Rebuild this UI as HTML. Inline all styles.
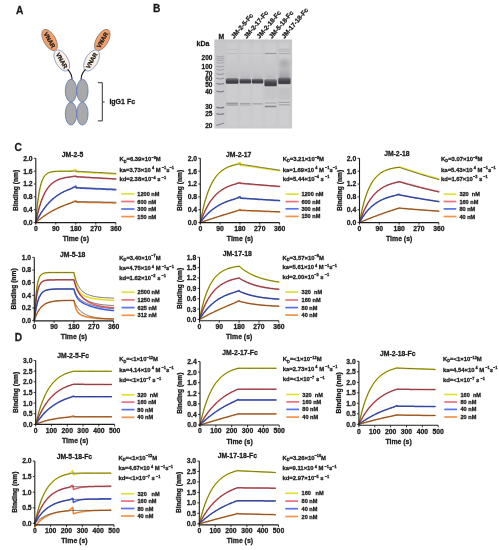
<!DOCTYPE html>
<html><head><meta charset="utf-8"><title>Figure</title>
<style>html,body{margin:0;padding:0;background:#fff;} body{width:499px;height:550px;overflow:hidden;} svg{display:block;filter:blur(0.3px);} text{stroke:#1a1a1a;stroke-width:0.26px;}</style>
</head><body>
<svg width="499" height="550" viewBox="0 0 499 550" font-family="'Liberation Sans', Arial, Helvetica, sans-serif" font-weight="bold">
<rect width="499" height="550" fill="#ffffff"/>
<text x="16" y="13.8" font-size="10.2" text-anchor="start" fill="#1a1a1a" >A</text>
<text x="153" y="11.6" font-size="10.2" text-anchor="start" fill="#1a1a1a" >B</text>
<text x="14.4" y="150.6" font-size="10.2" text-anchor="start" fill="#1a1a1a" >C</text>
<text x="14.8" y="340.6" font-size="10.2" text-anchor="start" fill="#1a1a1a" >D</text>
<g transform="translate(49.6 40.0) rotate(-30)"><ellipse rx="5.9" ry="11.8" fill="#f1a06c" stroke="#7d7470" stroke-width="0.7"/></g>
<text transform="translate(49.6 40.0) rotate(60)" font-size="6.0" text-anchor="middle" dy="2.1" fill="#2a2420">VNAR</text>
<g transform="translate(102.3 40.0) rotate(30)"><ellipse rx="5.9" ry="11.8" fill="#f1a06c" stroke="#7d7470" stroke-width="0.7"/></g>
<text transform="translate(102.3 40.0) rotate(-60)" font-size="6.0" text-anchor="middle" dy="2.1" fill="#2a2420">VNAR</text>
<g transform="translate(61.8 60.5) rotate(-30)"><ellipse rx="6.2" ry="11.7" fill="#fbefe6" stroke="#7f9ccc" stroke-width="0.8"/></g>
<text transform="translate(61.8 60.5) rotate(60)" font-size="6.0" text-anchor="middle" dy="2.1" fill="#2a2420">VNAR</text>
<g transform="translate(91.6 60.5) rotate(30)"><ellipse rx="6.2" ry="11.7" fill="#fbefe6" stroke="#7f9ccc" stroke-width="0.8"/></g>
<text transform="translate(91.6 60.5) rotate(-60)" font-size="6.0" text-anchor="middle" dy="2.1" fill="#2a2420">VNAR</text>
<path d="M67.6 69.4 Q71.5 73 72.2 79.6 M85.6 69.4 Q81.5 73 81.0 79.6" stroke="#111" stroke-width="1.1" fill="none"/>
<ellipse cx="71.0" cy="90.7" rx="5.7" ry="11.4" fill="#a9a9ab" stroke="#5876ad" stroke-width="0.8"/>
<ellipse cx="82.4" cy="90.7" rx="5.7" ry="11.4" fill="#a9a9ab" stroke="#5876ad" stroke-width="0.8"/>
<ellipse cx="71.0" cy="113.7" rx="5.7" ry="11.4" fill="#a9a9ab" stroke="#5876ad" stroke-width="0.8"/>
<ellipse cx="82.4" cy="113.7" rx="5.7" ry="11.4" fill="#a9a9ab" stroke="#5876ad" stroke-width="0.8"/>
<path d="M97.8 82.7 H102.3 V120.9 H97.8 M102.3 102 H104.6" stroke="#333" stroke-width="1" fill="none"/>
<text x="109.4" y="104" font-size="7.0" text-anchor="start" fill="#1a1a1a" >IgG1 Fc</text>
<defs><filter id="b1" x="-20%" y="-80%" width="140%" height="260%"><feGaussianBlur stdDeviation="0.55"/></filter><filter id="b2" x="-20%" y="-50%" width="140%" height="200%"><feGaussianBlur stdDeviation="0.9"/></filter><filter id="b3" x="-30%" y="-30%" width="160%" height="160%"><feGaussianBlur stdDeviation="1.6"/></filter><filter id="b4" x="-20%" y="-60%" width="140%" height="220%"><feGaussianBlur stdDeviation="0.7"/></filter><linearGradient id="gg" x1="0" y1="0" x2="0" y2="1"><stop offset="0" stop-color="#c3c3c5"/><stop offset="0.05" stop-color="#c7c7c9"/><stop offset="1" stop-color="#cacacc"/></linearGradient><linearGradient id="mb" x1="0" y1="0" x2="0" y2="1"><stop offset="0" stop-color="#48484e" stop-opacity="0.35"/><stop offset="0.3" stop-color="#46464c" stop-opacity="0.85"/><stop offset="0.6" stop-color="#404046" stop-opacity="1"/><stop offset="0.88" stop-color="#404046" stop-opacity="1"/><stop offset="1" stop-color="#404046" stop-opacity="0.55"/></linearGradient><linearGradient id="sm" x1="0" y1="0" x2="0" y2="1"><stop offset="0" stop-color="#8e8e94" stop-opacity="0"/><stop offset="0.6" stop-color="#8e8e94" stop-opacity="0.25"/><stop offset="1" stop-color="#8e8e94" stop-opacity="0.75"/></linearGradient></defs>
<rect x="214.3" y="39.5" width="77.8" height="89.0" fill="url(#gg)"/>
<rect x="226.8" y="42.5" width="10.699999999999989" height="83.0" fill="#d2d2d4" opacity="0.5" filter="url(#b2)"/>
<rect x="240.6" y="42.5" width="9.400000000000006" height="83.0" fill="#d2d2d4" opacity="0.5" filter="url(#b2)"/>
<rect x="252.8" y="42.5" width="9.399999999999977" height="83.0" fill="#d2d2d4" opacity="0.5" filter="url(#b2)"/>
<rect x="265.4" y="42.5" width="10.400000000000034" height="83.0" fill="#d2d2d4" opacity="0.5" filter="url(#b2)"/>
<rect x="279.2" y="42.5" width="10.400000000000034" height="83.0" fill="#d2d2d4" opacity="0.5" filter="url(#b2)"/>
<g fill="none" filter="url(#b1)">
<path d="M216.4 56.1 Q220.2 57.699999999999996 224.2 56.1" stroke="#9c9ca4" stroke-width="0.8"/>
<path d="M216.4 58.2 Q220.2 59.8 224.2 58.2" stroke="#9c9ca4" stroke-width="0.8"/>
<path d="M216.4 60.1 Q220.2 61.699999999999996 224.2 60.1" stroke="#a0a0a8" stroke-width="0.8"/>
<path d="M216.4 62.5 Q220.2 64.1 224.2 62.5" stroke="#a0a0a8" stroke-width="0.8"/>
<path d="M216.4 66.2 Q220.2 67.8 224.2 66.2" stroke="#9a9aa2" stroke-width="0.9"/>
<path d="M216.4 69.5 Q220.2 71.1 224.2 69.5" stroke="#9a9aa2" stroke-width="0.9"/>
<path d="M216.4 73.7 Q220.2 75.3 224.2 73.7" stroke="#8e8e96" stroke-width="1.0"/>
<path d="M216.4 78.2 Q220.2 79.8 224.2 78.2" stroke="#8e8e96" stroke-width="1.0"/>
<path d="M216.4 83.3 Q220.2 84.89999999999999 224.2 83.3" stroke="#85858d" stroke-width="1.2"/>
<path d="M216.4 91.0 Q220.2 92.6 224.2 91.0" stroke="#82828a" stroke-width="1.2"/>
<path d="M216.4 107.10000000000001 Q220.2 108.7 224.2 107.10000000000001" stroke="#7a7a82" stroke-width="1.3"/>
<path d="M216.4 113.60000000000001 Q220.2 115.2 224.2 113.60000000000001" stroke="#85858d" stroke-width="1.2"/>
<path d="M216.4 125.4 Q220.2 124.4 224.2 123.0" stroke="#8a8a92" stroke-width="1.1"/>
</g>
<g filter="url(#b2)">
<rect x="226.4" y="56" width="11.49999999999999" height="24" fill="url(#sm)" opacity="0.45"/>
<rect x="240.2" y="56" width="10.200000000000006" height="24" fill="url(#sm)" opacity="0.45"/>
<rect x="252.4" y="56" width="10.199999999999978" height="24" fill="url(#sm)" opacity="0.45"/>
<rect x="265.0" y="56" width="11.200000000000035" height="24" fill="url(#sm)" opacity="0.45"/>
<rect x="278.8" y="55" width="11.200000000000035" height="25" fill="url(#sm)" opacity="1"/>
<rect x="278.8" y="66" width="11.200000000000035" height="14" fill="url(#sm)" opacity="0.6"/>
</g>
<ellipse cx="284.4" cy="63.5" rx="5" ry="4.2" fill="#a9a9ae" opacity="0.8" filter="url(#b3)"/>
<g filter="url(#b4)">
<rect x="225.8" y="78.0" width="12.699999999999989" height="5.900000000000006" rx="1.5" fill="url(#mb)"/>
<rect x="239.6" y="78.4" width="11.400000000000006" height="5.299999999999997" rx="1.5" fill="url(#mb)"/>
<rect x="251.8" y="78.4" width="11.399999999999977" height="5.299999999999997" rx="1.5" fill="url(#mb)"/>
<rect x="264.4" y="79.0" width="12.400000000000034" height="7.599999999999994" rx="1.5" fill="url(#mb)"/>
<rect x="278.2" y="77.4" width="12.400000000000034" height="6.8999999999999915" rx="1.5" fill="url(#mb)"/>
</g>
<g filter="url(#b1)">
<rect x="226.3" y="102.7" width="11.699999999999989" height="1.2" fill="#8e8e95"/>
<rect x="226.3" y="104.4" width="11.699999999999989" height="1.2" fill="#96969c"/>
<rect x="226.3" y="53.300000000000004" width="11.699999999999989" height="0.8" fill="#b6b6ba"/>
<rect x="226.3" y="49.15" width="11.699999999999989" height="0.7" fill="#bdbdc0"/>
<rect x="240.1" y="102.89999999999999" width="10.400000000000006" height="1.4" fill="#a2a2a8"/>
<rect x="240.1" y="104.5" width="10.400000000000006" height="1.0" fill="#aaaaaf"/>
<rect x="240.1" y="53.35" width="10.400000000000006" height="0.7" fill="#bcbcc0"/>
<rect x="252.3" y="103.1" width="10.399999999999977" height="1.4" fill="#a8a8ad"/>
<rect x="252.3" y="53.35" width="10.399999999999977" height="0.7" fill="#bebec1"/>
<rect x="264.9" y="52.95" width="11.400000000000034" height="1.1" fill="#97979d"/>
<rect x="264.9" y="105.75" width="11.400000000000034" height="1.5" fill="#84848b"/>
<rect x="264.9" y="102.5" width="11.400000000000034" height="1.0" fill="#a6a6ab"/>
<rect x="278.7" y="48.800000000000004" width="11.400000000000034" height="0.8" fill="#afafb3"/>
<rect x="278.7" y="50.800000000000004" width="11.400000000000034" height="0.8" fill="#afafb3"/>
<rect x="278.7" y="53.15" width="11.400000000000034" height="0.9" fill="#a8a8ad"/>
<rect x="278.7" y="101.85000000000001" width="11.400000000000034" height="1.1" fill="#a2a2a8"/>
<rect x="278.7" y="104.25" width="11.400000000000034" height="1.1" fill="#a2a2a8"/>
</g>
<g filter="url(#b2)">
<rect x="264.9" y="88.6" width="11.400000000000034" height="1.04" fill="#b4b4b8"/>
<rect x="264.9" y="91.6" width="11.400000000000034" height="1.04" fill="#b6b6ba"/>
<rect x="264.9" y="94.6" width="11.400000000000034" height="1.04" fill="#b6b6ba"/>
<rect x="264.9" y="97.6" width="11.400000000000034" height="1.04" fill="#b8b8bc"/>
<rect x="278.7" y="88.39999999999999" width="11.400000000000034" height="1.04" fill="#b0b0b4"/>
<rect x="278.7" y="90.8" width="11.400000000000034" height="1.04" fill="#b2b2b6"/>
<rect x="278.7" y="93.19999999999999" width="11.400000000000034" height="1.04" fill="#b2b2b6"/>
<rect x="278.7" y="95.6" width="11.400000000000034" height="1.04" fill="#b4b4b8"/>
<rect x="278.7" y="98.0" width="11.400000000000034" height="1.04" fill="#b6b6ba"/>
</g>
<text x="196.6" y="45.7" font-size="7.0" text-anchor="start" fill="#1a1a1a" >kDa</text>
<text x="212.4" y="59.64" font-size="6.5" text-anchor="end" fill="#1a1a1a" >200</text>
<text x="212.4" y="68.74" font-size="6.5" text-anchor="end" fill="#1a1a1a" >100</text>
<text x="212.4" y="76.44" font-size="6.5" text-anchor="end" fill="#1a1a1a" >70</text>
<text x="212.4" y="81.44" font-size="6.5" text-anchor="end" fill="#1a1a1a" >60</text>
<text x="212.4" y="87.04" font-size="6.5" text-anchor="end" fill="#1a1a1a" >50</text>
<text x="212.4" y="94.44" font-size="6.5" text-anchor="end" fill="#1a1a1a" >40</text>
<text x="212.4" y="109.04" font-size="6.5" text-anchor="end" fill="#1a1a1a" >30</text>
<text x="212.4" y="116.24" font-size="6.5" text-anchor="end" fill="#1a1a1a" >25</text>
<text x="212.4" y="128.24" font-size="6.5" text-anchor="end" fill="#1a1a1a" >20</text>
<text x="221.3" y="38.9" font-size="6.8" text-anchor="middle" fill="#1a1a1a" >M</text>
<text transform="translate(234.0 39.0) rotate(-50)" font-size="6.5" fill="#1a1a1a">JM-2-5-Fc</text>
<text transform="translate(246.7 39.0) rotate(-50)" font-size="6.5" fill="#1a1a1a">JM-2-17-Fc</text>
<text transform="translate(259.6 39.0) rotate(-50)" font-size="6.5" fill="#1a1a1a">JM-2-18-Fc</text>
<text transform="translate(271.9 39.0) rotate(-50)" font-size="6.5" fill="#1a1a1a">JM-5-18-Fc</text>
<text transform="translate(284.4 39.0) rotate(-50)" font-size="6.5" fill="#1a1a1a">JM-17-18-Fc</text>
<g fill="none" stroke-linejoin="round" stroke-linecap="round">
<path d="M35.8,222.6 36.4,218.4 36.9,211.5 37.5,205.6 38.1,200.5 38.7,196.3 39.2,192.6 39.8,189.5 40.4,186.8 40.9,184.6 41.5,182.6 42.1,180.9 42.7,179.5 43.2,178.3 43.8,177.3 44.4,176.4 44.9,175.6 45.5,175.0 46.1,174.4 46.7,174.0 47.2,173.6 47.8,173.2 48.4,172.9 48.9,172.7 49.5,172.5 50.1,172.3 50.7,172.1 51.2,172.0 51.8,171.9 52.4,171.8 52.9,171.7 53.5,171.6 54.1,171.5 54.7,171.5 55.2,171.4 55.8,171.4 56.4,171.4 56.9,171.3 57.5,171.3 58.1,171.3 58.7,171.3 59.2,171.3 59.8,171.2 60.4,171.2 60.9,171.2 61.5,171.2 62.1,171.2 62.7,171.2 63.2,171.2 63.8,171.2 64.4,171.2 64.9,171.2 65.5,171.2 66.1,171.2 66.7,171.2 67.2,171.2 67.8,171.2 68.4,171.2 68.9,171.2 69.5,171.2 70.1,171.2 70.7,171.0 71.2,170.9 71.8,170.7 72.4,170.5 72.9,170.4 73.5,170.2 74.1,170.1 74.7,169.9 75.2,169.7 75.8,169.6 76.4,171.8 76.9,171.9 77.5,171.9 78.1,171.9 78.7,172.0 79.2,172.0 79.8,172.0 80.4,172.1 80.9,172.1 81.5,172.1 82.1,172.2 82.7,172.2 83.2,172.2 83.8,172.3 84.4,172.3 84.9,172.3 85.5,172.4 86.1,172.4 86.7,172.4 87.2,172.5 87.8,172.5 88.4,172.5 88.9,172.6 89.5,172.6 90.1,172.6 90.7,172.7 91.2,172.7 91.8,172.7 92.4,172.8 92.9,172.8 93.5,172.8 94.1,172.9 94.7,172.9 95.2,172.9 95.8,172.9 96.4,173.0 96.9,173.0 97.5,173.0 98.1,173.1 98.7,173.1 99.2,173.1 99.8,173.2 100.4,173.2 100.9,173.2 101.5,173.3 102.1,173.3 102.7,173.3 103.2,173.4 103.8,173.4 104.4,173.4 104.9,173.5 105.5,173.5 106.1,173.5 106.7,173.6 107.2,173.6 107.8,173.6 108.4,173.7 108.9,173.7 109.5,173.7 110.1,173.8 110.7,173.8 111.2,173.8 111.8,173.8 112.4,173.9 112.9,173.9 113.5,173.9 114.1,174.0 114.7,174.0 115.2,174.0 115.8,174.1" stroke="#e3dc1c" stroke-width="1.5"/>
<path d="M35.8,222.6 36.4,219.7 36.9,217.0 37.5,214.4 38.1,212.0 38.7,209.8 39.2,207.7 39.8,205.7 40.4,203.9 40.9,202.1 41.5,200.5 42.1,199.0 42.7,197.5 43.2,196.2 43.8,194.9 44.4,193.8 44.9,192.6 45.5,191.6 46.1,190.6 46.7,189.7 47.2,188.9 47.8,188.1 48.4,187.3 48.9,186.6 49.5,185.9 50.1,185.3 50.7,184.7 51.2,184.2 51.8,183.7 52.4,183.2 52.9,182.8 53.5,182.3 54.1,181.9 54.7,181.6 55.2,181.2 55.8,180.9 56.4,180.6 56.9,180.3 57.5,180.0 58.1,179.8 58.7,179.5 59.2,179.3 59.8,179.1 60.4,178.9 60.9,178.7 61.5,178.6 62.1,178.4 62.7,178.3 63.2,178.1 63.8,178.0 64.4,177.9 64.9,177.7 65.5,177.6 66.1,177.5 66.7,177.4 67.2,177.3 67.8,177.3 68.4,177.2 68.9,177.1 69.5,177.0 70.1,177.0 70.7,176.9 71.2,176.7 71.8,176.6 72.4,176.5 72.9,176.4 73.5,176.3 74.1,176.2 74.7,176.1 75.2,176.0 75.8,175.9 76.4,176.9 76.9,176.9 77.5,176.9 78.1,177.0 78.7,177.0 79.2,177.0 79.8,177.1 80.4,177.1 80.9,177.1 81.5,177.2 82.1,177.2 82.7,177.2 83.2,177.3 83.8,177.3 84.4,177.3 84.9,177.3 85.5,177.4 86.1,177.4 86.7,177.4 87.2,177.5 87.8,177.5 88.4,177.5 88.9,177.6 89.5,177.6 90.1,177.6 90.7,177.7 91.2,177.7 91.8,177.7 92.4,177.8 92.9,177.8 93.5,177.8 94.1,177.9 94.7,177.9 95.2,177.9 95.8,178.0 96.4,178.0 96.9,178.0 97.5,178.1 98.1,178.1 98.7,178.1 99.2,178.2 99.8,178.2 100.4,178.2 100.9,178.3 101.5,178.3 102.1,178.3 102.7,178.4 103.2,178.4 103.8,178.4 104.4,178.5 104.9,178.5 105.5,178.5 106.1,178.5 106.7,178.6 107.2,178.6 107.8,178.6 108.4,178.7 108.9,178.7 109.5,178.7 110.1,178.8 110.7,178.8 111.2,178.8 111.8,178.9 112.4,178.9 112.9,178.9 113.5,179.0 114.1,179.0 114.7,179.0 115.2,179.1 115.8,179.1" stroke="#ec5a64" stroke-width="1.5"/>
<path d="M35.8,222.6 36.4,221.4 36.9,220.3 37.5,219.2 38.1,218.1 38.7,217.1 39.2,216.1 39.8,215.1 40.4,214.1 40.9,213.2 41.5,212.3 42.1,211.4 42.7,210.6 43.2,209.8 43.8,209.0 44.4,208.2 44.9,207.4 45.5,206.7 46.1,206.0 46.7,205.3 47.2,204.6 47.8,204.0 48.4,203.3 48.9,202.7 49.5,202.1 50.1,201.6 50.7,201.0 51.2,200.4 51.8,199.9 52.4,199.4 52.9,198.9 53.5,198.4 54.1,197.9 54.7,197.5 55.2,197.0 55.8,196.6 56.4,196.2 56.9,195.8 57.5,195.4 58.1,195.0 58.7,194.6 59.2,194.3 59.8,193.9 60.4,193.6 60.9,193.2 61.5,192.9 62.1,192.6 62.7,192.3 63.2,192.0 63.8,191.7 64.4,191.4 64.9,191.2 65.5,190.9 66.1,190.7 66.7,190.4 67.2,190.2 67.8,189.9 68.4,189.7 68.9,189.5 69.5,189.3 70.1,189.1 70.7,188.8 71.2,188.4 71.8,188.1 72.4,187.8 72.9,187.5 73.5,187.2 74.1,186.9 74.7,186.6 75.2,186.3 75.8,186.0 76.4,188.0 76.9,188.0 77.5,188.0 78.1,188.0 78.7,188.1 79.2,188.1 79.8,188.1 80.4,188.2 80.9,188.2 81.5,188.2 82.1,188.2 82.7,188.3 83.2,188.3 83.8,188.3 84.4,188.3 84.9,188.4 85.5,188.4 86.1,188.4 86.7,188.5 87.2,188.5 87.8,188.5 88.4,188.5 88.9,188.6 89.5,188.6 90.1,188.6 90.7,188.6 91.2,188.7 91.8,188.7 92.4,188.7 92.9,188.7 93.5,188.8 94.1,188.8 94.7,188.8 95.2,188.9 95.8,188.9 96.4,188.9 96.9,188.9 97.5,189.0 98.1,189.0 98.7,189.0 99.2,189.0 99.8,189.1 100.4,189.1 100.9,189.1 101.5,189.1 102.1,189.2 102.7,189.2 103.2,189.2 103.8,189.2 104.4,189.3 104.9,189.3 105.5,189.3 106.1,189.4 106.7,189.4 107.2,189.4 107.8,189.4 108.4,189.5 108.9,189.5 109.5,189.5 110.1,189.5 110.7,189.6 111.2,189.6 111.8,189.6 112.4,189.6 112.9,189.7 113.5,189.7 114.1,189.7 114.7,189.7 115.2,189.8 115.8,189.8" stroke="#3a5ae6" stroke-width="1.5"/>
<path d="M35.8,222.6 36.4,222.1 36.9,221.6 37.5,221.1 38.1,220.6 38.7,220.2 39.2,219.7 39.8,219.2 40.4,218.8 40.9,218.3 41.5,217.9 42.1,217.5 42.7,217.1 43.2,216.7 43.8,216.2 44.4,215.8 44.9,215.5 45.5,215.1 46.1,214.7 46.7,214.3 47.2,213.9 47.8,213.6 48.4,213.2 48.9,212.9 49.5,212.5 50.1,212.2 50.7,211.9 51.2,211.5 51.8,211.2 52.4,210.9 52.9,210.6 53.5,210.3 54.1,210.0 54.7,209.7 55.2,209.4 55.8,209.1 56.4,208.8 56.9,208.5 57.5,208.3 58.1,208.0 58.7,207.7 59.2,207.5 59.8,207.2 60.4,207.0 60.9,206.7 61.5,206.5 62.1,206.2 62.7,206.0 63.2,205.8 63.8,205.5 64.4,205.3 64.9,205.1 65.5,204.9 66.1,204.7 66.7,204.5 67.2,204.2 67.8,204.0 68.4,203.8 68.9,203.6 69.5,203.5 70.1,203.3 70.7,203.0 71.2,202.7 71.8,202.4 72.4,202.2 72.9,201.9 73.5,201.6 74.1,201.4 74.7,201.1 75.2,200.8 75.8,200.6 76.4,202.2 76.9,202.2 77.5,202.2 78.1,202.2 78.7,202.2 79.2,202.2 79.8,202.2 80.4,202.3 80.9,202.3 81.5,202.3 82.1,202.3 82.7,202.3 83.2,202.3 83.8,202.3 84.4,202.3 84.9,202.3 85.5,202.4 86.1,202.4 86.7,202.4 87.2,202.4 87.8,202.4 88.4,202.4 88.9,202.4 89.5,202.4 90.1,202.4 90.7,202.5 91.2,202.5 91.8,202.5 92.4,202.5 92.9,202.5 93.5,202.5 94.1,202.5 94.7,202.5 95.2,202.5 95.8,202.5 96.4,202.6 96.9,202.6 97.5,202.6 98.1,202.6 98.7,202.6 99.2,202.6 99.8,202.6 100.4,202.6 100.9,202.6 101.5,202.7 102.1,202.7 102.7,202.7 103.2,202.7 103.8,202.7 104.4,202.7 104.9,202.7 105.5,202.7 106.1,202.7 106.7,202.7 107.2,202.8 107.8,202.8 108.4,202.8 108.9,202.8 109.5,202.8 110.1,202.8 110.7,202.8 111.2,202.8 111.8,202.8 112.4,202.9 112.9,202.9 113.5,202.9 114.1,202.9 114.7,202.9 115.2,202.9 115.8,202.9" stroke="#f2822a" stroke-width="1.5"/>
<path d="M35.8,222.6 36.9,208.9 38.1,198.9 39.2,191.5 40.4,186.1 41.5,182.2 42.7,179.2 43.8,177.1 44.9,175.5 46.1,174.4 47.2,173.5 48.4,172.9 49.5,172.4 50.7,172.1 51.8,171.8 52.9,171.7 54.1,171.5 55.2,171.4 56.4,171.4 57.5,171.3 58.7,171.3 59.8,171.2 60.9,171.2 62.1,171.2 63.2,171.2 64.4,171.2 65.5,171.2 66.7,171.2 67.8,171.2 68.9,171.2 70.1,171.2 71.2,171.2 72.4,171.2 73.5,171.2 74.7,171.2 75.8,171.2 76.9,171.2 78.1,171.3 79.2,171.4 80.4,171.4 81.5,171.5 82.7,171.6 83.8,171.6 84.9,171.7 86.1,171.8 87.2,171.8 88.4,171.9 89.5,171.9 90.7,172.0 91.8,172.1 92.9,172.1 94.1,172.2 95.2,172.3 96.4,172.3 97.5,172.4 98.7,172.5 99.8,172.5 100.9,172.6 102.1,172.7 103.2,172.7 104.4,172.8 105.5,172.9 106.7,172.9 107.8,173.0 108.9,173.0 110.1,173.1 111.2,173.2 112.4,173.2 113.5,173.3 114.7,173.4 115.8,173.4" stroke="#3a3a3a" stroke-width="0.75" stroke-opacity="0.9"/>
<path d="M35.8,222.6 36.9,217.0 38.1,212.0 39.2,207.7 40.4,203.9 41.5,200.5 42.7,197.5 43.8,194.9 44.9,192.6 46.1,190.6 47.2,188.9 48.4,187.3 49.5,185.9 50.7,184.7 51.8,183.7 52.9,182.8 54.1,181.9 55.2,181.2 56.4,180.6 57.5,180.0 58.7,179.5 59.8,179.1 60.9,178.7 62.1,178.4 63.2,178.1 64.4,177.9 65.5,177.6 66.7,177.4 67.8,177.3 68.9,177.1 70.1,177.0 71.2,176.8 72.4,176.7 73.5,176.7 74.7,176.6 75.8,176.5 76.9,176.6 78.1,176.6 79.2,176.7 80.4,176.8 81.5,176.8 82.7,176.9 83.8,177.0 84.9,177.0 86.1,177.1 87.2,177.2 88.4,177.2 89.5,177.3 90.7,177.4 91.8,177.4 92.9,177.5 94.1,177.6 95.2,177.6 96.4,177.7 97.5,177.7 98.7,177.8 99.8,177.9 100.9,177.9 102.1,178.0 103.2,178.1 104.4,178.1 105.5,178.2 106.7,178.3 107.8,178.3 108.9,178.4 110.1,178.4 111.2,178.5 112.4,178.6 113.5,178.6 114.7,178.7 115.8,178.8" stroke="#3a3a3a" stroke-width="0.75" stroke-opacity="0.9"/>
<path d="M35.8,222.6 36.9,220.3 38.1,218.1 39.2,216.1 40.4,214.1 41.5,212.3 42.7,210.6 43.8,209.0 44.9,207.4 46.1,206.0 47.2,204.6 48.4,203.3 49.5,202.1 50.7,201.0 51.8,199.9 52.9,198.9 54.1,197.9 55.2,197.0 56.4,196.2 57.5,195.4 58.7,194.6 59.8,193.9 60.9,193.2 62.1,192.6 63.2,192.0 64.4,191.4 65.5,190.9 66.7,190.4 67.8,189.9 68.9,189.5 70.1,189.1 71.2,188.7 72.4,188.3 73.5,187.9 74.7,187.6 75.8,187.3 76.9,187.3 78.1,187.4 79.2,187.5 80.4,187.5 81.5,187.6 82.7,187.6 83.8,187.7 84.9,187.7 86.1,187.8 87.2,187.8 88.4,187.9 89.5,187.9 90.7,188.0 91.8,188.0 92.9,188.1 94.1,188.2 95.2,188.2 96.4,188.3 97.5,188.3 98.7,188.4 99.8,188.4 100.9,188.5 102.1,188.5 103.2,188.6 104.4,188.6 105.5,188.7 106.7,188.7 107.8,188.8 108.9,188.8 110.1,188.9 111.2,188.9 112.4,189.0 113.5,189.0 114.7,189.1 115.8,189.2" stroke="#3a3a3a" stroke-width="0.75" stroke-opacity="0.9"/>
<path d="M35.8,222.6 36.9,221.6 38.1,220.6 39.2,219.7 40.4,218.8 41.5,217.9 42.7,217.1 43.8,216.2 44.9,215.5 46.1,214.7 47.2,213.9 48.4,213.2 49.5,212.5 50.7,211.9 51.8,211.2 52.9,210.6 54.1,210.0 55.2,209.4 56.4,208.8 57.5,208.3 58.7,207.7 59.8,207.2 60.9,206.7 62.1,206.2 63.2,205.8 64.4,205.3 65.5,204.9 66.7,204.5 67.8,204.0 68.9,203.6 70.1,203.3 71.2,202.9 72.4,202.5 73.5,202.2 74.7,201.9 75.8,201.5 76.9,201.6 78.1,201.6 79.2,201.6 80.4,201.6 81.5,201.6 82.7,201.7 83.8,201.7 84.9,201.7 86.1,201.7 87.2,201.7 88.4,201.8 89.5,201.8 90.7,201.8 91.8,201.8 92.9,201.9 94.1,201.9 95.2,201.9 96.4,201.9 97.5,201.9 98.7,202.0 99.8,202.0 100.9,202.0 102.1,202.0 103.2,202.0 104.4,202.1 105.5,202.1 106.7,202.1 107.8,202.1 108.9,202.1 110.1,202.2 111.2,202.2 112.4,202.2 113.5,202.2 114.7,202.3 115.8,202.3" stroke="#3a3a3a" stroke-width="0.75" stroke-opacity="0.9"/>
</g>
<path d="M35.8 158.3 V222.6 H115.8" stroke="#1e1e1e" stroke-width="1.1" fill="none"/>
<path d="M33.8 222.6 H35.8 M33.8 209.74 H35.8 M33.8 196.88 H35.8 M33.8 184.02 H35.8 M33.8 171.16 H35.8 M33.8 158.3 H35.8 M35.8 222.6 V224.6 M55.8 222.6 V224.6 M75.8 222.6 V224.6 M95.8 222.6 V224.6 M115.8 222.6 V224.6" stroke="#1e1e1e" stroke-width="0.9" fill="none"/>
<text x="32.6" y="225.05" font-size="6.8" text-anchor="end" fill="#1a1a1a" >0.0</text>
<text x="32.6" y="212.19" font-size="6.8" text-anchor="end" fill="#1a1a1a" >0.4</text>
<text x="32.6" y="199.33" font-size="6.8" text-anchor="end" fill="#1a1a1a" >0.8</text>
<text x="32.6" y="186.47" font-size="6.8" text-anchor="end" fill="#1a1a1a" >1.2</text>
<text x="32.6" y="173.61" font-size="6.8" text-anchor="end" fill="#1a1a1a" >1.6</text>
<text x="32.6" y="160.75" font-size="6.8" text-anchor="end" fill="#1a1a1a" >2.0</text>
<text x="35.8" y="230.85" font-size="6.8" text-anchor="middle" fill="#1a1a1a" >0</text>
<text x="55.8" y="230.85" font-size="6.8" text-anchor="middle" fill="#1a1a1a" >90</text>
<text x="75.8" y="230.85" font-size="6.8" text-anchor="middle" fill="#1a1a1a" >180</text>
<text x="95.8" y="230.85" font-size="6.8" text-anchor="middle" fill="#1a1a1a" >270</text>
<text x="115.8" y="230.85" font-size="6.8" text-anchor="middle" fill="#1a1a1a" >360</text>
<text x="75.8" y="241.18" font-size="6.9" text-anchor="middle" fill="#1a1a1a" >Time (s)</text>
<text transform="translate(17.81 190.45) rotate(-90)" font-size="6.7" text-anchor="middle" fill="#1a1a1a">Binding (nm)</text>
<text x="72.5" y="156.8" font-size="6.8" text-anchor="middle" fill="#1a1a1a" >JM-2-5</text>
<text x="119.4" y="161.12" font-size="5.9" fill="#1a1a1a">K<tspan font-size="3.9" dy="1.4">D</tspan><tspan dy="-1.4">=6.39×10</tspan><tspan font-size="3.9" dy="-2.5">−9</tspan><tspan dy="2.5">M</tspan></text>
<text x="119.4" y="171.72" font-size="5.9" fill="#1a1a1a">ka=3.73×10<tspan font-size="3.9" dy="-2.5"> 4</tspan><tspan dy="2.5"> M</tspan><tspan font-size="3.9" dy="-2.5"> −1</tspan><tspan dy="2.5">s</tspan><tspan font-size="3.9" dy="-2.5">−1</tspan></text>
<text x="119.4" y="181.12" font-size="5.9" fill="#1a1a1a">kd=2.38×10<tspan font-size="3.9" dy="-2.5">−4</tspan><tspan dy="2.5"> s</tspan><tspan font-size="3.9" dy="-2.5"> −1</tspan></text>
<path d="M121.2 193.8 H134.5" stroke="#e2df38" stroke-width="1.7"/>
<text x="137.3" y="195.82" font-size="5.6" text-anchor="start" fill="#1a1a1a" >1200 nM</text>
<path d="M121.2 201.5 H134.5" stroke="#ef6f7a" stroke-width="1.7"/>
<text x="137.3" y="203.52" font-size="5.6" text-anchor="start" fill="#1a1a1a" >600 nM</text>
<path d="M121.2 209 H134.5" stroke="#5672ee" stroke-width="1.7"/>
<text x="137.3" y="211.02" font-size="5.6" text-anchor="start" fill="#1a1a1a" >300 nM</text>
<path d="M121.2 216.6 H134.5" stroke="#f5924a" stroke-width="1.7"/>
<text x="137.3" y="218.62" font-size="5.6" text-anchor="start" fill="#1a1a1a" >150 nM</text>
<g fill="none" stroke-linejoin="round" stroke-linecap="round">
<path d="M200.3,222.6 200.9,219.5 201.4,216.6 202.0,213.8 202.6,211.2 203.1,208.7 203.7,206.4 204.3,204.1 204.8,202.0 205.4,200.0 206.0,198.1 206.5,196.2 207.1,194.5 207.7,192.9 208.2,191.3 208.8,189.9 209.4,188.5 209.9,187.1 210.5,185.9 211.1,184.7 211.6,183.5 212.2,182.5 212.8,181.4 213.3,180.5 213.9,179.6 214.5,178.7 215.0,177.9 215.6,177.1 216.2,176.3 216.7,175.6 217.3,174.9 217.9,174.3 218.4,173.7 219.0,173.1 219.6,172.6 220.1,172.1 220.7,171.6 221.3,171.1 221.8,170.7 222.4,170.3 223.0,169.9 223.5,169.5 224.1,169.1 224.7,168.8 225.2,168.5 225.8,168.2 226.4,167.9 226.9,167.6 227.5,167.3 228.1,167.1 228.6,166.8 229.2,166.6 229.8,166.4 230.3,166.2 230.9,166.0 231.5,165.8 232.0,165.7 232.6,165.5 233.2,165.3 233.7,165.2 234.3,165.1 234.9,164.8 235.4,164.5 236.0,164.2 236.6,164.0 237.1,163.7 237.7,163.4 238.3,163.2 238.8,162.9 239.4,162.6 240.0,162.4 240.5,165.6 241.1,165.6 241.6,165.6 242.2,165.6 242.8,165.6 243.3,165.6 243.9,165.7 244.5,165.7 245.0,165.8 245.6,165.8 246.2,165.9 246.7,165.9 247.3,166.0 247.9,166.1 248.4,166.2 249.0,166.2 249.6,166.3 250.1,166.4 250.7,166.5 251.3,166.5 251.8,166.6 252.4,166.7 253.0,166.8 253.5,166.9 254.1,166.9 254.7,167.0 255.2,167.1 255.8,167.2 256.4,167.3 256.9,167.4 257.5,167.4 258.1,167.5 258.6,167.6 259.2,167.7 259.8,167.8 260.3,167.9 260.9,168.0 261.5,168.0 262.0,168.1 262.6,168.2 263.2,168.3 263.7,168.4 264.3,168.5 264.9,168.6 265.4,168.6 266.0,168.7 266.6,168.8 267.1,168.9 267.7,169.0 268.3,169.1 268.8,169.2 269.4,169.2 270.0,169.3 270.5,169.4 271.1,169.5 271.7,169.6 272.2,169.7 272.8,169.7 273.4,169.8 273.9,169.9 274.5,170.0 275.1,170.1 275.6,170.2 276.2,170.2 276.8,170.3 277.3,170.4 277.9,170.5 278.5,170.6 279.0,170.7 279.6,170.7" stroke="#e3dc1c" stroke-width="1.5"/>
<path d="M200.3,222.6 200.9,221.0 201.4,219.4 202.0,217.9 202.6,216.5 203.1,215.1 203.7,213.8 204.3,212.5 204.8,211.2 205.4,210.1 206.0,208.9 206.5,207.8 207.1,206.8 207.7,205.8 208.2,204.8 208.8,203.8 209.4,202.9 209.9,202.1 210.5,201.2 211.1,200.4 211.6,199.7 212.2,198.9 212.8,198.2 213.3,197.5 213.9,196.9 214.5,196.2 215.0,195.6 215.6,195.0 216.2,194.5 216.7,193.9 217.3,193.4 217.9,192.9 218.4,192.4 219.0,192.0 219.6,191.5 220.1,191.1 220.7,190.7 221.3,190.3 221.8,189.9 222.4,189.5 223.0,189.2 223.5,188.8 224.1,188.5 224.7,188.2 225.2,187.9 225.8,187.6 226.4,187.3 226.9,187.1 227.5,186.8 228.1,186.6 228.6,186.3 229.2,186.1 229.8,185.9 230.3,185.6 230.9,185.4 231.5,185.2 232.0,185.1 232.6,184.9 233.2,184.7 233.7,184.5 234.3,184.4 234.9,184.2 235.4,184.0 236.0,183.7 236.6,183.5 237.1,183.3 237.7,183.1 238.3,183.0 238.8,182.8 239.4,182.6 240.0,182.4 240.5,183.4 241.1,183.5 241.6,183.5 242.2,183.6 242.8,183.6 243.3,183.7 243.9,183.7 244.5,183.8 245.0,183.8 245.6,183.9 246.2,183.9 246.7,184.0 247.3,184.0 247.9,184.0 248.4,184.1 249.0,184.1 249.6,184.2 250.1,184.2 250.7,184.3 251.3,184.3 251.8,184.4 252.4,184.4 253.0,184.5 253.5,184.5 254.1,184.6 254.7,184.6 255.2,184.7 255.8,184.7 256.4,184.7 256.9,184.8 257.5,184.8 258.1,184.9 258.6,184.9 259.2,185.0 259.8,185.0 260.3,185.1 260.9,185.1 261.5,185.2 262.0,185.2 262.6,185.3 263.2,185.3 263.7,185.3 264.3,185.4 264.9,185.4 265.4,185.5 266.0,185.5 266.6,185.6 267.1,185.6 267.7,185.7 268.3,185.7 268.8,185.7 269.4,185.8 270.0,185.8 270.5,185.9 271.1,185.9 271.7,186.0 272.2,186.0 272.8,186.1 273.4,186.1 273.9,186.2 274.5,186.2 275.1,186.2 275.6,186.3 276.2,186.3 276.8,186.4 277.3,186.4 277.9,186.5 278.5,186.5 279.0,186.5 279.6,186.6" stroke="#ec5a64" stroke-width="1.5"/>
<path d="M200.3,222.6 200.9,221.8 201.4,221.0 202.0,220.3 202.6,219.5 203.1,218.8 203.7,218.1 204.3,217.5 204.8,216.8 205.4,216.2 206.0,215.6 206.5,215.0 207.1,214.4 207.7,213.8 208.2,213.3 208.8,212.7 209.4,212.2 209.9,211.7 210.5,211.2 211.1,210.7 211.6,210.2 212.2,209.8 212.8,209.3 213.3,208.9 213.9,208.5 214.5,208.1 215.0,207.7 215.6,207.3 216.2,206.9 216.7,206.6 217.3,206.2 217.9,205.9 218.4,205.5 219.0,205.2 219.6,204.9 220.1,204.6 220.7,204.3 221.3,204.0 221.8,203.7 222.4,203.4 223.0,203.2 223.5,202.9 224.1,202.7 224.7,202.4 225.2,202.2 225.8,202.0 226.4,201.7 226.9,201.5 227.5,201.3 228.1,201.1 228.6,200.9 229.2,200.7 229.8,200.5 230.3,200.3 230.9,200.1 231.5,200.0 232.0,199.8 232.6,199.6 233.2,199.5 233.7,199.3 234.3,199.2 234.9,198.9 235.4,198.6 236.0,198.4 236.6,198.1 237.1,197.8 237.7,197.6 238.3,197.3 238.8,197.1 239.4,196.8 240.0,196.6 240.5,198.2 241.1,198.2 241.6,198.3 242.2,198.3 242.8,198.4 243.3,198.4 243.9,198.4 244.5,198.5 245.0,198.5 245.6,198.5 246.2,198.6 246.7,198.6 247.3,198.7 247.9,198.7 248.4,198.7 249.0,198.8 249.6,198.8 250.1,198.8 250.7,198.9 251.3,198.9 251.8,199.0 252.4,199.0 253.0,199.0 253.5,199.1 254.1,199.1 254.7,199.1 255.2,199.2 255.8,199.2 256.4,199.2 256.9,199.3 257.5,199.3 258.1,199.4 258.6,199.4 259.2,199.4 259.8,199.5 260.3,199.5 260.9,199.5 261.5,199.6 262.0,199.6 262.6,199.6 263.2,199.7 263.7,199.7 264.3,199.8 264.9,199.8 265.4,199.8 266.0,199.9 266.6,199.9 267.1,199.9 267.7,200.0 268.3,200.0 268.8,200.0 269.4,200.1 270.0,200.1 270.5,200.1 271.1,200.2 271.7,200.2 272.2,200.2 272.8,200.3 273.4,200.3 273.9,200.4 274.5,200.4 275.1,200.4 275.6,200.5 276.2,200.5 276.8,200.5 277.3,200.6 277.9,200.6 278.5,200.6 279.0,200.7 279.6,200.7" stroke="#3a5ae6" stroke-width="1.5"/>
<path d="M200.3,222.6 200.9,222.4 201.4,222.2 202.0,222.0 202.6,221.8 203.1,221.6 203.7,221.4 204.3,221.2 204.8,221.0 205.4,220.8 206.0,220.6 206.5,220.5 207.1,220.3 207.7,220.1 208.2,219.9 208.8,219.7 209.4,219.5 209.9,219.3 210.5,219.1 211.1,218.9 211.6,218.8 212.2,218.6 212.8,218.4 213.3,218.2 213.9,218.0 214.5,217.8 215.0,217.6 215.6,217.5 216.2,217.3 216.7,217.1 217.3,216.9 217.9,216.7 218.4,216.6 219.0,216.4 219.6,216.2 220.1,216.0 220.7,215.8 221.3,215.7 221.8,215.5 222.4,215.3 223.0,215.1 223.5,215.0 224.1,214.8 224.7,214.6 225.2,214.4 225.8,214.3 226.4,214.1 226.9,213.9 227.5,213.7 228.1,213.6 228.6,213.4 229.2,213.2 229.8,213.1 230.3,212.9 230.9,212.7 231.5,212.5 232.0,212.4 232.6,212.2 233.2,212.0 233.7,211.9 234.3,211.7 234.9,211.5 235.4,211.3 236.0,211.0 236.6,210.8 237.1,210.6 237.7,210.4 238.3,210.1 238.8,209.9 239.4,209.7 240.0,209.4 240.5,210.4 241.1,210.5 241.6,210.5 242.2,210.5 242.8,210.5 243.3,210.6 243.9,210.6 244.5,210.6 245.0,210.6 245.6,210.6 246.2,210.7 246.7,210.7 247.3,210.7 247.9,210.7 248.4,210.8 249.0,210.8 249.6,210.8 250.1,210.8 250.7,210.9 251.3,210.9 251.8,210.9 252.4,210.9 253.0,211.0 253.5,211.0 254.1,211.0 254.7,211.0 255.2,211.0 255.8,211.1 256.4,211.1 256.9,211.1 257.5,211.1 258.1,211.2 258.6,211.2 259.2,211.2 259.8,211.2 260.3,211.3 260.9,211.3 261.5,211.3 262.0,211.3 262.6,211.3 263.2,211.4 263.7,211.4 264.3,211.4 264.9,211.4 265.4,211.5 266.0,211.5 266.6,211.5 267.1,211.5 267.7,211.5 268.3,211.6 268.8,211.6 269.4,211.6 270.0,211.6 270.5,211.7 271.1,211.7 271.7,211.7 272.2,211.7 272.8,211.7 273.4,211.8 273.9,211.8 274.5,211.8 275.1,211.8 275.6,211.9 276.2,211.9 276.8,211.9 277.3,211.9 277.9,211.9 278.5,212.0 279.0,212.0 279.6,212.0" stroke="#f2822a" stroke-width="1.5"/>
<path d="M200.3,222.6 201.4,216.6 202.6,211.2 203.7,206.4 204.8,202.0 206.0,198.1 207.1,194.5 208.2,191.3 209.4,188.5 210.5,185.9 211.6,183.5 212.8,181.4 213.9,179.6 215.0,177.9 216.2,176.3 217.3,174.9 218.4,173.7 219.6,172.6 220.7,171.6 221.8,170.7 223.0,169.9 224.1,169.1 225.2,168.5 226.4,167.9 227.5,167.3 228.6,166.8 229.8,166.4 230.9,166.0 232.0,165.7 233.2,165.3 234.3,165.1 235.4,164.8 236.6,164.6 237.7,164.4 238.8,164.2 240.0,164.0 241.1,164.2 242.2,164.4 243.3,164.6 244.5,164.7 245.6,164.9 246.7,165.1 247.9,165.3 249.0,165.5 250.1,165.6 251.3,165.8 252.4,166.0 253.5,166.2 254.7,166.3 255.8,166.5 256.9,166.7 258.1,166.9 259.2,167.1 260.3,167.2 261.5,167.4 262.6,167.6 263.7,167.7 264.9,167.9 266.0,168.1 267.1,168.3 268.3,168.4 269.4,168.6 270.5,168.8 271.7,168.9 272.8,169.1 273.9,169.3 275.1,169.4 276.2,169.6 277.3,169.8 278.5,169.9 279.6,170.1" stroke="#3a3a3a" stroke-width="0.75" stroke-opacity="0.9"/>
<path d="M200.3,222.6 201.4,219.4 202.6,216.5 203.7,213.8 204.8,211.2 206.0,208.9 207.1,206.8 208.2,204.8 209.4,202.9 210.5,201.2 211.6,199.7 212.8,198.2 213.9,196.9 215.0,195.6 216.2,194.5 217.3,193.4 218.4,192.4 219.6,191.5 220.7,190.7 221.8,189.9 223.0,189.2 224.1,188.5 225.2,187.9 226.4,187.3 227.5,186.8 228.6,186.3 229.8,185.9 230.9,185.4 232.0,185.1 233.2,184.7 234.3,184.4 235.4,184.1 236.6,183.8 237.7,183.5 238.8,183.3 240.0,183.1 241.1,183.2 242.2,183.3 243.3,183.3 244.5,183.4 245.6,183.5 246.7,183.6 247.9,183.7 249.0,183.8 250.1,183.9 251.3,184.0 252.4,184.1 253.5,184.2 254.7,184.3 255.8,184.4 256.9,184.5 258.1,184.6 259.2,184.7 260.3,184.7 261.5,184.8 262.6,184.9 263.7,185.0 264.9,185.1 266.0,185.2 267.1,185.3 268.3,185.4 269.4,185.5 270.5,185.6 271.7,185.7 272.8,185.7 273.9,185.8 275.1,185.9 276.2,186.0 277.3,186.1 278.5,186.2 279.6,186.3" stroke="#3a3a3a" stroke-width="0.75" stroke-opacity="0.9"/>
<path d="M200.3,222.6 201.4,221.0 202.6,219.5 203.7,218.1 204.8,216.8 206.0,215.6 207.1,214.4 208.2,213.3 209.4,212.2 210.5,211.2 211.6,210.2 212.8,209.3 213.9,208.5 215.0,207.7 216.2,206.9 217.3,206.2 218.4,205.5 219.6,204.9 220.7,204.3 221.8,203.7 223.0,203.2 224.1,202.7 225.2,202.2 226.4,201.7 227.5,201.3 228.6,200.9 229.8,200.5 230.9,200.1 232.0,199.8 233.2,199.5 234.3,199.2 235.4,198.9 236.6,198.6 237.7,198.3 238.8,198.1 240.0,197.8 241.1,197.9 242.2,198.0 243.3,198.1 244.5,198.1 245.6,198.2 246.7,198.3 247.9,198.4 249.0,198.4 250.1,198.5 251.3,198.6 252.4,198.7 253.5,198.7 254.7,198.8 255.8,198.9 256.9,199.0 258.1,199.0 259.2,199.1 260.3,199.2 261.5,199.3 262.6,199.3 263.7,199.4 264.9,199.5 266.0,199.5 267.1,199.6 268.3,199.7 269.4,199.8 270.5,199.8 271.7,199.9 272.8,200.0 273.9,200.0 275.1,200.1 276.2,200.2 277.3,200.2 278.5,200.3 279.6,200.4" stroke="#3a3a3a" stroke-width="0.75" stroke-opacity="0.9"/>
<path d="M200.3,222.6 201.4,222.2 202.6,221.8 203.7,221.4 204.8,221.0 206.0,220.6 207.1,220.3 208.2,219.9 209.4,219.5 210.5,219.1 211.6,218.8 212.8,218.4 213.9,218.0 215.0,217.6 216.2,217.3 217.3,216.9 218.4,216.6 219.6,216.2 220.7,215.8 221.8,215.5 223.0,215.1 224.1,214.8 225.2,214.4 226.4,214.1 227.5,213.7 228.6,213.4 229.8,213.1 230.9,212.7 232.0,212.4 233.2,212.0 234.3,211.7 235.4,211.4 236.6,211.1 237.7,210.7 238.8,210.4 240.0,210.1 241.1,210.1 242.2,210.2 243.3,210.2 244.5,210.3 245.6,210.3 246.7,210.4 247.9,210.4 249.0,210.5 250.1,210.5 251.3,210.6 252.4,210.6 253.5,210.7 254.7,210.7 255.8,210.8 256.9,210.8 258.1,210.8 259.2,210.9 260.3,210.9 261.5,211.0 262.6,211.0 263.7,211.1 264.9,211.1 266.0,211.2 267.1,211.2 268.3,211.2 269.4,211.3 270.5,211.3 271.7,211.4 272.8,211.4 273.9,211.5 275.1,211.5 276.2,211.6 277.3,211.6 278.5,211.6 279.6,211.7" stroke="#3a3a3a" stroke-width="0.75" stroke-opacity="0.9"/>
</g>
<path d="M200.3 158.3 V222.6 H279.6" stroke="#1e1e1e" stroke-width="1.1" fill="none"/>
<path d="M198.3 222.6 H200.3 M198.3 209.74 H200.3 M198.3 196.88 H200.3 M198.3 184.02 H200.3 M198.3 171.16 H200.3 M198.3 158.3 H200.3 M200.3 222.6 V224.6 M220.12 222.6 V224.6 M239.95 222.6 V224.6 M259.77 222.6 V224.6 M279.6 222.6 V224.6" stroke="#1e1e1e" stroke-width="0.9" fill="none"/>
<text x="197.1" y="225.05" font-size="6.8" text-anchor="end" fill="#1a1a1a" >0.0</text>
<text x="197.1" y="212.19" font-size="6.8" text-anchor="end" fill="#1a1a1a" >0.4</text>
<text x="197.1" y="199.33" font-size="6.8" text-anchor="end" fill="#1a1a1a" >0.8</text>
<text x="197.1" y="186.47" font-size="6.8" text-anchor="end" fill="#1a1a1a" >1.2</text>
<text x="197.1" y="173.61" font-size="6.8" text-anchor="end" fill="#1a1a1a" >1.6</text>
<text x="197.1" y="160.75" font-size="6.8" text-anchor="end" fill="#1a1a1a" >2.0</text>
<text x="200.3" y="230.85" font-size="6.8" text-anchor="middle" fill="#1a1a1a" >0</text>
<text x="220.12" y="230.85" font-size="6.8" text-anchor="middle" fill="#1a1a1a" >90</text>
<text x="239.95" y="230.85" font-size="6.8" text-anchor="middle" fill="#1a1a1a" >180</text>
<text x="259.77" y="230.85" font-size="6.8" text-anchor="middle" fill="#1a1a1a" >270</text>
<text x="279.6" y="230.85" font-size="6.8" text-anchor="middle" fill="#1a1a1a" >360</text>
<text x="239.95" y="241.18" font-size="6.9" text-anchor="middle" fill="#1a1a1a" >Time (s)</text>
<text transform="translate(182.31 190.45) rotate(-90)" font-size="6.7" text-anchor="middle" fill="#1a1a1a">Binding (nm)</text>
<text x="238.6" y="157" font-size="6.8" text-anchor="middle" fill="#1a1a1a" >JM-2-17</text>
<text x="282.7" y="161.02" font-size="5.9" fill="#1a1a1a">K<tspan font-size="3.9" dy="1.4">D</tspan><tspan dy="-1.4">=3.21×10</tspan><tspan font-size="3.9" dy="-2.5">−8</tspan><tspan dy="2.5">M</tspan></text>
<text x="282.7" y="171.52" font-size="5.9" fill="#1a1a1a">ka=1.69×10<tspan font-size="3.9" dy="-2.5"> 4</tspan><tspan dy="2.5"> M</tspan><tspan font-size="3.9" dy="-2.5"> −1</tspan><tspan dy="2.5">s</tspan><tspan font-size="3.9" dy="-2.5">−1</tspan></text>
<text x="282.7" y="180.82" font-size="5.9" fill="#1a1a1a">kd=5.44×10<tspan font-size="3.9" dy="-2.5">−4</tspan><tspan dy="2.5"> s</tspan><tspan font-size="3.9" dy="-2.5"> −1</tspan></text>
<path d="M285.5 194.1 H298.6" stroke="#e2df38" stroke-width="1.7"/>
<text x="301.4" y="196.12" font-size="5.6" text-anchor="start" fill="#1a1a1a" >1200 nM</text>
<path d="M285.5 201.6 H298.6" stroke="#ef6f7a" stroke-width="1.7"/>
<text x="301.4" y="203.62" font-size="5.6" text-anchor="start" fill="#1a1a1a" >600 nM</text>
<path d="M285.5 208.8 H298.6" stroke="#5672ee" stroke-width="1.7"/>
<text x="301.4" y="210.82" font-size="5.6" text-anchor="start" fill="#1a1a1a" >300 nM</text>
<path d="M285.5 216.4 H298.6" stroke="#f5924a" stroke-width="1.7"/>
<text x="301.4" y="218.42" font-size="5.6" text-anchor="start" fill="#1a1a1a" >150 nM</text>
<g fill="none" stroke-linejoin="round" stroke-linecap="round">
<path d="M359.5,222.6 360.1,219.5 360.6,216.6 361.2,213.8 361.8,211.2 362.3,208.8 362.9,206.4 363.5,204.2 364.0,202.1 364.6,200.2 365.2,198.3 365.7,196.6 366.3,194.9 366.9,193.3 367.4,191.8 368.0,190.4 368.6,189.1 369.1,187.9 369.7,186.7 370.3,185.6 370.8,184.5 371.4,183.5 372.0,182.5 372.5,181.7 373.1,180.8 373.7,180.0 374.2,179.3 374.8,178.5 375.4,177.9 375.9,177.2 376.5,176.6 377.1,176.1 377.6,175.5 378.2,175.0 378.8,174.5 379.3,174.1 379.9,173.6 380.5,173.2 381.0,172.8 381.6,172.5 382.2,172.1 382.7,171.8 383.3,171.5 383.9,171.2 384.4,170.9 385.0,170.7 385.6,170.4 386.1,170.2 386.7,170.0 387.3,169.8 387.8,169.6 388.4,169.4 389.0,169.2 389.5,169.1 390.1,168.9 390.7,168.8 391.2,168.6 391.8,168.5 392.4,168.4 392.9,168.2 393.5,168.1 394.1,168.0 394.6,167.9 395.2,167.8 395.8,167.7 396.3,167.7 396.9,167.6 397.5,167.5 398.0,167.4 398.6,167.4 399.1,167.3 399.7,166.9 400.3,167.1 400.8,167.3 401.4,167.4 402.0,167.6 402.5,167.8 403.1,168.0 403.7,168.2 404.2,168.4 404.8,168.6 405.4,168.8 405.9,169.0 406.5,169.2 407.1,169.4 407.6,169.5 408.2,169.7 408.8,169.9 409.3,170.1 409.9,170.3 410.5,170.5 411.0,170.7 411.6,170.8 412.2,171.0 412.7,171.2 413.3,171.4 413.9,171.6 414.4,171.7 415.0,171.9 415.6,172.1 416.1,172.3 416.7,172.5 417.3,172.6 417.8,172.8 418.4,173.0 419.0,173.2 419.5,173.3 420.1,173.5 420.7,173.7 421.2,173.9 421.8,174.0 422.4,174.2 422.9,174.4 423.5,174.5 424.1,174.7 424.6,174.9 425.2,175.0 425.8,175.2 426.3,175.4 426.9,175.5 427.5,175.7 428.0,175.9 428.6,176.0 429.2,176.2 429.7,176.4 430.3,176.5 430.9,176.7 431.4,176.9 432.0,177.0 432.6,177.2 433.1,177.3 433.7,177.5 434.3,177.7 434.8,177.8 435.4,178.0 436.0,178.1 436.5,178.3 437.1,178.4 437.7,178.6 438.2,178.7 438.8,178.9" stroke="#e3dc1c" stroke-width="1.5"/>
<path d="M359.5,222.6 360.1,220.9 360.6,219.3 361.2,217.7 361.8,216.2 362.3,214.7 362.9,213.3 363.5,212.0 364.0,210.7 364.6,209.4 365.2,208.3 365.7,207.1 366.3,206.0 366.9,205.0 367.4,203.9 368.0,203.0 368.6,202.0 369.1,201.1 369.7,200.3 370.3,199.5 370.8,198.7 371.4,197.9 372.0,197.2 372.5,196.4 373.1,195.8 373.7,195.1 374.2,194.5 374.8,193.9 375.4,193.3 375.9,192.8 376.5,192.2 377.1,191.7 377.6,191.2 378.2,190.7 378.8,190.3 379.3,189.9 379.9,189.4 380.5,189.0 381.0,188.6 381.6,188.3 382.2,187.9 382.7,187.6 383.3,187.2 383.9,186.9 384.4,186.6 385.0,186.3 385.6,186.1 386.1,185.8 386.7,185.5 387.3,185.3 387.8,185.0 388.4,184.8 389.0,184.6 389.5,184.4 390.1,184.2 390.7,184.0 391.2,183.8 391.8,183.6 392.4,183.4 392.9,183.3 393.5,183.1 394.1,183.0 394.6,182.8 395.2,182.7 395.8,182.5 396.3,182.4 396.9,182.3 397.5,182.2 398.0,182.0 398.6,181.9 399.1,181.8 399.7,181.7 400.3,181.8 400.8,182.0 401.4,182.2 402.0,182.3 402.5,182.5 403.1,182.7 403.7,182.8 404.2,183.0 404.8,183.1 405.4,183.3 405.9,183.5 406.5,183.6 407.1,183.8 407.6,183.9 408.2,184.1 408.8,184.2 409.3,184.4 409.9,184.6 410.5,184.7 411.0,184.9 411.6,185.0 412.2,185.2 412.7,185.3 413.3,185.5 413.9,185.6 414.4,185.8 415.0,185.9 415.6,186.1 416.1,186.2 416.7,186.4 417.3,186.5 417.8,186.7 418.4,186.8 419.0,187.0 419.5,187.1 420.1,187.3 420.7,187.4 421.2,187.5 421.8,187.7 422.4,187.8 422.9,188.0 423.5,188.1 424.1,188.2 424.6,188.4 425.2,188.5 425.8,188.7 426.3,188.8 426.9,188.9 427.5,189.1 428.0,189.2 428.6,189.3 429.2,189.5 429.7,189.6 430.3,189.8 430.9,189.9 431.4,190.0 432.0,190.2 432.6,190.3 433.1,190.4 433.7,190.5 434.3,190.7 434.8,190.8 435.4,190.9 436.0,191.1 436.5,191.2 437.1,191.3 437.7,191.4 438.2,191.6 438.8,191.7" stroke="#ec5a64" stroke-width="1.5"/>
<path d="M359.5,222.6 360.1,221.5 360.6,220.5 361.2,219.6 361.8,218.6 362.3,217.7 362.9,216.8 363.5,216.0 364.0,215.1 364.6,214.4 365.2,213.6 365.7,212.8 366.3,212.1 366.9,211.4 367.4,210.8 368.0,210.1 368.6,209.5 369.1,208.9 369.7,208.3 370.3,207.8 370.8,207.3 371.4,206.7 372.0,206.2 372.5,205.7 373.1,205.3 373.7,204.8 374.2,204.4 374.8,204.0 375.4,203.6 375.9,203.2 376.5,202.8 377.1,202.4 377.6,202.1 378.2,201.7 378.8,201.4 379.3,201.1 379.9,200.8 380.5,200.5 381.0,200.2 381.6,199.9 382.2,199.7 382.7,199.4 383.3,199.2 383.9,198.9 384.4,198.7 385.0,198.5 385.6,198.3 386.1,198.0 386.7,197.8 387.3,197.7 387.8,197.5 388.4,197.3 389.0,197.1 389.5,196.9 390.1,196.8 390.7,196.6 391.2,196.5 391.8,196.3 392.4,196.2 392.9,196.0 393.5,195.9 394.1,195.7 394.6,195.6 395.2,195.4 395.8,195.2 396.3,195.0 396.9,194.8 397.5,194.7 398.0,194.5 398.6,194.3 399.1,194.2 399.7,194.9 400.3,195.0 400.8,195.2 401.4,195.3 402.0,195.4 402.5,195.5 403.1,195.6 403.7,195.7 404.2,195.8 404.8,195.9 405.4,196.0 405.9,196.1 406.5,196.2 407.1,196.3 407.6,196.4 408.2,196.5 408.8,196.6 409.3,196.8 409.9,196.9 410.5,197.0 411.0,197.1 411.6,197.2 412.2,197.3 412.7,197.4 413.3,197.5 413.9,197.6 414.4,197.7 415.0,197.8 415.6,197.9 416.1,198.0 416.7,198.1 417.3,198.2 417.8,198.3 418.4,198.3 419.0,198.4 419.5,198.5 420.1,198.6 420.7,198.7 421.2,198.8 421.8,198.9 422.4,199.0 422.9,199.1 423.5,199.2 424.1,199.3 424.6,199.4 425.2,199.5 425.8,199.6 426.3,199.7 426.9,199.8 427.5,199.8 428.0,199.9 428.6,200.0 429.2,200.1 429.7,200.2 430.3,200.3 430.9,200.4 431.4,200.5 432.0,200.6 432.6,200.6 433.1,200.7 433.7,200.8 434.3,200.9 434.8,201.0 435.4,201.1 436.0,201.2 436.5,201.3 437.1,201.3 437.7,201.4 438.2,201.5 438.8,201.6" stroke="#3a5ae6" stroke-width="1.5"/>
<path d="M359.5,222.6 360.1,222.4 360.6,222.1 361.2,221.9 361.8,221.6 362.3,221.4 362.9,221.2 363.5,220.9 364.0,220.7 364.6,220.4 365.2,220.2 365.7,220.0 366.3,219.7 366.9,219.5 367.4,219.3 368.0,219.1 368.6,218.8 369.1,218.6 369.7,218.4 370.3,218.2 370.8,217.9 371.4,217.7 372.0,217.5 372.5,217.3 373.1,217.1 373.7,216.8 374.2,216.6 374.8,216.4 375.4,216.2 375.9,216.0 376.5,215.8 377.1,215.6 377.6,215.3 378.2,215.1 378.8,214.9 379.3,214.7 379.9,214.5 380.5,214.3 381.0,214.1 381.6,213.9 382.2,213.7 382.7,213.5 383.3,213.3 383.9,213.1 384.4,212.9 385.0,212.7 385.6,212.5 386.1,212.3 386.7,212.1 387.3,211.9 387.8,211.7 388.4,211.5 389.0,211.3 389.5,211.2 390.1,211.0 390.7,210.8 391.2,210.6 391.8,210.4 392.4,210.2 392.9,210.0 393.5,209.9 394.1,209.7 394.6,209.5 395.2,209.3 395.8,209.1 396.3,209.0 396.9,208.8 397.5,208.6 398.0,208.4 398.6,208.2 399.1,208.1 399.7,208.1 400.3,208.2 400.8,208.2 401.4,208.3 402.0,208.3 402.5,208.4 403.1,208.4 403.7,208.5 404.2,208.5 404.8,208.6 405.4,208.6 405.9,208.7 406.5,208.7 407.1,208.8 407.6,208.8 408.2,208.9 408.8,208.9 409.3,209.0 409.9,209.0 410.5,209.0 411.0,209.1 411.6,209.1 412.2,209.2 412.7,209.2 413.3,209.3 413.9,209.3 414.4,209.4 415.0,209.4 415.6,209.5 416.1,209.5 416.7,209.6 417.3,209.6 417.8,209.6 418.4,209.7 419.0,209.7 419.5,209.8 420.1,209.8 420.7,209.9 421.2,209.9 421.8,210.0 422.4,210.0 422.9,210.0 423.5,210.1 424.1,210.1 424.6,210.2 425.2,210.2 425.8,210.3 426.3,210.3 426.9,210.3 427.5,210.4 428.0,210.4 428.6,210.5 429.2,210.5 429.7,210.6 430.3,210.6 430.9,210.6 431.4,210.7 432.0,210.7 432.6,210.8 433.1,210.8 433.7,210.8 434.3,210.9 434.8,210.9 435.4,211.0 436.0,211.0 436.5,211.0 437.1,211.1 437.7,211.1 438.2,211.2 438.8,211.2" stroke="#f2822a" stroke-width="1.5"/>
<path d="M359.5,222.6 360.6,216.6 361.8,211.2 362.9,206.4 364.0,202.1 365.2,198.3 366.3,194.9 367.4,191.8 368.6,189.1 369.7,186.7 370.8,184.5 372.0,182.5 373.1,180.8 374.2,179.3 375.4,177.9 376.5,176.6 377.6,175.5 378.8,174.5 379.9,173.6 381.0,172.8 382.2,172.1 383.3,171.5 384.4,170.9 385.6,170.4 386.7,170.0 387.8,169.6 389.0,169.2 390.1,168.9 391.2,168.6 392.4,168.4 393.5,168.1 394.6,167.9 395.8,167.7 396.9,167.6 398.0,167.4 399.1,167.3 400.3,167.7 401.4,168.1 402.5,168.5 403.7,168.9 404.8,169.2 405.9,169.6 407.1,170.0 408.2,170.4 409.3,170.7 410.5,171.1 411.6,171.5 412.7,171.8 413.9,172.2 415.0,172.6 416.1,172.9 417.3,173.3 418.4,173.6 419.5,174.0 420.7,174.3 421.8,174.7 422.9,175.0 424.1,175.4 425.2,175.7 426.3,176.0 427.5,176.4 428.6,176.7 429.7,177.0 430.9,177.3 432.0,177.7 433.1,178.0 434.3,178.3 435.4,178.6 436.5,178.9 437.7,179.2 438.8,179.5" stroke="#3a3a3a" stroke-width="0.75" stroke-opacity="0.9"/>
<path d="M359.5,222.6 360.6,219.3 361.8,216.2 362.9,213.3 364.0,210.7 365.2,208.3 366.3,206.0 367.4,203.9 368.6,202.0 369.7,200.3 370.8,198.7 372.0,197.2 373.1,195.8 374.2,194.5 375.4,193.3 376.5,192.2 377.6,191.2 378.8,190.3 379.9,189.4 381.0,188.6 382.2,187.9 383.3,187.2 384.4,186.6 385.6,186.1 386.7,185.5 387.8,185.0 389.0,184.6 390.1,184.2 391.2,183.8 392.4,183.4 393.5,183.1 394.6,182.8 395.8,182.5 396.9,182.3 398.0,182.0 399.1,181.8 400.3,182.1 401.4,182.5 402.5,182.8 403.7,183.1 404.8,183.5 405.9,183.8 407.1,184.1 408.2,184.4 409.3,184.7 410.5,185.0 411.6,185.3 412.7,185.7 413.9,186.0 415.0,186.3 416.1,186.6 417.3,186.8 418.4,187.1 419.5,187.4 420.7,187.7 421.8,188.0 422.9,188.3 424.1,188.6 425.2,188.8 426.3,189.1 427.5,189.4 428.6,189.7 429.7,189.9 430.9,190.2 432.0,190.5 433.1,190.7 434.3,191.0 435.4,191.3 436.5,191.5 437.7,191.8 438.8,192.0" stroke="#3a3a3a" stroke-width="0.75" stroke-opacity="0.9"/>
<path d="M359.5,222.6 360.6,220.5 361.8,218.6 362.9,216.8 364.0,215.1 365.2,213.6 366.3,212.1 367.4,210.8 368.6,209.5 369.7,208.3 370.8,207.3 372.0,206.2 373.1,205.3 374.2,204.4 375.4,203.6 376.5,202.8 377.6,202.1 378.8,201.4 379.9,200.8 381.0,200.2 382.2,199.7 383.3,199.2 384.4,198.7 385.6,198.3 386.7,197.8 387.8,197.5 389.0,197.1 390.1,196.8 391.2,196.5 392.4,196.2 393.5,195.9 394.6,195.7 395.8,195.4 396.9,195.2 398.0,195.0 399.1,194.8 400.3,195.0 401.4,195.3 402.5,195.5 403.7,195.7 404.8,195.9 405.9,196.1 407.1,196.3 408.2,196.5 409.3,196.8 410.5,197.0 411.6,197.2 412.7,197.4 413.9,197.6 415.0,197.8 416.1,198.0 417.3,198.2 418.4,198.3 419.5,198.5 420.7,198.7 421.8,198.9 422.9,199.1 424.1,199.3 425.2,199.5 426.3,199.7 427.5,199.8 428.6,200.0 429.7,200.2 430.9,200.4 432.0,200.6 433.1,200.7 434.3,200.9 435.4,201.1 436.5,201.3 437.7,201.4 438.8,201.6" stroke="#3a3a3a" stroke-width="0.75" stroke-opacity="0.9"/>
<path d="M359.5,222.6 360.6,222.1 361.8,221.6 362.9,221.2 364.0,220.7 365.2,220.2 366.3,219.7 367.4,219.3 368.6,218.8 369.7,218.4 370.8,217.9 372.0,217.5 373.1,217.1 374.2,216.6 375.4,216.2 376.5,215.8 377.6,215.3 378.8,214.9 379.9,214.5 381.0,214.1 382.2,213.7 383.3,213.3 384.4,212.9 385.6,212.5 386.7,212.1 387.8,211.7 389.0,211.3 390.1,211.0 391.2,210.6 392.4,210.2 393.5,209.9 394.6,209.5 395.8,209.1 396.9,208.8 398.0,208.4 399.1,208.1 400.3,208.2 401.4,208.3 402.5,208.4 403.7,208.5 404.8,208.6 405.9,208.7 407.1,208.8 408.2,208.9 409.3,209.0 410.5,209.0 411.6,209.1 412.7,209.2 413.9,209.3 415.0,209.4 416.1,209.5 417.3,209.6 418.4,209.7 419.5,209.8 420.7,209.9 421.8,210.0 422.9,210.0 424.1,210.1 425.2,210.2 426.3,210.3 427.5,210.4 428.6,210.5 429.7,210.6 430.9,210.6 432.0,210.7 433.1,210.8 434.3,210.9 435.4,211.0 436.5,211.0 437.7,211.1 438.8,211.2" stroke="#3a3a3a" stroke-width="0.75" stroke-opacity="0.9"/>
</g>
<path d="M359.5 158.3 V222.6 H438.8" stroke="#1e1e1e" stroke-width="1.1" fill="none"/>
<path d="M357.5 222.6 H359.5 M357.5 209.74 H359.5 M357.5 196.88 H359.5 M357.5 184.02 H359.5 M357.5 171.16 H359.5 M357.5 158.3 H359.5 M359.5 222.6 V224.6 M379.32 222.6 V224.6 M399.15 222.6 V224.6 M418.98 222.6 V224.6 M438.8 222.6 V224.6" stroke="#1e1e1e" stroke-width="0.9" fill="none"/>
<text x="356.3" y="225.05" font-size="6.8" text-anchor="end" fill="#1a1a1a" >0.0</text>
<text x="356.3" y="212.19" font-size="6.8" text-anchor="end" fill="#1a1a1a" >0.4</text>
<text x="356.3" y="199.33" font-size="6.8" text-anchor="end" fill="#1a1a1a" >0.8</text>
<text x="356.3" y="186.47" font-size="6.8" text-anchor="end" fill="#1a1a1a" >1.2</text>
<text x="356.3" y="173.61" font-size="6.8" text-anchor="end" fill="#1a1a1a" >1.6</text>
<text x="356.3" y="160.75" font-size="6.8" text-anchor="end" fill="#1a1a1a" >2.0</text>
<text x="359.5" y="230.85" font-size="6.8" text-anchor="middle" fill="#1a1a1a" >0</text>
<text x="379.32" y="230.85" font-size="6.8" text-anchor="middle" fill="#1a1a1a" >90</text>
<text x="399.15" y="230.85" font-size="6.8" text-anchor="middle" fill="#1a1a1a" >180</text>
<text x="418.98" y="230.85" font-size="6.8" text-anchor="middle" fill="#1a1a1a" >270</text>
<text x="438.8" y="230.85" font-size="6.8" text-anchor="middle" fill="#1a1a1a" >360</text>
<text x="399.15" y="241.18" font-size="6.9" text-anchor="middle" fill="#1a1a1a" >Time (s)</text>
<text transform="translate(341.51 190.45) rotate(-90)" font-size="6.7" text-anchor="middle" fill="#1a1a1a">Binding (nm)</text>
<text x="396.8" y="156.4" font-size="6.8" text-anchor="middle" fill="#1a1a1a" >JM-2-18</text>
<text x="441.1" y="161.02" font-size="5.9" fill="#1a1a1a">K<tspan font-size="3.9" dy="1.4">D</tspan><tspan dy="-1.4">=3.07×10</tspan><tspan font-size="3.9" dy="-2.5">−8</tspan><tspan dy="2.5">M</tspan></text>
<text x="441.1" y="171.52" font-size="5.9" fill="#1a1a1a">ka=5.43×10<tspan font-size="3.9" dy="-2.5"> 4</tspan><tspan dy="2.5"> M</tspan><tspan font-size="3.9" dy="-2.5"> −1</tspan><tspan dy="2.5">s</tspan><tspan font-size="3.9" dy="-2.5">−1</tspan></text>
<text x="441.1" y="180.82" font-size="5.9" fill="#1a1a1a">kd=1.67×10<tspan font-size="3.9" dy="-2.5">−3</tspan><tspan dy="2.5"> s</tspan><tspan font-size="3.9" dy="-2.5"> −1</tspan></text>
<path d="M443.6 194.2 H456.3" stroke="#e2df38" stroke-width="1.7"/>
<text x="459.4" y="196.22" font-size="5.6" text-anchor="start" fill="#1a1a1a" >320&#160; nM</text>
<path d="M443.6 201.5 H456.3" stroke="#ef6f7a" stroke-width="1.7"/>
<text x="459.4" y="203.52" font-size="5.6" text-anchor="start" fill="#1a1a1a" >160 nM</text>
<path d="M443.6 208.9 H456.3" stroke="#5672ee" stroke-width="1.7"/>
<text x="459.4" y="210.92" font-size="5.6" text-anchor="start" fill="#1a1a1a" >80 nM</text>
<path d="M443.6 216.5 H456.3" stroke="#f5924a" stroke-width="1.7"/>
<text x="459.4" y="218.52" font-size="5.6" text-anchor="start" fill="#1a1a1a" >40 nM</text>
<g fill="none" stroke-linejoin="round" stroke-linecap="round">
<path d="M34.3,320.6 34.9,309.7 35.4,301.3 36.0,294.8 36.6,289.7 37.1,285.8 37.7,282.8 38.3,280.5 38.8,278.7 39.4,277.3 40.0,276.2 40.5,275.4 41.1,274.8 41.7,274.3 42.2,273.9 42.8,273.6 43.4,273.4 43.9,273.2 44.5,273.0 45.1,272.9 45.6,272.8 46.2,272.8 46.8,272.7 47.3,272.7 47.9,272.7 48.5,272.6 49.0,272.6 49.6,272.6 50.2,272.6 50.7,272.6 51.3,272.6 51.9,272.6 52.4,272.6 53.0,272.6 53.6,272.6 54.1,272.6 54.7,272.6 55.3,272.6 55.8,272.6 56.4,272.6 57.0,272.6 57.5,272.6 58.1,272.6 58.7,272.6 59.2,272.6 59.8,272.6 60.4,272.6 60.9,272.6 61.5,272.6 62.1,272.6 62.6,272.6 63.2,272.6 63.8,272.6 64.3,272.6 64.9,272.6 65.5,272.6 66.0,272.6 66.6,272.6 67.2,272.6 67.7,272.6 68.3,272.6 68.9,272.6 69.4,272.6 70.0,272.6 70.6,272.6 71.1,272.6 71.7,272.6 72.3,272.6 72.8,272.6 73.4,272.6 73.9,272.6 74.5,276.4 75.1,279.6 75.6,282.3 76.2,284.5 76.8,286.3 77.3,287.9 77.9,289.2 78.5,290.3 79.0,291.2 79.6,292.0 80.2,292.7 80.7,293.3 81.3,293.9 81.9,294.3 82.4,294.7 83.0,295.1 83.6,295.4 84.1,295.7 84.7,296.0 85.3,296.2 85.8,296.5 86.4,296.7 87.0,296.9 87.5,297.0 88.1,297.2 88.7,297.4 89.2,297.5 89.8,297.7 90.4,297.8 90.9,297.9 91.5,298.1 92.1,298.2 92.6,298.3 93.2,298.4 93.8,298.5 94.3,298.6 94.9,298.7 95.5,298.8 96.0,298.9 96.6,298.9 97.2,299.0 97.7,299.1 98.3,299.2 98.9,299.2 99.4,299.3 100.0,299.4 100.6,299.4 101.1,299.5 101.7,299.5 102.3,299.6 102.8,299.7 103.4,299.7 104.0,299.8 104.5,299.8 105.1,299.8 105.7,299.9 106.2,299.9 106.8,300.0 107.4,300.0 107.9,300.1 108.5,300.1 109.1,300.1 109.6,300.2 110.2,300.2 110.8,300.2 111.3,300.2 111.9,300.3 112.5,300.3 113.0,300.3 113.6,300.4" stroke="#e3dc1c" stroke-width="1.5"/>
<path d="M34.3,320.6 34.9,312.6 35.4,306.2 36.0,301.0 36.6,296.8 37.1,293.5 37.7,290.8 38.3,288.7 38.8,286.9 39.4,285.5 40.0,284.4 40.5,283.5 41.1,282.8 41.7,282.2 42.2,281.7 42.8,281.4 43.4,281.1 43.9,280.8 44.5,280.6 45.1,280.5 45.6,280.4 46.2,280.2 46.8,280.2 47.3,280.1 47.9,280.1 48.5,280.0 49.0,280.0 49.6,279.9 50.2,279.9 50.7,279.9 51.3,279.9 51.9,279.9 52.4,279.9 53.0,279.9 53.6,279.9 54.1,279.9 54.7,279.9 55.3,279.8 55.8,279.8 56.4,279.8 57.0,279.8 57.5,279.8 58.1,279.8 58.7,279.8 59.2,279.8 59.8,279.8 60.4,279.8 60.9,279.8 61.5,279.8 62.1,279.8 62.6,279.8 63.2,279.8 63.8,279.8 64.3,279.8 64.9,279.8 65.5,279.8 66.0,279.8 66.6,279.8 67.2,279.8 67.7,279.8 68.3,279.8 68.9,279.8 69.4,279.8 70.0,279.8 70.6,279.8 71.1,279.8 71.7,279.8 72.3,279.8 72.8,279.8 73.4,279.8 73.9,279.8 74.5,282.1 75.1,284.2 75.6,285.9 76.2,287.5 76.8,288.9 77.3,290.2 77.9,291.3 78.5,292.3 79.0,293.2 79.6,294.1 80.2,294.9 80.7,295.6 81.3,296.3 81.9,296.9 82.4,297.5 83.0,298.0 83.6,298.6 84.1,299.0 84.7,299.5 85.3,299.9 85.8,300.3 86.4,300.7 87.0,301.1 87.5,301.4 88.1,301.8 88.7,302.1 89.2,302.4 89.8,302.7 90.4,302.9 90.9,303.2 91.5,303.4 92.1,303.7 92.6,303.9 93.2,304.1 93.8,304.3 94.3,304.5 94.9,304.7 95.5,304.9 96.0,305.0 96.6,305.2 97.2,305.4 97.7,305.5 98.3,305.6 98.9,305.8 99.4,305.9 100.0,306.0 100.6,306.1 101.1,306.3 101.7,306.4 102.3,306.5 102.8,306.6 103.4,306.6 104.0,306.7 104.5,306.8 105.1,306.9 105.7,307.0 106.2,307.1 106.8,307.1 107.4,307.2 107.9,307.3 108.5,307.3 109.1,307.4 109.6,307.4 110.2,307.5 110.8,307.5 111.3,307.6 111.9,307.6 112.5,307.7 113.0,307.7 113.6,307.7" stroke="#ec5a64" stroke-width="1.5"/>
<path d="M34.3,320.6 34.9,316.1 35.4,312.2 36.0,308.9 36.6,306.0 37.1,303.6 37.7,301.5 38.3,299.7 38.8,298.2 39.4,296.9 40.0,295.8 40.5,294.8 41.1,294.0 41.7,293.3 42.2,292.6 42.8,292.1 43.4,291.7 43.9,291.3 44.5,291.0 45.1,290.7 45.6,290.4 46.2,290.2 46.8,290.1 47.3,289.9 47.9,289.8 48.5,289.7 49.0,289.6 49.6,289.5 50.2,289.4 50.7,289.4 51.3,289.3 51.9,289.3 52.4,289.2 53.0,289.2 53.6,289.2 54.1,289.1 54.7,289.1 55.3,289.1 55.8,289.1 56.4,289.1 57.0,289.1 57.5,289.1 58.1,289.0 58.7,289.0 59.2,289.0 59.8,289.0 60.4,289.0 60.9,289.0 61.5,289.0 62.1,289.0 62.6,289.0 63.2,289.0 63.8,289.0 64.3,289.0 64.9,289.0 65.5,289.0 66.0,289.0 66.6,289.0 67.2,289.0 67.7,289.0 68.3,289.0 68.9,289.0 69.4,289.0 70.0,289.0 70.6,289.0 71.1,289.0 71.7,289.0 72.3,289.0 72.8,289.0 73.4,289.0 73.9,289.0 74.5,291.3 75.1,293.2 75.6,294.7 76.2,296.0 76.8,297.1 77.3,298.0 77.9,298.8 78.5,299.5 79.0,300.1 79.6,300.6 80.2,301.1 80.7,301.5 81.3,301.9 81.9,302.3 82.4,302.6 83.0,303.0 83.6,303.3 84.1,303.6 84.7,303.9 85.3,304.1 85.8,304.4 86.4,304.6 87.0,304.9 87.5,305.1 88.1,305.3 88.7,305.6 89.2,305.8 89.8,306.0 90.4,306.2 90.9,306.4 91.5,306.5 92.1,306.7 92.6,306.9 93.2,307.1 93.8,307.2 94.3,307.4 94.9,307.5 95.5,307.7 96.0,307.8 96.6,308.0 97.2,308.1 97.7,308.2 98.3,308.4 98.9,308.5 99.4,308.6 100.0,308.7 100.6,308.8 101.1,308.9 101.7,309.0 102.3,309.1 102.8,309.2 103.4,309.3 104.0,309.4 104.5,309.5 105.1,309.6 105.7,309.7 106.2,309.8 106.8,309.8 107.4,309.9 107.9,310.0 108.5,310.1 109.1,310.1 109.6,310.2 110.2,310.3 110.8,310.3 111.3,310.4 111.9,310.5 112.5,310.5 113.0,310.6 113.6,310.6" stroke="#3a5ae6" stroke-width="1.5"/>
<path d="M34.3,320.6 34.9,318.9 35.4,317.3 36.0,315.8 36.6,314.5 37.1,313.3 37.7,312.2 38.3,311.1 38.8,310.2 39.4,309.4 40.0,308.6 40.5,307.9 41.1,307.2 41.7,306.7 42.2,306.1 42.8,305.6 43.4,305.2 43.9,304.8 44.5,304.4 45.1,304.0 45.6,303.7 46.2,303.4 46.8,303.2 47.3,302.9 47.9,302.7 48.5,302.5 49.0,302.3 49.6,302.2 50.2,302.0 50.7,301.9 51.3,301.7 51.9,301.6 52.4,301.5 53.0,301.4 53.6,301.3 54.1,301.2 54.7,301.2 55.3,301.1 55.8,301.0 56.4,301.0 57.0,300.9 57.5,300.9 58.1,300.8 58.7,300.8 59.2,300.8 59.8,300.7 60.4,300.7 60.9,300.7 61.5,300.6 62.1,300.6 62.6,300.6 63.2,300.6 63.8,300.6 64.3,300.5 64.9,300.5 65.5,300.5 66.0,300.5 66.6,300.5 67.2,300.5 67.7,300.5 68.3,300.5 68.9,300.5 69.4,300.5 70.0,300.4 70.6,300.4 71.1,300.4 71.7,300.4 72.3,300.4 72.8,300.4 73.4,300.4 73.9,300.4 74.5,303.4 75.1,305.7 75.6,307.6 76.2,309.1 76.8,310.3 77.3,311.3 77.9,312.2 78.5,312.9 79.0,313.4 79.6,313.9 80.2,314.4 80.7,314.7 81.3,315.1 81.9,315.3 82.4,315.6 83.0,315.8 83.6,316.0 84.1,316.2 84.7,316.4 85.3,316.6 85.8,316.7 86.4,316.9 87.0,317.0 87.5,317.1 88.1,317.2 88.7,317.3 89.2,317.4 89.8,317.5 90.4,317.6 90.9,317.7 91.5,317.8 92.1,317.9 92.6,317.9 93.2,318.0 93.8,318.1 94.3,318.1 94.9,318.2 95.5,318.3 96.0,318.3 96.6,318.4 97.2,318.4 97.7,318.5 98.3,318.5 98.9,318.5 99.4,318.6 100.0,318.6 100.6,318.7 101.1,318.7 101.7,318.7 102.3,318.8 102.8,318.8 103.4,318.8 104.0,318.8 104.5,318.9 105.1,318.9 105.7,318.9 106.2,318.9 106.8,319.0 107.4,319.0 107.9,319.0 108.5,319.0 109.1,319.0 109.6,319.0 110.2,319.1 110.8,319.1 111.3,319.1 111.9,319.1 112.5,319.1 113.0,319.1 113.6,319.1" stroke="#f2822a" stroke-width="1.5"/>
<path d="M34.3,320.6 35.4,301.3 36.6,289.7 37.7,282.8 38.8,278.7 40.0,276.2 41.1,274.8 42.2,273.9 43.4,273.4 44.5,273.0 45.6,272.8 46.8,272.7 47.9,272.7 49.0,272.6 50.2,272.6 51.3,272.6 52.4,272.6 53.6,272.6 54.7,272.6 55.8,272.6 57.0,272.6 58.1,272.6 59.2,272.6 60.4,272.6 61.5,272.6 62.6,272.6 63.8,272.6 64.9,272.6 66.0,272.6 67.2,272.6 68.3,272.6 69.4,272.6 70.6,272.6 71.7,272.6 72.8,272.6 73.9,272.6 75.1,277.3 76.2,280.9 77.3,283.8 78.5,286.1 79.6,288.0 80.7,289.5 81.9,290.7 83.0,291.7 84.1,292.5 85.3,293.3 86.4,293.9 87.5,294.4 88.7,294.8 89.8,295.2 90.9,295.6 92.1,295.9 93.2,296.2 94.3,296.4 95.5,296.6 96.6,296.8 97.7,297.0 98.9,297.1 100.0,297.3 101.1,297.4 102.3,297.5 103.4,297.6 104.5,297.7 105.7,297.8 106.8,297.8 107.9,297.9 109.1,297.9 110.2,298.0 111.3,298.0 112.5,298.1 113.6,298.1" stroke="#3a3a3a" stroke-width="0.75" stroke-opacity="0.9"/>
<path d="M34.3,320.6 35.4,306.2 36.6,296.8 37.7,290.8 38.8,286.9 40.0,284.4 41.1,282.8 42.2,281.7 43.4,281.1 44.5,280.6 45.6,280.4 46.8,280.2 47.9,280.1 49.0,280.0 50.2,279.9 51.3,279.9 52.4,279.9 53.6,279.9 54.7,279.9 55.8,279.8 57.0,279.8 58.1,279.8 59.2,279.8 60.4,279.8 61.5,279.8 62.6,279.8 63.8,279.8 64.9,279.8 66.0,279.8 67.2,279.8 68.3,279.8 69.4,279.8 70.6,279.8 71.7,279.8 72.8,279.8 73.9,279.8 75.1,284.0 76.2,287.3 77.3,289.9 78.5,292.0 79.6,293.8 80.7,295.3 81.9,296.5 83.0,297.6 84.1,298.5 85.3,299.3 86.4,300.0 87.5,300.6 88.7,301.2 89.8,301.7 90.9,302.1 92.1,302.5 93.2,302.9 94.3,303.2 95.5,303.5 96.6,303.7 97.7,303.9 98.9,304.2 100.0,304.3 101.1,304.5 102.3,304.7 103.4,304.8 104.5,304.9 105.7,305.0 106.8,305.1 107.9,305.2 109.1,305.3 110.2,305.4 111.3,305.4 112.5,305.5 113.6,305.6" stroke="#3a3a3a" stroke-width="0.75" stroke-opacity="0.9"/>
<path d="M34.3,320.6 35.4,312.2 36.6,306.0 37.7,301.5 38.8,298.2 40.0,295.8 41.1,294.0 42.2,292.6 43.4,291.7 44.5,291.0 45.6,290.4 46.8,290.1 47.9,289.8 49.0,289.6 50.2,289.4 51.3,289.3 52.4,289.2 53.6,289.2 54.7,289.1 55.8,289.1 57.0,289.1 58.1,289.0 59.2,289.0 60.4,289.0 61.5,289.0 62.6,289.0 63.8,289.0 64.9,289.0 66.0,289.0 67.2,289.0 68.3,289.0 69.4,289.0 70.6,289.0 71.7,289.0 72.8,289.0 73.9,289.0 75.1,292.1 76.2,294.5 77.3,296.3 78.5,297.7 79.6,298.9 80.7,299.8 81.9,300.7 83.0,301.4 84.1,302.1 85.3,302.6 86.4,303.2 87.5,303.7 88.7,304.1 89.8,304.5 90.9,304.9 92.1,305.2 93.2,305.6 94.3,305.9 95.5,306.1 96.6,306.4 97.7,306.6 98.9,306.9 100.0,307.1 101.1,307.3 102.3,307.4 103.4,307.6 104.5,307.8 105.7,307.9 106.8,308.0 107.9,308.2 109.1,308.3 110.2,308.4 111.3,308.5 112.5,308.6 113.6,308.7" stroke="#3a3a3a" stroke-width="0.75" stroke-opacity="0.9"/>
<path d="M34.3,320.6 35.4,317.3 36.6,314.5 37.7,312.2 38.8,310.2 40.0,308.6 41.1,307.2 42.2,306.1 43.4,305.2 44.5,304.4 45.6,303.7 46.8,303.2 47.9,302.7 49.0,302.3 50.2,302.0 51.3,301.7 52.4,301.5 53.6,301.3 54.7,301.2 55.8,301.0 57.0,300.9 58.1,300.8 59.2,300.8 60.4,300.7 61.5,300.6 62.6,300.6 63.8,300.6 64.9,300.5 66.0,300.5 67.2,300.5 68.3,300.5 69.4,300.5 70.6,300.4 71.7,300.4 72.8,300.4 73.9,300.4 75.1,303.2 76.2,305.5 77.3,307.4 78.5,308.9 79.6,310.2 80.7,311.3 81.9,312.2 83.0,313.0 84.1,313.7 85.3,314.3 86.4,314.9 87.5,315.3 88.7,315.8 89.8,316.1 90.9,316.4 92.1,316.7 93.2,317.0 94.3,317.2 95.5,317.4 96.6,317.6 97.7,317.8 98.9,318.0 100.0,318.1 101.1,318.2 102.3,318.3 103.4,318.4 104.5,318.5 105.7,318.6 106.8,318.7 107.9,318.7 109.1,318.8 110.2,318.8 111.3,318.9 112.5,318.9 113.6,319.0" stroke="#3a3a3a" stroke-width="0.75" stroke-opacity="0.9"/>
</g>
<path d="M34.3 257.4 V320.9 H113.6" stroke="#1e1e1e" stroke-width="1.1" fill="none"/>
<path d="M32.3 320.6 H34.3 M32.3 307.96 H34.3 M32.3 295.32 H34.3 M32.3 282.68 H34.3 M32.3 270.04 H34.3 M32.3 257.4 H34.3 M34.3 320.9 V322.9 M54.12 320.9 V322.9 M73.95 320.9 V322.9 M93.77 320.9 V322.9 M113.6 320.9 V322.9" stroke="#1e1e1e" stroke-width="0.9" fill="none"/>
<text x="31.1" y="323.05" font-size="6.8" text-anchor="end" fill="#1a1a1a" >0.0</text>
<text x="31.1" y="310.41" font-size="6.8" text-anchor="end" fill="#1a1a1a" >0.2</text>
<text x="31.1" y="297.77" font-size="6.8" text-anchor="end" fill="#1a1a1a" >0.4</text>
<text x="31.1" y="285.13" font-size="6.8" text-anchor="end" fill="#1a1a1a" >0.6</text>
<text x="31.1" y="272.49" font-size="6.8" text-anchor="end" fill="#1a1a1a" >0.8</text>
<text x="31.1" y="259.85" font-size="6.8" text-anchor="end" fill="#1a1a1a" >1.0</text>
<text x="34.3" y="329.15" font-size="6.8" text-anchor="middle" fill="#1a1a1a" >0</text>
<text x="54.12" y="329.15" font-size="6.8" text-anchor="middle" fill="#1a1a1a" >90</text>
<text x="73.95" y="329.15" font-size="6.8" text-anchor="middle" fill="#1a1a1a" >180</text>
<text x="93.77" y="329.15" font-size="6.8" text-anchor="middle" fill="#1a1a1a" >270</text>
<text x="113.6" y="329.15" font-size="6.8" text-anchor="middle" fill="#1a1a1a" >360</text>
<text x="73.95" y="339.48" font-size="6.9" text-anchor="middle" fill="#1a1a1a" >Time (s)</text>
<text transform="translate(16.31 289) rotate(-90)" font-size="6.7" text-anchor="middle" fill="#1a1a1a">Binding (nm)</text>
<text x="72.7" y="256.5" font-size="6.8" text-anchor="middle" fill="#1a1a1a" >JM-5-18</text>
<text x="119.3" y="259.52" font-size="5.9" fill="#1a1a1a">K<tspan font-size="3.9" dy="1.4">D</tspan><tspan dy="-1.4">=3.40×10</tspan><tspan font-size="3.9" dy="-2.5">−7</tspan><tspan dy="2.5">M</tspan></text>
<text x="119.3" y="270.02" font-size="5.9" fill="#1a1a1a">ka=4.75×10<tspan font-size="3.9" dy="-2.5"> 4</tspan><tspan dy="2.5"> M</tspan><tspan font-size="3.9" dy="-2.5"> −1</tspan><tspan dy="2.5">s</tspan><tspan font-size="3.9" dy="-2.5">−1</tspan></text>
<text x="119.3" y="279.62" font-size="5.9" fill="#1a1a1a">kd=1.62×10<tspan font-size="3.9" dy="-2.5">−2</tspan><tspan dy="2.5"> s</tspan><tspan font-size="3.9" dy="-2.5"> −1</tspan></text>
<path d="M121.6 292.2 H134.6" stroke="#e2df38" stroke-width="1.7"/>
<text x="137.6" y="294.22" font-size="5.6" text-anchor="start" fill="#1a1a1a" >2500 nM</text>
<path d="M121.6 299.9 H134.6" stroke="#ef6f7a" stroke-width="1.7"/>
<text x="137.6" y="301.92" font-size="5.6" text-anchor="start" fill="#1a1a1a" >1250 nM</text>
<path d="M121.6 307.6 H134.6" stroke="#5672ee" stroke-width="1.7"/>
<text x="137.6" y="309.62" font-size="5.6" text-anchor="start" fill="#1a1a1a" >625 nM</text>
<path d="M121.6 315.3 H134.6" stroke="#f5924a" stroke-width="1.7"/>
<text x="137.6" y="317.32" font-size="5.6" text-anchor="start" fill="#1a1a1a" >312 nM</text>
<g fill="none" stroke-linejoin="round" stroke-linecap="round">
<path d="M199.5,319.4 200.1,316.6 200.6,313.9 201.2,311.3 201.8,308.9 202.3,306.6 202.9,304.5 203.5,302.4 204.0,300.4 204.6,298.6 205.2,296.8 205.7,295.2 206.3,293.6 206.9,292.1 207.4,290.7 208.0,289.4 208.6,288.1 209.1,286.9 209.7,285.7 210.3,284.7 210.8,283.6 211.4,282.7 212.0,281.7 212.5,280.9 213.1,280.0 213.7,279.3 214.2,278.5 214.8,277.8 215.4,277.1 215.9,276.5 216.5,275.9 217.1,275.3 217.6,274.8 218.2,274.3 218.8,273.8 219.3,273.3 219.9,272.9 220.5,272.5 221.0,272.1 221.6,271.7 222.2,271.4 222.7,271.0 223.3,270.7 223.9,270.4 224.4,270.1 225.0,269.9 225.6,269.6 226.1,269.4 226.7,269.1 227.3,268.9 227.8,268.7 228.4,268.5 229.0,268.3 229.5,268.2 230.1,268.0 230.7,267.8 231.2,267.7 231.8,267.5 232.4,267.4 232.9,267.3 233.5,267.2 234.1,267.0 234.6,266.9 235.2,266.8 235.8,266.7 236.3,266.6 236.9,266.6 237.5,266.5 238.0,266.4 238.6,266.3 239.2,266.2 239.7,266.7 240.3,267.2 240.8,267.7 241.4,268.1 242.0,268.6 242.5,269.0 243.1,269.4 243.7,269.8 244.2,270.2 244.8,270.6 245.4,271.0 245.9,271.3 246.5,271.7 247.1,272.0 247.6,272.4 248.2,272.7 248.8,273.0 249.3,273.3 249.9,273.6 250.5,273.9 251.0,274.2 251.6,274.5 252.2,274.8 252.7,275.0 253.3,275.3 253.9,275.5 254.4,275.8 255.0,276.0 255.6,276.2 256.1,276.5 256.7,276.7 257.3,276.9 257.8,277.1 258.4,277.3 259.0,277.5 259.5,277.7 260.1,277.9 260.7,278.1 261.2,278.3 261.8,278.4 262.4,278.6 262.9,278.8 263.5,278.9 264.1,279.1 264.6,279.2 265.2,279.4 265.8,279.5 266.3,279.7 266.9,279.8 267.5,279.9 268.0,280.1 268.6,280.2 269.2,280.3 269.7,280.4 270.3,280.6 270.9,280.7 271.4,280.8 272.0,280.9 272.6,281.0 273.1,281.1 273.7,281.2 274.3,281.3 274.8,281.4 275.4,281.5 276.0,281.6 276.5,281.7 277.1,281.7 277.7,281.8 278.2,281.9 278.8,282.0" stroke="#e3dc1c" stroke-width="1.5"/>
<path d="M199.5,319.4 200.1,317.6 200.6,315.9 201.2,314.3 201.8,312.8 202.3,311.3 202.9,309.8 203.5,308.4 204.0,307.1 204.6,305.8 205.2,304.6 205.7,303.5 206.3,302.3 206.9,301.2 207.4,300.2 208.0,299.2 208.6,298.3 209.1,297.4 209.7,296.5 210.3,295.6 210.8,294.8 211.4,294.1 212.0,293.3 212.5,292.6 213.1,291.9 213.7,291.2 214.2,290.6 214.8,290.0 215.4,289.4 215.9,288.9 216.5,288.3 217.1,287.8 217.6,287.3 218.2,286.9 218.8,286.4 219.3,286.0 219.9,285.5 220.5,285.1 221.0,284.8 221.6,284.4 222.2,284.0 222.7,283.7 223.3,283.4 223.9,283.1 224.4,282.8 225.0,282.5 225.6,282.2 226.1,281.9 226.7,281.7 227.3,281.4 227.8,281.2 228.4,281.0 229.0,280.7 229.5,280.5 230.1,280.3 230.7,280.1 231.2,280.0 231.8,279.8 232.4,279.6 232.9,279.5 233.5,279.3 234.1,279.1 234.6,279.0 235.2,278.9 235.8,278.7 236.3,278.6 236.9,278.5 237.5,278.4 238.0,278.3 238.6,278.1 239.2,278.0 239.7,278.4 240.3,278.8 240.8,279.1 241.4,279.4 242.0,279.8 242.5,280.1 243.1,280.4 243.7,280.7 244.2,281.0 244.8,281.3 245.4,281.5 245.9,281.8 246.5,282.1 247.1,282.3 247.6,282.6 248.2,282.8 248.8,283.0 249.3,283.3 249.9,283.5 250.5,283.7 251.0,283.9 251.6,284.1 252.2,284.3 252.7,284.5 253.3,284.7 253.9,284.8 254.4,285.0 255.0,285.2 255.6,285.4 256.1,285.5 256.7,285.7 257.3,285.8 257.8,286.0 258.4,286.1 259.0,286.3 259.5,286.4 260.1,286.5 260.7,286.7 261.2,286.8 261.8,286.9 262.4,287.0 262.9,287.1 263.5,287.2 264.1,287.3 264.6,287.5 265.2,287.6 265.8,287.7 266.3,287.7 266.9,287.8 267.5,287.9 268.0,288.0 268.6,288.1 269.2,288.2 269.7,288.3 270.3,288.4 270.9,288.4 271.4,288.5 272.0,288.6 272.6,288.6 273.1,288.7 273.7,288.8 274.3,288.8 274.8,288.9 275.4,289.0 276.0,289.0 276.5,289.1 277.1,289.1 277.7,289.2 278.2,289.3 278.8,289.3" stroke="#ec5a64" stroke-width="1.5"/>
<path d="M199.5,319.4 200.1,318.5 200.6,317.6 201.2,316.7 201.8,315.8 202.3,315.0 202.9,314.2 203.5,313.4 204.0,312.6 204.6,311.9 205.2,311.2 205.7,310.5 206.3,309.8 206.9,309.2 207.4,308.5 208.0,307.9 208.6,307.3 209.1,306.7 209.7,306.1 210.3,305.6 210.8,305.1 211.4,304.5 212.0,304.0 212.5,303.5 213.1,303.1 213.7,302.6 214.2,302.2 214.8,301.7 215.4,301.3 215.9,300.9 216.5,300.5 217.1,300.1 217.6,299.7 218.2,299.3 218.8,299.0 219.3,298.6 219.9,298.3 220.5,298.0 221.0,297.7 221.6,297.4 222.2,297.1 222.7,296.8 223.3,296.5 223.9,296.2 224.4,295.9 225.0,295.7 225.6,295.4 226.1,295.2 226.7,295.0 227.3,294.7 227.8,294.5 228.4,294.3 229.0,294.1 229.5,293.9 230.1,293.7 230.7,293.5 231.2,293.3 231.8,293.1 232.4,292.9 232.9,292.8 233.5,292.6 234.1,292.4 234.6,292.2 235.2,291.9 235.8,291.7 236.3,291.5 236.9,291.3 237.5,291.1 238.0,290.9 238.6,290.7 239.2,290.5 239.7,291.4 240.3,291.7 240.8,291.9 241.4,292.2 242.0,292.4 242.5,292.6 243.1,292.8 243.7,293.0 244.2,293.3 244.8,293.5 245.4,293.6 245.9,293.8 246.5,294.0 247.1,294.2 247.6,294.4 248.2,294.5 248.8,294.7 249.3,294.9 249.9,295.0 250.5,295.2 251.0,295.3 251.6,295.5 252.2,295.6 252.7,295.7 253.3,295.9 253.9,296.0 254.4,296.1 255.0,296.2 255.6,296.4 256.1,296.5 256.7,296.6 257.3,296.7 257.8,296.8 258.4,296.9 259.0,297.0 259.5,297.1 260.1,297.2 260.7,297.3 261.2,297.4 261.8,297.4 262.4,297.5 262.9,297.6 263.5,297.7 264.1,297.8 264.6,297.8 265.2,297.9 265.8,298.0 266.3,298.0 266.9,298.1 267.5,298.2 268.0,298.2 268.6,298.3 269.2,298.4 269.7,298.4 270.3,298.5 270.9,298.5 271.4,298.6 272.0,298.6 272.6,298.7 273.1,298.7 273.7,298.8 274.3,298.8 274.8,298.9 275.4,298.9 276.0,299.0 276.5,299.0 277.1,299.0 277.7,299.1 278.2,299.1 278.8,299.1" stroke="#3a5ae6" stroke-width="1.5"/>
<path d="M199.5,319.4 200.1,319.1 200.6,318.8 201.2,318.5 201.8,318.2 202.3,317.9 202.9,317.6 203.5,317.3 204.0,317.0 204.6,316.7 205.2,316.4 205.7,316.1 206.3,315.8 206.9,315.5 207.4,315.2 208.0,314.9 208.6,314.6 209.1,314.3 209.7,314.0 210.3,313.8 210.8,313.5 211.4,313.2 212.0,312.9 212.5,312.6 213.1,312.4 213.7,312.1 214.2,311.8 214.8,311.5 215.4,311.3 215.9,311.0 216.5,310.7 217.1,310.5 217.6,310.2 218.2,310.0 218.8,309.7 219.3,309.4 219.9,309.2 220.5,308.9 221.0,308.7 221.6,308.4 222.2,308.2 222.7,307.9 223.3,307.7 223.9,307.4 224.4,307.2 225.0,306.9 225.6,306.7 226.1,306.4 226.7,306.2 227.3,305.9 227.8,305.7 228.4,305.5 229.0,305.2 229.5,305.0 230.1,304.7 230.7,304.5 231.2,304.3 231.8,304.1 232.4,303.8 232.9,303.6 233.5,303.4 234.1,303.1 234.6,302.8 235.2,302.5 235.8,302.2 236.3,301.9 236.9,301.6 237.5,301.3 238.0,301.0 238.6,300.8 239.2,300.5 239.7,301.3 240.3,301.5 240.8,301.6 241.4,301.8 242.0,301.9 242.5,302.1 243.1,302.2 243.7,302.3 244.2,302.5 244.8,302.6 245.4,302.7 245.9,302.8 246.5,302.9 247.1,303.1 247.6,303.2 248.2,303.3 248.8,303.4 249.3,303.5 249.9,303.6 250.5,303.7 251.0,303.8 251.6,303.9 252.2,303.9 252.7,304.0 253.3,304.1 253.9,304.2 254.4,304.3 255.0,304.3 255.6,304.4 256.1,304.5 256.7,304.6 257.3,304.6 257.8,304.7 258.4,304.8 259.0,304.8 259.5,304.9 260.1,304.9 260.7,305.0 261.2,305.0 261.8,305.1 262.4,305.2 262.9,305.2 263.5,305.3 264.1,305.3 264.6,305.3 265.2,305.4 265.8,305.4 266.3,305.5 266.9,305.5 267.5,305.6 268.0,305.6 268.6,305.6 269.2,305.7 269.7,305.7 270.3,305.8 270.9,305.8 271.4,305.8 272.0,305.9 272.6,305.9 273.1,305.9 273.7,305.9 274.3,306.0 274.8,306.0 275.4,306.0 276.0,306.1 276.5,306.1 277.1,306.1 277.7,306.1 278.2,306.2 278.8,306.2" stroke="#f2822a" stroke-width="1.5"/>
<path d="M199.5,319.4 200.6,313.9 201.8,308.9 202.9,304.5 204.0,300.4 205.2,296.8 206.3,293.6 207.4,290.7 208.6,288.1 209.7,285.7 210.8,283.6 212.0,281.7 213.1,280.0 214.2,278.5 215.4,277.1 216.5,275.9 217.6,274.8 218.8,273.8 219.9,272.9 221.0,272.1 222.2,271.4 223.3,270.7 224.4,270.1 225.6,269.6 226.7,269.1 227.8,268.7 229.0,268.3 230.1,268.0 231.2,267.7 232.4,267.4 233.5,267.2 234.6,266.9 235.8,266.7 236.9,266.6 238.0,266.4 239.2,266.2 240.3,267.2 241.4,268.1 242.5,269.0 243.7,269.8 244.8,270.6 245.9,271.3 247.1,272.0 248.2,272.7 249.3,273.3 250.5,273.9 251.6,274.5 252.7,275.0 253.9,275.5 255.0,276.0 256.1,276.5 257.3,276.9 258.4,277.3 259.5,277.7 260.7,278.1 261.8,278.4 262.9,278.8 264.1,279.1 265.2,279.4 266.3,279.7 267.5,279.9 268.6,280.2 269.7,280.4 270.9,280.7 272.0,280.9 273.1,281.1 274.3,281.3 275.4,281.5 276.5,281.7 277.7,281.8 278.8,282.0" stroke="#3a3a3a" stroke-width="0.75" stroke-opacity="0.9"/>
<path d="M199.5,319.4 200.6,315.9 201.8,312.8 202.9,309.8 204.0,307.1 205.2,304.6 206.3,302.3 207.4,300.2 208.6,298.3 209.7,296.5 210.8,294.8 212.0,293.3 213.1,291.9 214.2,290.6 215.4,289.4 216.5,288.3 217.6,287.3 218.8,286.4 219.9,285.5 221.0,284.8 222.2,284.0 223.3,283.4 224.4,282.8 225.6,282.2 226.7,281.7 227.8,281.2 229.0,280.7 230.1,280.3 231.2,280.0 232.4,279.6 233.5,279.3 234.6,279.0 235.8,278.7 236.9,278.5 238.0,278.3 239.2,278.0 240.3,278.8 241.4,279.4 242.5,280.1 243.7,280.7 244.8,281.3 245.9,281.8 247.1,282.3 248.2,282.8 249.3,283.3 250.5,283.7 251.6,284.1 252.7,284.5 253.9,284.8 255.0,285.2 256.1,285.5 257.3,285.8 258.4,286.1 259.5,286.4 260.7,286.7 261.8,286.9 262.9,287.1 264.1,287.3 265.2,287.6 266.3,287.7 267.5,287.9 268.6,288.1 269.7,288.3 270.9,288.4 272.0,288.6 273.1,288.7 274.3,288.8 275.4,289.0 276.5,289.1 277.7,289.2 278.8,289.3" stroke="#3a3a3a" stroke-width="0.75" stroke-opacity="0.9"/>
<path d="M199.5,319.4 200.6,317.6 201.8,315.8 202.9,314.2 204.0,312.6 205.2,311.2 206.3,309.8 207.4,308.5 208.6,307.3 209.7,306.1 210.8,305.1 212.0,304.0 213.1,303.1 214.2,302.2 215.4,301.3 216.5,300.5 217.6,299.7 218.8,299.0 219.9,298.3 221.0,297.7 222.2,297.1 223.3,296.5 224.4,295.9 225.6,295.4 226.7,295.0 227.8,294.5 229.0,294.1 230.1,293.7 231.2,293.3 232.4,292.9 233.5,292.6 234.6,292.3 235.8,292.0 236.9,291.7 238.0,291.4 239.2,291.2 240.3,291.7 241.4,292.2 242.5,292.6 243.7,293.0 244.8,293.5 245.9,293.8 247.1,294.2 248.2,294.5 249.3,294.9 250.5,295.2 251.6,295.5 252.7,295.7 253.9,296.0 255.0,296.2 256.1,296.5 257.3,296.7 258.4,296.9 259.5,297.1 260.7,297.3 261.8,297.4 262.9,297.6 264.1,297.8 265.2,297.9 266.3,298.0 267.5,298.2 268.6,298.3 269.7,298.4 270.9,298.5 272.0,298.6 273.1,298.7 274.3,298.8 275.4,298.9 276.5,299.0 277.7,299.1 278.8,299.1" stroke="#3a3a3a" stroke-width="0.75" stroke-opacity="0.9"/>
<path d="M199.5,319.4 200.6,318.8 201.8,318.2 202.9,317.6 204.0,317.0 205.2,316.4 206.3,315.8 207.4,315.2 208.6,314.6 209.7,314.0 210.8,313.5 212.0,312.9 213.1,312.4 214.2,311.8 215.4,311.3 216.5,310.7 217.6,310.2 218.8,309.7 219.9,309.2 221.0,308.7 222.2,308.2 223.3,307.7 224.4,307.2 225.6,306.7 226.7,306.2 227.8,305.7 229.0,305.2 230.1,304.7 231.2,304.3 232.4,303.8 233.5,303.4 234.6,302.9 235.8,302.5 236.9,302.0 238.0,301.6 239.2,301.2 240.3,301.5 241.4,301.8 242.5,302.1 243.7,302.3 244.8,302.6 245.9,302.8 247.1,303.1 248.2,303.3 249.3,303.5 250.5,303.7 251.6,303.9 252.7,304.0 253.9,304.2 255.0,304.3 256.1,304.5 257.3,304.6 258.4,304.8 259.5,304.9 260.7,305.0 261.8,305.1 262.9,305.2 264.1,305.3 265.2,305.4 266.3,305.5 267.5,305.6 268.6,305.6 269.7,305.7 270.9,305.8 272.0,305.9 273.1,305.9 274.3,306.0 275.4,306.0 276.5,306.1 277.7,306.1 278.8,306.2" stroke="#3a3a3a" stroke-width="0.75" stroke-opacity="0.9"/>
</g>
<path d="M199.5 257.3 V320.7 H278.8" stroke="#1e1e1e" stroke-width="1.1" fill="none"/>
<path d="M197.5 319.4 H199.5 M197.5 309.05 H199.5 M197.5 298.7 H199.5 M197.5 288.35 H199.5 M197.5 278 H199.5 M197.5 267.65 H199.5 M197.5 257.3 H199.5 M199.5 320.7 V322.7 M219.32 320.7 V322.7 M239.15 320.7 V322.7 M258.98 320.7 V322.7 M278.8 320.7 V322.7" stroke="#1e1e1e" stroke-width="0.9" fill="none"/>
<text x="196.3" y="321.85" font-size="6.8" text-anchor="end" fill="#1a1a1a" >0.0</text>
<text x="196.3" y="311.5" font-size="6.8" text-anchor="end" fill="#1a1a1a" >0.3</text>
<text x="196.3" y="301.15" font-size="6.8" text-anchor="end" fill="#1a1a1a" >0.6</text>
<text x="196.3" y="290.8" font-size="6.8" text-anchor="end" fill="#1a1a1a" >0.9</text>
<text x="196.3" y="280.45" font-size="6.8" text-anchor="end" fill="#1a1a1a" >1.2</text>
<text x="196.3" y="270.1" font-size="6.8" text-anchor="end" fill="#1a1a1a" >1.5</text>
<text x="196.3" y="259.75" font-size="6.8" text-anchor="end" fill="#1a1a1a" >1.8</text>
<text x="199.5" y="328.95" font-size="6.8" text-anchor="middle" fill="#1a1a1a" >0</text>
<text x="219.32" y="328.95" font-size="6.8" text-anchor="middle" fill="#1a1a1a" >90</text>
<text x="239.15" y="328.95" font-size="6.8" text-anchor="middle" fill="#1a1a1a" >180</text>
<text x="258.98" y="328.95" font-size="6.8" text-anchor="middle" fill="#1a1a1a" >270</text>
<text x="278.8" y="328.95" font-size="6.8" text-anchor="middle" fill="#1a1a1a" >360</text>
<text x="239.15" y="339.28" font-size="6.9" text-anchor="middle" fill="#1a1a1a" >Time (s)</text>
<text transform="translate(181.51 288.35) rotate(-90)" font-size="6.7" text-anchor="middle" fill="#1a1a1a">Binding (nm)</text>
<text x="237.2" y="255.8" font-size="6.8" text-anchor="middle" fill="#1a1a1a" >JM-17-18</text>
<text x="282.5" y="259.72" font-size="5.9" fill="#1a1a1a">K<tspan font-size="3.9" dy="1.4">D</tspan><tspan dy="-1.4">=3.57×10</tspan><tspan font-size="3.9" dy="-2.5">−8</tspan><tspan dy="2.5">M</tspan></text>
<text x="282.5" y="269.02" font-size="5.9" fill="#1a1a1a">ka=5.61×10<tspan font-size="3.9" dy="-2.5"> 4</tspan><tspan dy="2.5"> M</tspan><tspan font-size="3.9" dy="-2.5"> −1</tspan><tspan dy="2.5">s</tspan><tspan font-size="3.9" dy="-2.5">−1</tspan></text>
<text x="282.5" y="278.82" font-size="5.9" fill="#1a1a1a">kd=2.00×10<tspan font-size="3.9" dy="-2.5">−3</tspan><tspan dy="2.5"> s</tspan><tspan font-size="3.9" dy="-2.5"> −1</tspan></text>
<path d="M285.3 292.1 H298" stroke="#e2df38" stroke-width="1.7"/>
<text x="301.6" y="294.12" font-size="5.6" text-anchor="start" fill="#1a1a1a" >320&#160; nM</text>
<path d="M285.3 300 H298" stroke="#ef6f7a" stroke-width="1.7"/>
<text x="301.6" y="302.02" font-size="5.6" text-anchor="start" fill="#1a1a1a" >160 nM</text>
<path d="M285.3 307.6 H298" stroke="#5672ee" stroke-width="1.7"/>
<text x="301.6" y="309.62" font-size="5.6" text-anchor="start" fill="#1a1a1a" >80 nM</text>
<path d="M285.3 315.1 H298" stroke="#f5924a" stroke-width="1.7"/>
<text x="301.6" y="317.12" font-size="5.6" text-anchor="start" fill="#1a1a1a" >40 nM</text>
<g fill="none" stroke-linejoin="round" stroke-linecap="round">
<path d="M35.7,424.4 36.2,422.1 36.8,419.8 37.3,417.7 37.9,415.7 38.4,413.7 38.9,411.8 39.5,410.0 40.0,408.3 40.6,406.6 41.1,405.0 41.7,403.5 42.2,402.1 42.7,400.7 43.3,399.3 43.8,398.0 44.4,396.8 44.9,395.6 45.4,394.5 46.0,393.4 46.5,392.4 47.1,391.4 47.6,390.4 48.1,389.5 48.7,388.6 49.2,387.8 49.8,387.0 50.3,386.2 50.8,385.5 51.4,384.8 51.9,384.1 52.5,383.4 53.0,382.8 53.6,382.2 54.1,381.6 54.6,381.1 55.2,380.6 55.7,380.1 56.3,379.6 56.8,379.1 57.3,378.7 57.9,378.2 58.4,377.8 59.0,377.4 59.5,377.1 60.0,376.7 60.6,376.4 61.1,376.0 61.7,375.7 62.2,375.4 62.8,375.1 63.3,374.8 63.8,374.6 64.4,374.3 64.9,374.1 65.5,373.8 66.0,373.6 66.5,373.4 67.1,373.2 67.6,373.0 68.2,372.8 68.7,372.6 69.2,372.4 69.8,372.3 70.3,372.1 70.9,371.9 71.4,371.8 71.9,371.7 72.5,371.5 73.0,371.4 73.6,371.3 74.1,371.3 74.7,371.3 75.2,371.3 75.7,371.3 76.3,371.3 76.8,371.3 77.4,371.3 77.9,371.3 78.4,371.3 79.0,371.3 79.5,371.3 80.1,371.3 80.6,371.3 81.1,371.3 81.7,371.3 82.2,371.3 82.8,371.3 83.3,371.3 83.9,371.3 84.4,371.3 84.9,371.3 85.5,371.3 86.0,371.3 86.6,371.3 87.1,371.3 87.6,371.3 88.2,371.3 88.7,371.3 89.3,371.3 89.8,371.3 90.3,371.3 90.9,371.3 91.4,371.3 92.0,371.3 92.5,371.3 93.0,371.3 93.6,371.3 94.1,371.3 94.7,371.3 95.2,371.3 95.8,371.3 96.3,371.3 96.8,371.3 97.4,371.3 97.9,371.3 98.5,371.3 99.0,371.3 99.5,371.3 100.1,371.3 100.6,371.3 101.2,371.3 101.7,371.3 102.2,371.3 102.8,371.3 103.3,371.3 103.9,371.3 104.4,371.3 105.0,371.3 105.5,371.3 106.0,371.3 106.6,371.3 107.1,371.3 107.7,371.3 108.2,371.3 108.7,371.3 109.3,371.3 109.8,371.3 110.4,371.3 110.9,371.3 111.4,371.3" stroke="#e3dc1c" stroke-width="1.5"/>
<path d="M35.7,424.4 36.2,423.0 36.8,421.6 37.3,420.2 37.9,418.9 38.4,417.6 38.9,416.4 39.5,415.2 40.0,414.1 40.6,413.0 41.1,411.9 41.7,410.8 42.2,409.8 42.7,408.9 43.3,407.9 43.8,407.0 44.4,406.1 44.9,405.3 45.4,404.5 46.0,403.7 46.5,402.9 47.1,402.1 47.6,401.4 48.1,400.7 48.7,400.0 49.2,399.4 49.8,398.8 50.3,398.1 50.8,397.5 51.4,397.0 51.9,396.4 52.5,395.9 53.0,395.4 53.6,394.9 54.1,394.4 54.6,393.9 55.2,393.4 55.7,393.0 56.3,392.6 56.8,392.2 57.3,391.8 57.9,391.4 58.4,391.0 59.0,390.6 59.5,390.3 60.0,390.0 60.6,389.6 61.1,389.3 61.7,389.0 62.2,388.7 62.8,388.4 63.3,388.1 63.8,387.9 64.4,387.6 64.9,387.4 65.5,387.1 66.0,386.9 66.5,386.7 67.1,386.4 67.6,386.2 68.2,386.0 68.7,385.8 69.2,385.6 69.8,385.4 70.3,385.3 70.9,385.1 71.4,384.9 71.9,384.8 72.5,384.6 73.0,384.4 73.6,384.3 74.1,384.3 74.7,384.3 75.2,384.3 75.7,384.3 76.3,384.3 76.8,384.3 77.4,384.3 77.9,384.3 78.4,384.3 79.0,384.3 79.5,384.3 80.1,384.3 80.6,384.3 81.1,384.3 81.7,384.3 82.2,384.3 82.8,384.3 83.3,384.3 83.9,384.3 84.4,384.4 84.9,384.4 85.5,384.4 86.0,384.4 86.6,384.4 87.1,384.4 87.6,384.4 88.2,384.4 88.7,384.4 89.3,384.4 89.8,384.4 90.3,384.4 90.9,384.4 91.4,384.4 92.0,384.4 92.5,384.4 93.0,384.4 93.6,384.4 94.1,384.4 94.7,384.4 95.2,384.4 95.8,384.4 96.3,384.4 96.8,384.4 97.4,384.4 97.9,384.4 98.5,384.4 99.0,384.4 99.5,384.4 100.1,384.4 100.6,384.4 101.2,384.4 101.7,384.4 102.2,384.4 102.8,384.4 103.3,384.4 103.9,384.5 104.4,384.5 105.0,384.5 105.5,384.5 106.0,384.5 106.6,384.5 107.1,384.5 107.7,384.5 108.2,384.5 108.7,384.5 109.3,384.5 109.8,384.5 110.4,384.5 110.9,384.5 111.4,384.5" stroke="#ec5a64" stroke-width="1.5"/>
<path d="M35.7,424.4 36.2,423.6 36.8,422.7 37.3,421.9 37.9,421.1 38.4,420.4 38.9,419.6 39.5,418.9 40.0,418.2 40.6,417.5 41.1,416.9 41.7,416.2 42.2,415.6 42.7,414.9 43.3,414.3 43.8,413.7 44.4,413.2 44.9,412.6 45.4,412.1 46.0,411.5 46.5,411.0 47.1,410.5 47.6,410.0 48.1,409.5 48.7,409.0 49.2,408.6 49.8,408.1 50.3,407.7 50.8,407.3 51.4,406.9 51.9,406.5 52.5,406.1 53.0,405.7 53.6,405.3 54.1,404.9 54.6,404.6 55.2,404.2 55.7,403.9 56.3,403.6 56.8,403.3 57.3,402.9 57.9,402.6 58.4,402.3 59.0,402.1 59.5,401.8 60.0,401.5 60.6,401.2 61.1,401.0 61.7,400.7 62.2,400.5 62.8,400.2 63.3,400.0 63.8,399.8 64.4,399.5 64.9,399.3 65.5,399.1 66.0,398.9 66.5,398.7 67.1,398.5 67.6,398.3 68.2,398.1 68.7,397.9 69.2,397.7 69.8,397.6 70.3,397.3 70.9,397.1 71.4,396.9 71.9,396.7 72.5,396.5 73.0,396.3 73.6,396.0 74.1,396.7 74.7,396.7 75.2,396.7 75.7,396.7 76.3,396.7 76.8,396.7 77.4,396.7 77.9,396.7 78.4,396.7 79.0,396.7 79.5,396.7 80.1,396.7 80.6,396.7 81.1,396.7 81.7,396.7 82.2,396.7 82.8,396.7 83.3,396.7 83.9,396.7 84.4,396.7 84.9,396.7 85.5,396.7 86.0,396.7 86.6,396.7 87.1,396.7 87.6,396.7 88.2,396.7 88.7,396.7 89.3,396.7 89.8,396.7 90.3,396.7 90.9,396.7 91.4,396.7 92.0,396.7 92.5,396.7 93.0,396.7 93.6,396.7 94.1,396.7 94.7,396.7 95.2,396.7 95.8,396.7 96.3,396.7 96.8,396.7 97.4,396.7 97.9,396.7 98.5,396.7 99.0,396.7 99.5,396.7 100.1,396.7 100.6,396.7 101.2,396.7 101.7,396.7 102.2,396.7 102.8,396.7 103.3,396.7 103.9,396.7 104.4,396.7 105.0,396.7 105.5,396.7 106.0,396.7 106.6,396.7 107.1,396.7 107.7,396.7 108.2,396.7 108.7,396.7 109.3,396.7 109.8,396.7 110.4,396.7 110.9,396.7 111.4,396.7" stroke="#3a5ae6" stroke-width="1.5"/>
<path d="M35.7,424.4 36.2,424.2 36.8,423.9 37.3,423.7 37.9,423.5 38.4,423.3 38.9,423.0 39.5,422.8 40.0,422.6 40.6,422.4 41.1,422.3 41.7,422.1 42.2,421.9 42.7,421.7 43.3,421.5 43.8,421.4 44.4,421.2 44.9,421.1 45.4,420.9 46.0,420.8 46.5,420.6 47.1,420.5 47.6,420.3 48.1,420.2 48.7,420.1 49.2,420.0 49.8,419.8 50.3,419.7 50.8,419.6 51.4,419.5 51.9,419.4 52.5,419.3 53.0,419.2 53.6,419.1 54.1,419.0 54.6,418.9 55.2,418.8 55.7,418.7 56.3,418.6 56.8,418.5 57.3,418.4 57.9,418.4 58.4,418.3 59.0,418.2 59.5,418.1 60.0,418.1 60.6,418.0 61.1,417.9 61.7,417.9 62.2,417.8 62.8,417.7 63.3,417.7 63.8,417.6 64.4,417.5 64.9,417.5 65.5,417.4 66.0,417.4 66.5,417.3 67.1,417.3 67.6,417.2 68.2,417.2 68.7,417.1 69.2,417.1 69.8,417.0 70.3,416.8 70.9,416.6 71.4,416.4 71.9,416.3 72.5,416.1 73.0,415.9 73.6,415.7 74.1,416.8 74.7,416.8 75.2,416.8 75.7,416.8 76.3,416.8 76.8,416.8 77.4,416.8 77.9,416.8 78.4,416.8 79.0,416.8 79.5,416.8 80.1,416.8 80.6,416.8 81.1,416.8 81.7,416.8 82.2,416.8 82.8,416.8 83.3,416.8 83.9,416.8 84.4,416.8 84.9,416.8 85.5,416.8 86.0,416.8 86.6,416.8 87.1,416.8 87.6,416.8 88.2,416.8 88.7,416.8 89.3,416.8 89.8,416.8 90.3,416.8 90.9,416.8 91.4,416.8 92.0,416.8 92.5,416.8 93.0,416.8 93.6,416.8 94.1,416.8 94.7,416.8 95.2,416.8 95.8,416.8 96.3,416.8 96.8,416.8 97.4,416.8 97.9,416.8 98.5,416.8 99.0,416.8 99.5,416.8 100.1,416.8 100.6,416.8 101.2,416.8 101.7,416.8 102.2,416.8 102.8,416.8 103.3,416.8 103.9,416.8 104.4,416.8 105.0,416.8 105.5,416.8 106.0,416.8 106.6,416.8 107.1,416.8 107.7,416.8 108.2,416.8 108.7,416.8 109.3,416.8 109.8,416.8 110.4,416.8 110.9,416.8 111.4,416.8" stroke="#f2822a" stroke-width="1.5"/>
<path d="M35.7,424.4 36.8,419.8 37.9,415.7 38.9,411.8 40.0,408.3 41.1,405.0 42.2,402.1 43.3,399.3 44.4,396.8 45.4,394.5 46.5,392.4 47.6,390.4 48.7,388.6 49.8,387.0 50.8,385.5 51.9,384.1 53.0,382.8 54.1,381.6 55.2,380.6 56.3,379.6 57.3,378.7 58.4,377.8 59.5,377.1 60.6,376.4 61.7,375.7 62.8,375.1 63.8,374.6 64.9,374.1 66.0,373.6 67.1,373.2 68.2,372.8 69.2,372.4 70.3,372.1 71.4,371.8 72.5,371.5 73.6,371.3 74.7,371.3 75.7,371.3 76.8,371.3 77.9,371.3 79.0,371.3 80.1,371.3 81.1,371.3 82.2,371.3 83.3,371.3 84.4,371.3 85.5,371.3 86.6,371.3 87.6,371.3 88.7,371.3 89.8,371.3 90.9,371.3 92.0,371.3 93.0,371.3 94.1,371.3 95.2,371.3 96.3,371.3 97.4,371.3 98.5,371.3 99.5,371.3 100.6,371.3 101.7,371.3 102.8,371.3 103.9,371.3 105.0,371.3 106.0,371.3 107.1,371.3 108.2,371.3 109.3,371.3 110.4,371.3 111.4,371.3" stroke="#3a3a3a" stroke-width="0.75" stroke-opacity="0.9"/>
<path d="M35.7,424.4 36.8,421.6 37.9,418.9 38.9,416.4 40.0,414.1 41.1,411.9 42.2,409.8 43.3,407.9 44.4,406.1 45.4,404.5 46.5,402.9 47.6,401.4 48.7,400.0 49.8,398.8 50.8,397.5 51.9,396.4 53.0,395.4 54.1,394.4 55.2,393.4 56.3,392.6 57.3,391.8 58.4,391.0 59.5,390.3 60.6,389.6 61.7,389.0 62.8,388.4 63.8,387.9 64.9,387.4 66.0,386.9 67.1,386.4 68.2,386.0 69.2,385.6 70.3,385.3 71.4,384.9 72.5,384.6 73.6,384.3 74.7,384.3 75.7,384.3 76.8,384.3 77.9,384.3 79.0,384.3 80.1,384.3 81.1,384.3 82.2,384.3 83.3,384.3 84.4,384.4 85.5,384.4 86.6,384.4 87.6,384.4 88.7,384.4 89.8,384.4 90.9,384.4 92.0,384.4 93.0,384.4 94.1,384.4 95.2,384.4 96.3,384.4 97.4,384.4 98.5,384.4 99.5,384.4 100.6,384.4 101.7,384.4 102.8,384.4 103.9,384.5 105.0,384.5 106.0,384.5 107.1,384.5 108.2,384.5 109.3,384.5 110.4,384.5 111.4,384.5" stroke="#3a3a3a" stroke-width="0.75" stroke-opacity="0.9"/>
<path d="M35.7,424.4 36.8,422.7 37.9,421.1 38.9,419.6 40.0,418.2 41.1,416.9 42.2,415.6 43.3,414.3 44.4,413.2 45.4,412.1 46.5,411.0 47.6,410.0 48.7,409.0 49.8,408.1 50.8,407.3 51.9,406.5 53.0,405.7 54.1,404.9 55.2,404.2 56.3,403.6 57.3,402.9 58.4,402.3 59.5,401.8 60.6,401.2 61.7,400.7 62.8,400.2 63.8,399.8 64.9,399.3 66.0,398.9 67.1,398.5 68.2,398.1 69.2,397.7 70.3,397.4 71.4,397.1 72.5,396.8 73.6,396.5 74.7,396.5 75.7,396.5 76.8,396.5 77.9,396.5 79.0,396.5 80.1,396.5 81.1,396.5 82.2,396.5 83.3,396.5 84.4,396.5 85.5,396.5 86.6,396.5 87.6,396.5 88.7,396.5 89.8,396.5 90.9,396.5 92.0,396.5 93.0,396.5 94.1,396.5 95.2,396.5 96.3,396.5 97.4,396.5 98.5,396.5 99.5,396.5 100.6,396.5 101.7,396.5 102.8,396.5 103.9,396.5 105.0,396.5 106.0,396.5 107.1,396.5 108.2,396.5 109.3,396.5 110.4,396.5 111.4,396.5" stroke="#3a3a3a" stroke-width="0.75" stroke-opacity="0.9"/>
<path d="M35.7,424.4 36.8,423.9 37.9,423.5 38.9,423.0 40.0,422.6 41.1,422.3 42.2,421.9 43.3,421.5 44.4,421.2 45.4,420.9 46.5,420.6 47.6,420.3 48.7,420.1 49.8,419.8 50.8,419.6 51.9,419.4 53.0,419.2 54.1,419.0 55.2,418.8 56.3,418.6 57.3,418.4 58.4,418.3 59.5,418.1 60.6,418.0 61.7,417.9 62.8,417.7 63.8,417.6 64.9,417.5 66.0,417.4 67.1,417.3 68.2,417.2 69.2,417.1 70.3,417.0 71.4,416.9 72.5,416.8 73.6,416.8 74.7,416.8 75.7,416.8 76.8,416.8 77.9,416.8 79.0,416.8 80.1,416.8 81.1,416.8 82.2,416.8 83.3,416.8 84.4,416.8 85.5,416.8 86.6,416.8 87.6,416.8 88.7,416.8 89.8,416.8 90.9,416.8 92.0,416.8 93.0,416.8 94.1,416.8 95.2,416.8 96.3,416.8 97.4,416.8 98.5,416.8 99.5,416.8 100.6,416.8 101.7,416.8 102.8,416.8 103.9,416.8 105.0,416.8 106.0,416.8 107.1,416.8 108.2,416.8 109.3,416.8 110.4,416.8 111.4,416.8" stroke="#3a3a3a" stroke-width="0.75" stroke-opacity="0.9"/>
</g>
<path d="M35.7 360.5 V424.4 H114.6" stroke="#1e1e1e" stroke-width="1.1" fill="none"/>
<path d="M33.7 424.4 H35.7 M33.7 413.75 H35.7 M33.7 403.1 H35.7 M33.7 392.45 H35.7 M33.7 381.8 H35.7 M33.7 371.15 H35.7 M33.7 360.5 H35.7 M35.7 424.4 V426.4 M51.48 424.4 V426.4 M67.26 424.4 V426.4 M83.04 424.4 V426.4 M98.82 424.4 V426.4 M114.6 424.4 V426.4" stroke="#1e1e1e" stroke-width="0.9" fill="none"/>
<text x="32.5" y="426.85" font-size="6.8" text-anchor="end" fill="#1a1a1a" >0.0</text>
<text x="32.5" y="416.2" font-size="6.8" text-anchor="end" fill="#1a1a1a" >0.5</text>
<text x="32.5" y="405.55" font-size="6.8" text-anchor="end" fill="#1a1a1a" >1.0</text>
<text x="32.5" y="394.9" font-size="6.8" text-anchor="end" fill="#1a1a1a" >1.5</text>
<text x="32.5" y="384.25" font-size="6.8" text-anchor="end" fill="#1a1a1a" >2.0</text>
<text x="32.5" y="373.6" font-size="6.8" text-anchor="end" fill="#1a1a1a" >2.5</text>
<text x="32.5" y="362.95" font-size="6.8" text-anchor="end" fill="#1a1a1a" >3.0</text>
<text x="35.7" y="432.65" font-size="6.8" text-anchor="middle" fill="#1a1a1a" >0</text>
<text x="51.48" y="432.65" font-size="6.8" text-anchor="middle" fill="#1a1a1a" >100</text>
<text x="67.26" y="432.65" font-size="6.8" text-anchor="middle" fill="#1a1a1a" >200</text>
<text x="83.04" y="432.65" font-size="6.8" text-anchor="middle" fill="#1a1a1a" >300</text>
<text x="98.82" y="432.65" font-size="6.8" text-anchor="middle" fill="#1a1a1a" >400</text>
<text x="114.6" y="432.65" font-size="6.8" text-anchor="middle" fill="#1a1a1a" >500</text>
<text x="75.15" y="442.98" font-size="6.9" text-anchor="middle" fill="#1a1a1a" >Time (s)</text>
<text transform="translate(17.71 392.45) rotate(-90)" font-size="6.7" text-anchor="middle" fill="#1a1a1a">Binding (nm)</text>
<text x="73.1" y="358.1" font-size="6.8" text-anchor="middle" fill="#1a1a1a" >JM-2-5-Fc</text>
<text x="119.2" y="361.12" font-size="5.9" fill="#1a1a1a">K<tspan font-size="3.9" dy="1.4">D</tspan><tspan dy="-1.4">=&lt;1×10</tspan><tspan font-size="3.9" dy="-2.5">−12</tspan><tspan dy="2.5">M</tspan></text>
<text x="119.2" y="371.82" font-size="5.9" fill="#1a1a1a">ka=4.14×10<tspan font-size="3.9" dy="-2.5"> 4</tspan><tspan dy="2.5"> M</tspan><tspan font-size="3.9" dy="-2.5"> −1</tspan><tspan dy="2.5">s</tspan><tspan font-size="3.9" dy="-2.5">−1</tspan></text>
<text x="119.2" y="382.12" font-size="5.9" fill="#1a1a1a">kd=&lt;1×10<tspan font-size="3.9" dy="-2.5">−7</tspan><tspan dy="2.5"> s</tspan><tspan font-size="3.9" dy="-2.5"> −1</tspan></text>
<path d="M121.5 394.8 H134.5" stroke="#e2df38" stroke-width="1.7"/>
<text x="137.3" y="396.82" font-size="5.6" text-anchor="start" fill="#1a1a1a" >320&#160; nM</text>
<path d="M121.5 402.1 H134.5" stroke="#ef6f7a" stroke-width="1.7"/>
<text x="137.3" y="404.12" font-size="5.6" text-anchor="start" fill="#1a1a1a" >160 nM</text>
<path d="M121.5 409.6 H134.5" stroke="#5672ee" stroke-width="1.7"/>
<text x="137.3" y="411.62" font-size="5.6" text-anchor="start" fill="#1a1a1a" >80 nM</text>
<path d="M121.5 417.3 H134.5" stroke="#f5924a" stroke-width="1.7"/>
<text x="137.3" y="419.32" font-size="5.6" text-anchor="start" fill="#1a1a1a" >40 nM</text>
<g fill="none" stroke-linejoin="round" stroke-linecap="round">
<path d="M200.0,425.0 200.5,422.6 201.1,420.3 201.6,418.0 202.2,415.9 202.7,413.8 203.3,411.9 203.8,410.0 204.3,408.2 204.9,406.4 205.4,404.7 206.0,403.1 206.5,401.6 207.1,400.1 207.6,398.7 208.1,397.3 208.7,396.0 209.2,394.8 209.8,393.6 210.3,392.4 210.9,391.3 211.4,390.3 211.9,389.2 212.5,388.3 213.0,387.3 213.6,386.4 214.1,385.5 214.7,384.7 215.2,383.9 215.7,383.2 216.3,382.4 216.8,381.7 217.4,381.0 217.9,380.4 218.5,379.8 219.0,379.2 219.6,378.6 220.1,378.0 220.6,377.5 221.2,377.0 221.7,376.5 222.3,376.1 222.8,375.6 223.4,375.2 223.9,374.8 224.4,374.4 225.0,374.0 225.5,373.6 226.1,373.3 226.6,372.9 227.2,372.6 227.7,372.3 228.2,372.0 228.8,371.7 229.3,371.5 229.9,371.2 230.4,370.9 231.0,370.7 231.5,370.5 232.0,370.2 232.6,370.0 233.1,369.8 233.7,369.6 234.2,369.4 234.8,369.3 235.3,369.1 235.8,368.9 236.4,368.8 236.9,368.6 237.5,368.5 238.0,368.3 238.6,368.3 239.1,368.3 239.6,368.3 240.2,368.3 240.7,368.3 241.3,368.3 241.8,368.3 242.4,368.3 242.9,368.3 243.4,368.3 244.0,368.3 244.5,368.3 245.1,368.3 245.6,368.3 246.2,368.3 246.7,368.3 247.2,368.3 247.8,368.3 248.3,368.3 248.9,368.3 249.4,368.3 250.0,368.3 250.5,368.3 251.1,368.3 251.6,368.3 252.1,368.3 252.7,368.3 253.2,368.3 253.8,368.3 254.3,368.3 254.9,368.3 255.4,368.3 255.9,368.3 256.5,368.3 257.0,368.3 257.6,368.3 258.1,368.3 258.7,368.3 259.2,368.3 259.7,368.3 260.3,368.3 260.8,368.3 261.4,368.3 261.9,368.3 262.5,368.3 263.0,368.3 263.5,368.3 264.1,368.3 264.6,368.3 265.2,368.3 265.7,368.3 266.3,368.3 266.8,368.3 267.3,368.3 267.9,368.3 268.4,368.3 269.0,368.3 269.5,368.3 270.1,368.3 270.6,368.3 271.1,368.3 271.7,368.3 272.2,368.3 272.8,368.3 273.3,368.3 273.9,368.3 274.4,368.3 274.9,368.3 275.5,368.3 276.0,368.3" stroke="#e3dc1c" stroke-width="1.5"/>
<path d="M200.0,425.0 200.5,424.0 201.1,423.0 201.6,422.1 202.2,421.2 202.7,420.3 203.3,419.4 203.8,418.5 204.3,417.7 204.9,416.9 205.4,416.0 206.0,415.3 206.5,414.5 207.1,413.7 207.6,413.0 208.1,412.2 208.7,411.5 209.2,410.8 209.8,410.2 210.3,409.5 210.9,408.8 211.4,408.2 211.9,407.6 212.5,407.0 213.0,406.4 213.6,405.8 214.1,405.2 214.7,404.7 215.2,404.1 215.7,403.6 216.3,403.0 216.8,402.5 217.4,402.0 217.9,401.5 218.5,401.1 219.0,400.6 219.6,400.1 220.1,399.7 220.6,399.2 221.2,398.8 221.7,398.4 222.3,398.0 222.8,397.6 223.4,397.2 223.9,396.8 224.4,396.4 225.0,396.0 225.5,395.7 226.1,395.3 226.6,395.0 227.2,394.6 227.7,394.3 228.2,394.0 228.8,393.7 229.3,393.4 229.9,393.0 230.4,392.8 231.0,392.5 231.5,392.2 232.0,391.9 232.6,391.6 233.1,391.4 233.7,391.1 234.2,390.8 234.8,390.6 235.3,390.3 235.8,390.1 236.4,389.9 236.9,389.6 237.5,389.4 238.0,389.2 238.6,389.2 239.1,389.2 239.6,389.2 240.2,389.2 240.7,389.2 241.3,389.2 241.8,389.2 242.4,389.2 242.9,389.2 243.4,389.2 244.0,389.2 244.5,389.2 245.1,389.2 245.6,389.2 246.2,389.2 246.7,389.2 247.2,389.2 247.8,389.2 248.3,389.2 248.9,389.2 249.4,389.2 250.0,389.2 250.5,389.2 251.1,389.2 251.6,389.2 252.1,389.2 252.7,389.2 253.2,389.2 253.8,389.2 254.3,389.2 254.9,389.2 255.4,389.2 255.9,389.2 256.5,389.2 257.0,389.2 257.6,389.2 258.1,389.2 258.7,389.2 259.2,389.2 259.7,389.2 260.3,389.2 260.8,389.2 261.4,389.2 261.9,389.2 262.5,389.2 263.0,389.2 263.5,389.2 264.1,389.2 264.6,389.2 265.2,389.2 265.7,389.2 266.3,389.2 266.8,389.2 267.3,389.2 267.9,389.2 268.4,389.2 269.0,389.2 269.5,389.2 270.1,389.2 270.6,389.2 271.1,389.2 271.7,389.2 272.2,389.2 272.8,389.2 273.3,389.2 273.9,389.2 274.4,389.2 274.9,389.2 275.5,389.2 276.0,389.2" stroke="#ec5a64" stroke-width="1.5"/>
<path d="M200.0,425.0 200.5,424.5 201.1,423.9 201.6,423.4 202.2,422.9 202.7,422.4 203.3,421.9 203.8,421.4 204.3,420.9 204.9,420.4 205.4,419.9 206.0,419.4 206.5,419.0 207.1,418.5 207.6,418.0 208.1,417.6 208.7,417.1 209.2,416.7 209.8,416.3 210.3,415.8 210.9,415.4 211.4,415.0 211.9,414.6 212.5,414.2 213.0,413.8 213.6,413.4 214.1,413.0 214.7,412.6 215.2,412.2 215.7,411.9 216.3,411.5 216.8,411.1 217.4,410.8 217.9,410.4 218.5,410.0 219.0,409.7 219.6,409.3 220.1,409.0 220.6,408.7 221.2,408.3 221.7,408.0 222.3,407.7 222.8,407.4 223.4,407.1 223.9,406.7 224.4,406.4 225.0,406.1 225.5,405.8 226.1,405.5 226.6,405.3 227.2,405.0 227.7,404.7 228.2,404.4 228.8,404.1 229.3,403.8 229.9,403.6 230.4,403.3 231.0,403.0 231.5,402.8 232.0,402.5 232.6,402.3 233.1,402.0 233.7,401.8 234.2,401.5 234.8,401.2 235.3,400.9 235.8,400.6 236.4,400.3 236.9,400.0 237.5,399.7 238.0,399.4 238.6,399.9 239.1,399.9 239.6,399.9 240.2,399.9 240.7,399.9 241.3,399.9 241.8,399.9 242.4,399.9 242.9,399.9 243.4,399.9 244.0,399.9 244.5,399.9 245.1,399.9 245.6,399.9 246.2,399.9 246.7,399.9 247.2,399.9 247.8,399.9 248.3,399.9 248.9,399.9 249.4,399.9 250.0,399.9 250.5,399.9 251.1,399.9 251.6,399.9 252.1,399.9 252.7,399.9 253.2,399.9 253.8,399.9 254.3,399.9 254.9,399.9 255.4,399.9 255.9,399.9 256.5,399.9 257.0,399.9 257.6,399.9 258.1,399.9 258.7,399.9 259.2,399.9 259.7,399.9 260.3,399.9 260.8,399.9 261.4,399.9 261.9,399.9 262.5,399.9 263.0,399.9 263.5,399.9 264.1,399.9 264.6,399.9 265.2,399.9 265.7,399.9 266.3,399.9 266.8,399.9 267.3,399.9 267.9,399.9 268.4,399.9 269.0,399.9 269.5,399.9 270.1,399.9 270.6,399.9 271.1,399.9 271.7,399.9 272.2,399.9 272.8,399.9 273.3,399.9 273.9,399.9 274.4,399.9 274.9,399.9 275.5,399.9 276.0,399.9" stroke="#3a5ae6" stroke-width="1.5"/>
<path d="M200.0,425.0 200.5,424.8 201.1,424.7 201.6,424.5 202.2,424.3 202.7,424.2 203.3,424.0 203.8,423.8 204.3,423.7 204.9,423.5 205.4,423.3 206.0,423.2 206.5,423.0 207.1,422.9 207.6,422.7 208.1,422.5 208.7,422.4 209.2,422.2 209.8,422.0 210.3,421.9 210.9,421.7 211.4,421.6 211.9,421.4 212.5,421.2 213.0,421.1 213.6,420.9 214.1,420.7 214.7,420.6 215.2,420.4 215.7,420.3 216.3,420.1 216.8,420.0 217.4,419.8 217.9,419.6 218.5,419.5 219.0,419.3 219.6,419.2 220.1,419.0 220.6,418.8 221.2,418.7 221.7,418.5 222.3,418.4 222.8,418.2 223.4,418.1 223.9,417.9 224.4,417.7 225.0,417.6 225.5,417.4 226.1,417.3 226.6,417.1 227.2,417.0 227.7,416.8 228.2,416.7 228.8,416.5 229.3,416.4 229.9,416.2 230.4,416.1 231.0,415.9 231.5,415.7 232.0,415.6 232.6,415.4 233.1,415.3 233.7,415.1 234.2,415.0 234.8,414.8 235.3,414.7 235.8,414.5 236.4,414.4 236.9,414.2 237.5,414.1 238.0,413.9 238.6,413.9 239.1,413.9 239.6,413.9 240.2,413.9 240.7,413.9 241.3,413.9 241.8,413.9 242.4,413.9 242.9,413.9 243.4,413.9 244.0,413.9 244.5,413.9 245.1,413.9 245.6,413.9 246.2,413.9 246.7,413.9 247.2,413.9 247.8,413.9 248.3,413.9 248.9,413.9 249.4,413.9 250.0,413.9 250.5,413.9 251.1,413.9 251.6,413.9 252.1,413.9 252.7,413.9 253.2,413.9 253.8,413.9 254.3,413.9 254.9,413.9 255.4,413.9 255.9,413.9 256.5,413.9 257.0,413.9 257.6,413.9 258.1,413.9 258.7,413.9 259.2,413.9 259.7,413.9 260.3,413.9 260.8,413.9 261.4,413.9 261.9,413.9 262.5,413.9 263.0,413.9 263.5,413.9 264.1,413.9 264.6,413.9 265.2,413.9 265.7,413.9 266.3,413.9 266.8,413.9 267.3,413.9 267.9,413.9 268.4,413.9 269.0,413.9 269.5,413.9 270.1,413.9 270.6,413.9 271.1,413.9 271.7,413.9 272.2,413.9 272.8,413.9 273.3,413.9 273.9,413.9 274.4,413.9 274.9,413.9 275.5,413.9 276.0,413.9" stroke="#f2822a" stroke-width="1.5"/>
<path d="M200.0,425.0 201.1,420.3 202.2,415.9 203.3,411.9 204.3,408.2 205.4,404.7 206.5,401.6 207.6,398.7 208.7,396.0 209.8,393.6 210.9,391.3 211.9,389.2 213.0,387.3 214.1,385.5 215.2,383.9 216.3,382.4 217.4,381.0 218.5,379.8 219.6,378.6 220.6,377.5 221.7,376.5 222.8,375.6 223.9,374.8 225.0,374.0 226.1,373.3 227.2,372.6 228.2,372.0 229.3,371.5 230.4,370.9 231.5,370.5 232.6,370.0 233.7,369.6 234.8,369.3 235.8,368.9 236.9,368.6 238.0,368.3 239.1,368.3 240.2,368.3 241.3,368.3 242.4,368.3 243.4,368.3 244.5,368.3 245.6,368.3 246.7,368.3 247.8,368.3 248.9,368.3 250.0,368.3 251.1,368.3 252.1,368.3 253.2,368.3 254.3,368.3 255.4,368.3 256.5,368.3 257.6,368.3 258.7,368.3 259.7,368.3 260.8,368.3 261.9,368.3 263.0,368.3 264.1,368.3 265.2,368.3 266.3,368.3 267.3,368.3 268.4,368.3 269.5,368.3 270.6,368.3 271.7,368.3 272.8,368.3 273.9,368.3 274.9,368.3 276.0,368.3" stroke="#3a3a3a" stroke-width="0.75" stroke-opacity="0.9"/>
<path d="M200.0,425.0 201.1,423.0 202.2,421.2 203.3,419.4 204.3,417.7 205.4,416.0 206.5,414.5 207.6,413.0 208.7,411.5 209.8,410.2 210.9,408.8 211.9,407.6 213.0,406.4 214.1,405.2 215.2,404.1 216.3,403.0 217.4,402.0 218.5,401.1 219.6,400.1 220.6,399.2 221.7,398.4 222.8,397.6 223.9,396.8 225.0,396.0 226.1,395.3 227.2,394.6 228.2,394.0 229.3,393.4 230.4,392.8 231.5,392.2 232.6,391.6 233.7,391.1 234.8,390.6 235.8,390.1 236.9,389.6 238.0,389.2 239.1,389.2 240.2,389.2 241.3,389.2 242.4,389.2 243.4,389.2 244.5,389.2 245.6,389.2 246.7,389.2 247.8,389.2 248.9,389.2 250.0,389.2 251.1,389.2 252.1,389.2 253.2,389.2 254.3,389.2 255.4,389.2 256.5,389.2 257.6,389.2 258.7,389.2 259.7,389.2 260.8,389.2 261.9,389.2 263.0,389.2 264.1,389.2 265.2,389.2 266.3,389.2 267.3,389.2 268.4,389.2 269.5,389.2 270.6,389.2 271.7,389.2 272.8,389.2 273.9,389.2 274.9,389.2 276.0,389.2" stroke="#3a3a3a" stroke-width="0.75" stroke-opacity="0.9"/>
<path d="M200.0,425.0 201.1,423.9 202.2,422.9 203.3,421.9 204.3,420.9 205.4,419.9 206.5,419.0 207.6,418.0 208.7,417.1 209.8,416.3 210.9,415.4 211.9,414.6 213.0,413.8 214.1,413.0 215.2,412.2 216.3,411.5 217.4,410.8 218.5,410.0 219.6,409.3 220.6,408.7 221.7,408.0 222.8,407.4 223.9,406.7 225.0,406.1 226.1,405.5 227.2,405.0 228.2,404.4 229.3,403.8 230.4,403.3 231.5,402.8 232.6,402.3 233.7,401.8 234.8,401.3 235.8,400.8 236.9,400.4 238.0,399.9 239.1,399.9 240.2,399.9 241.3,399.9 242.4,399.9 243.4,399.9 244.5,399.9 245.6,399.9 246.7,399.9 247.8,399.9 248.9,399.9 250.0,399.9 251.1,399.9 252.1,399.9 253.2,399.9 254.3,399.9 255.4,399.9 256.5,399.9 257.6,399.9 258.7,399.9 259.7,399.9 260.8,399.9 261.9,399.9 263.0,399.9 264.1,399.9 265.2,399.9 266.3,399.9 267.3,399.9 268.4,399.9 269.5,399.9 270.6,399.9 271.7,399.9 272.8,399.9 273.9,399.9 274.9,399.9 276.0,399.9" stroke="#3a3a3a" stroke-width="0.75" stroke-opacity="0.9"/>
<path d="M200.0,425.0 201.1,424.7 202.2,424.3 203.3,424.0 204.3,423.7 205.4,423.3 206.5,423.0 207.6,422.7 208.7,422.4 209.8,422.0 210.9,421.7 211.9,421.4 213.0,421.1 214.1,420.7 215.2,420.4 216.3,420.1 217.4,419.8 218.5,419.5 219.6,419.2 220.6,418.8 221.7,418.5 222.8,418.2 223.9,417.9 225.0,417.6 226.1,417.3 227.2,417.0 228.2,416.7 229.3,416.4 230.4,416.1 231.5,415.7 232.6,415.4 233.7,415.1 234.8,414.8 235.8,414.5 236.9,414.2 238.0,413.9 239.1,413.9 240.2,413.9 241.3,413.9 242.4,413.9 243.4,413.9 244.5,413.9 245.6,413.9 246.7,413.9 247.8,413.9 248.9,413.9 250.0,413.9 251.1,413.9 252.1,413.9 253.2,413.9 254.3,413.9 255.4,413.9 256.5,413.9 257.6,413.9 258.7,413.9 259.7,413.9 260.8,413.9 261.9,413.9 263.0,413.9 264.1,413.9 265.2,413.9 266.3,413.9 267.3,413.9 268.4,413.9 269.5,413.9 270.6,413.9 271.7,413.9 272.8,413.9 273.9,413.9 274.9,413.9 276.0,413.9" stroke="#3a3a3a" stroke-width="0.75" stroke-opacity="0.9"/>
</g>
<path d="M200 361.5 V425 H279.2" stroke="#1e1e1e" stroke-width="1.1" fill="none"/>
<path d="M198 425 H200 M198 414.42 H200 M198 403.83 H200 M198 393.25 H200 M198 382.67 H200 M198 372.08 H200 M198 361.5 H200 M200 425 V427 M215.84 425 V427 M231.68 425 V427 M247.52 425 V427 M263.36 425 V427 M279.2 425 V427" stroke="#1e1e1e" stroke-width="0.9" fill="none"/>
<text x="196.8" y="427.45" font-size="6.8" text-anchor="end" fill="#1a1a1a" >0.0</text>
<text x="196.8" y="416.86" font-size="6.8" text-anchor="end" fill="#1a1a1a" >0.4</text>
<text x="196.8" y="406.28" font-size="6.8" text-anchor="end" fill="#1a1a1a" >0.8</text>
<text x="196.8" y="395.7" font-size="6.8" text-anchor="end" fill="#1a1a1a" >1.2</text>
<text x="196.8" y="385.11" font-size="6.8" text-anchor="end" fill="#1a1a1a" >1.6</text>
<text x="196.8" y="374.53" font-size="6.8" text-anchor="end" fill="#1a1a1a" >2.0</text>
<text x="196.8" y="363.95" font-size="6.8" text-anchor="end" fill="#1a1a1a" >2.4</text>
<text x="200" y="433.25" font-size="6.8" text-anchor="middle" fill="#1a1a1a" >0</text>
<text x="215.84" y="433.25" font-size="6.8" text-anchor="middle" fill="#1a1a1a" >100</text>
<text x="231.68" y="433.25" font-size="6.8" text-anchor="middle" fill="#1a1a1a" >200</text>
<text x="247.52" y="433.25" font-size="6.8" text-anchor="middle" fill="#1a1a1a" >300</text>
<text x="263.36" y="433.25" font-size="6.8" text-anchor="middle" fill="#1a1a1a" >400</text>
<text x="279.2" y="433.25" font-size="6.8" text-anchor="middle" fill="#1a1a1a" >500</text>
<text x="239.6" y="443.58" font-size="6.9" text-anchor="middle" fill="#1a1a1a" >Time (s)</text>
<text transform="translate(182.01 393.25) rotate(-90)" font-size="6.7" text-anchor="middle" fill="#1a1a1a">Binding (nm)</text>
<text x="240" y="355.4" font-size="6.8" text-anchor="middle" fill="#1a1a1a" >JM-2-17-Fc</text>
<text x="282.8" y="361.12" font-size="5.9" fill="#1a1a1a">K<tspan font-size="3.9" dy="1.4">D</tspan><tspan dy="-1.4">=&lt;1×10</tspan><tspan font-size="3.9" dy="-2.5">−12</tspan><tspan dy="2.5">M</tspan></text>
<text x="282.8" y="370.92" font-size="5.9" fill="#1a1a1a">ka=2.73×10<tspan font-size="3.9" dy="-2.5"> 4</tspan><tspan dy="2.5"> M</tspan><tspan font-size="3.9" dy="-2.5"> −1</tspan><tspan dy="2.5">s</tspan><tspan font-size="3.9" dy="-2.5">−1</tspan></text>
<text x="282.8" y="381.32" font-size="5.9" fill="#1a1a1a">kd=&lt;1×10<tspan font-size="3.9" dy="-2.5">−7</tspan><tspan dy="2.5"> s</tspan><tspan font-size="3.9" dy="-2.5"> −1</tspan></text>
<path d="M286.3 394.5 H299" stroke="#e2df38" stroke-width="1.7"/>
<text x="302.3" y="396.52" font-size="5.6" text-anchor="start" fill="#1a1a1a" >320&#160; nM</text>
<path d="M286.3 401.9 H299" stroke="#ef6f7a" stroke-width="1.7"/>
<text x="302.3" y="403.92" font-size="5.6" text-anchor="start" fill="#1a1a1a" >160 nM</text>
<path d="M286.3 409.4 H299" stroke="#5672ee" stroke-width="1.7"/>
<text x="302.3" y="411.42" font-size="5.6" text-anchor="start" fill="#1a1a1a" >80 nM</text>
<path d="M286.3 417.1 H299" stroke="#f5924a" stroke-width="1.7"/>
<text x="302.3" y="419.12" font-size="5.6" text-anchor="start" fill="#1a1a1a" >40 nM</text>
<g fill="none" stroke-linejoin="round" stroke-linecap="round">
<path d="M358.9,424.3 359.4,421.8 360.0,419.4 360.5,417.1 361.1,414.9 361.6,412.8 362.2,410.7 362.7,408.8 363.3,406.9 363.8,405.2 364.3,403.5 364.9,401.8 365.4,400.3 366.0,398.8 366.5,397.4 367.1,396.0 367.6,394.7 368.1,393.4 368.7,392.2 369.2,391.1 369.8,390.0 370.3,388.9 370.9,387.9 371.4,387.0 372.0,386.0 372.5,385.2 373.0,384.3 373.6,383.5 374.1,382.7 374.7,382.0 375.2,381.3 375.8,380.6 376.3,379.9 376.8,379.3 377.4,378.7 377.9,378.1 378.5,377.6 379.0,377.1 379.6,376.6 380.1,376.1 380.7,375.6 381.2,375.2 381.7,374.8 382.3,374.4 382.8,374.0 383.4,373.6 383.9,373.3 384.5,372.9 385.0,372.6 385.5,372.3 386.1,372.0 386.6,371.7 387.2,371.4 387.7,371.2 388.3,370.9 388.8,370.7 389.4,370.4 389.9,370.2 390.4,370.0 391.0,369.8 391.5,369.6 392.1,369.4 392.6,369.3 393.2,369.1 393.7,368.8 394.2,368.6 394.8,368.3 395.3,368.1 395.9,367.9 396.4,367.7 397.0,367.5 397.5,368.1 398.1,368.1 398.6,368.1 399.1,368.2 399.7,368.2 400.2,368.2 400.8,368.2 401.3,368.2 401.9,368.3 402.4,368.3 402.9,368.3 403.5,368.3 404.0,368.3 404.6,368.4 405.1,368.4 405.7,368.4 406.2,368.4 406.8,368.4 407.3,368.5 407.8,368.5 408.4,368.5 408.9,368.5 409.5,368.5 410.0,368.6 410.6,368.6 411.1,368.6 411.6,368.6 412.2,368.6 412.7,368.6 413.3,368.7 413.8,368.7 414.4,368.7 414.9,368.7 415.5,368.7 416.0,368.8 416.5,368.8 417.1,368.8 417.6,368.8 418.2,368.8 418.7,368.9 419.3,368.9 419.8,368.9 420.3,368.9 420.9,368.9 421.4,369.0 422.0,369.0 422.5,369.0 423.1,369.0 423.6,369.0 424.2,369.0 424.7,369.1 425.2,369.1 425.8,369.1 426.3,369.1 426.9,369.1 427.4,369.2 428.0,369.2 428.5,369.2 429.0,369.2 429.6,369.2 430.1,369.3 430.7,369.3 431.2,369.3 431.8,369.3 432.3,369.3 432.9,369.3 433.4,369.4 433.9,369.4 434.5,369.4 435.0,369.4" stroke="#e3dc1c" stroke-width="1.5"/>
<path d="M358.9,424.3 359.4,423.2 360.0,422.1 360.5,421.1 361.1,420.1 361.6,419.1 362.2,418.1 362.7,417.2 363.3,416.3 363.8,415.4 364.3,414.5 364.9,413.7 365.4,412.9 366.0,412.1 366.5,411.3 367.1,410.6 367.6,409.8 368.1,409.1 368.7,408.4 369.2,407.7 369.8,407.1 370.3,406.4 370.9,405.8 371.4,405.2 372.0,404.6 372.5,404.0 373.0,403.5 373.6,402.9 374.1,402.4 374.7,401.9 375.2,401.4 375.8,400.9 376.3,400.4 376.8,399.9 377.4,399.5 377.9,399.1 378.5,398.6 379.0,398.2 379.6,397.8 380.1,397.4 380.7,397.0 381.2,396.7 381.7,396.3 382.3,395.9 382.8,395.6 383.4,395.3 383.9,394.9 384.5,394.6 385.0,394.3 385.5,394.0 386.1,393.7 386.6,393.4 387.2,393.1 387.7,392.9 388.3,392.6 388.8,392.3 389.4,392.1 389.9,391.9 390.4,391.6 391.0,391.4 391.5,391.2 392.1,390.9 392.6,390.7 393.2,390.5 393.7,390.3 394.2,390.1 394.8,389.9 395.3,389.7 395.9,389.6 396.4,389.4 397.0,389.2 397.5,389.2 398.1,389.2 398.6,389.2 399.1,389.2 399.7,389.2 400.2,389.3 400.8,389.3 401.3,389.3 401.9,389.3 402.4,389.3 402.9,389.3 403.5,389.3 404.0,389.3 404.6,389.3 405.1,389.3 405.7,389.3 406.2,389.3 406.8,389.3 407.3,389.3 407.8,389.3 408.4,389.3 408.9,389.3 409.5,389.4 410.0,389.4 410.6,389.4 411.1,389.4 411.6,389.4 412.2,389.4 412.7,389.4 413.3,389.4 413.8,389.4 414.4,389.4 414.9,389.4 415.5,389.4 416.0,389.4 416.5,389.4 417.1,389.4 417.6,389.4 418.2,389.5 418.7,389.5 419.3,389.5 419.8,389.5 420.3,389.5 420.9,389.5 421.4,389.5 422.0,389.5 422.5,389.5 423.1,389.5 423.6,389.5 424.2,389.5 424.7,389.5 425.2,389.5 425.8,389.5 426.3,389.5 426.9,389.5 427.4,389.6 428.0,389.6 428.5,389.6 429.0,389.6 429.6,389.6 430.1,389.6 430.7,389.6 431.2,389.6 431.8,389.6 432.3,389.6 432.9,389.6 433.4,389.6 433.9,389.6 434.5,389.6 435.0,389.6" stroke="#ec5a64" stroke-width="1.5"/>
<path d="M358.9,424.3 359.4,423.9 360.0,423.5 360.5,423.1 361.1,422.7 361.6,422.3 362.2,422.0 362.7,421.6 363.3,421.2 363.8,420.9 364.3,420.5 364.9,420.1 365.4,419.8 366.0,419.5 366.5,419.1 367.1,418.8 367.6,418.5 368.1,418.1 368.7,417.8 369.2,417.5 369.8,417.2 370.3,416.9 370.9,416.6 371.4,416.3 372.0,416.0 372.5,415.7 373.0,415.4 373.6,415.1 374.1,414.9 374.7,414.6 375.2,414.3 375.8,414.1 376.3,413.8 376.8,413.5 377.4,413.3 377.9,413.0 378.5,412.8 379.0,412.5 379.6,412.3 380.1,412.1 380.7,411.8 381.2,411.6 381.7,411.4 382.3,411.2 382.8,410.9 383.4,410.7 383.9,410.5 384.5,410.3 385.0,410.1 385.5,409.9 386.1,409.7 386.6,409.5 387.2,409.3 387.7,409.1 388.3,408.9 388.8,408.7 389.4,408.5 389.9,408.3 390.4,408.1 391.0,408.0 391.5,407.8 392.1,407.6 392.6,407.4 393.2,407.2 393.7,407.0 394.2,406.7 394.8,406.5 395.3,406.2 395.9,406.0 396.4,405.8 397.0,405.5 397.5,406.2 398.1,406.2 398.6,406.2 399.1,406.2 399.7,406.2 400.2,406.2 400.8,406.2 401.3,406.2 401.9,406.2 402.4,406.2 402.9,406.2 403.5,406.2 404.0,406.2 404.6,406.2 405.1,406.2 405.7,406.3 406.2,406.3 406.8,406.3 407.3,406.3 407.8,406.3 408.4,406.3 408.9,406.3 409.5,406.3 410.0,406.3 410.6,406.3 411.1,406.3 411.6,406.3 412.2,406.3 412.7,406.3 413.3,406.3 413.8,406.3 414.4,406.4 414.9,406.4 415.5,406.4 416.0,406.4 416.5,406.4 417.1,406.4 417.6,406.4 418.2,406.4 418.7,406.4 419.3,406.4 419.8,406.4 420.3,406.4 420.9,406.4 421.4,406.4 422.0,406.4 422.5,406.4 423.1,406.4 423.6,406.5 424.2,406.5 424.7,406.5 425.2,406.5 425.8,406.5 426.3,406.5 426.9,406.5 427.4,406.5 428.0,406.5 428.5,406.5 429.0,406.5 429.6,406.5 430.1,406.5 430.7,406.5 431.2,406.5 431.8,406.5 432.3,406.6 432.9,406.6 433.4,406.6 433.9,406.6 434.5,406.6 435.0,406.6" stroke="#3a5ae6" stroke-width="1.5"/>
<path d="M358.9,424.3 359.4,424.1 360.0,424.0 360.5,423.8 361.1,423.7 361.6,423.5 362.2,423.3 362.7,423.2 363.3,423.0 363.8,422.9 364.3,422.7 364.9,422.6 365.4,422.4 366.0,422.3 366.5,422.1 367.1,422.0 367.6,421.8 368.1,421.7 368.7,421.5 369.2,421.4 369.8,421.2 370.3,421.1 370.9,420.9 371.4,420.8 372.0,420.7 372.5,420.5 373.0,420.4 373.6,420.2 374.1,420.1 374.7,420.0 375.2,419.8 375.8,419.7 376.3,419.6 376.8,419.4 377.4,419.3 377.9,419.2 378.5,419.0 379.0,418.9 379.6,418.8 380.1,418.7 380.7,418.5 381.2,418.4 381.7,418.3 382.3,418.2 382.8,418.0 383.4,417.9 383.9,417.8 384.5,417.7 385.0,417.5 385.5,417.4 386.1,417.3 386.6,417.2 387.2,417.1 387.7,417.0 388.3,416.8 388.8,416.7 389.4,416.6 389.9,416.5 390.4,416.4 391.0,416.3 391.5,416.2 392.1,416.0 392.6,415.9 393.2,415.8 393.7,415.6 394.2,415.5 394.8,415.3 395.3,415.1 395.9,415.0 396.4,414.8 397.0,414.7 397.5,415.1 398.1,415.1 398.6,415.1 399.1,415.1 399.7,415.1 400.2,415.1 400.8,415.1 401.3,415.1 401.9,415.1 402.4,415.1 402.9,415.1 403.5,415.2 404.0,415.2 404.6,415.2 405.1,415.2 405.7,415.2 406.2,415.2 406.8,415.2 407.3,415.2 407.8,415.2 408.4,415.2 408.9,415.2 409.5,415.2 410.0,415.2 410.6,415.2 411.1,415.2 411.6,415.2 412.2,415.3 412.7,415.3 413.3,415.3 413.8,415.3 414.4,415.3 414.9,415.3 415.5,415.3 416.0,415.3 416.5,415.3 417.1,415.3 417.6,415.3 418.2,415.3 418.7,415.3 419.3,415.3 419.8,415.3 420.3,415.3 420.9,415.3 421.4,415.4 422.0,415.4 422.5,415.4 423.1,415.4 423.6,415.4 424.2,415.4 424.7,415.4 425.2,415.4 425.8,415.4 426.3,415.4 426.9,415.4 427.4,415.4 428.0,415.4 428.5,415.4 429.0,415.4 429.6,415.4 430.1,415.5 430.7,415.5 431.2,415.5 431.8,415.5 432.3,415.5 432.9,415.5 433.4,415.5 433.9,415.5 434.5,415.5 435.0,415.5" stroke="#f2822a" stroke-width="1.5"/>
<path d="M358.9,424.3 360.0,419.4 361.1,414.9 362.2,410.7 363.3,406.9 364.3,403.5 365.4,400.3 366.5,397.4 367.6,394.7 368.7,392.2 369.8,390.0 370.9,387.9 372.0,386.0 373.0,384.3 374.1,382.7 375.2,381.3 376.3,379.9 377.4,378.7 378.5,377.6 379.6,376.6 380.7,375.6 381.7,374.8 382.8,374.0 383.9,373.3 385.0,372.6 386.1,372.0 387.2,371.4 388.3,370.9 389.4,370.4 390.4,370.0 391.5,369.6 392.6,369.3 393.7,368.9 394.8,368.6 395.9,368.3 397.0,368.1 398.1,368.1 399.1,368.2 400.2,368.2 401.3,368.2 402.4,368.3 403.5,368.3 404.6,368.4 405.7,368.4 406.8,368.4 407.8,368.5 408.9,368.5 410.0,368.6 411.1,368.6 412.2,368.6 413.3,368.7 414.4,368.7 415.5,368.7 416.5,368.8 417.6,368.8 418.7,368.9 419.8,368.9 420.9,368.9 422.0,369.0 423.1,369.0 424.2,369.0 425.2,369.1 426.3,369.1 427.4,369.2 428.5,369.2 429.6,369.2 430.7,369.3 431.8,369.3 432.9,369.3 433.9,369.4 435.0,369.4" stroke="#3a3a3a" stroke-width="0.75" stroke-opacity="0.9"/>
<path d="M358.9,424.3 360.0,422.1 361.1,420.1 362.2,418.1 363.3,416.3 364.3,414.5 365.4,412.9 366.5,411.3 367.6,409.8 368.7,408.4 369.8,407.1 370.9,405.8 372.0,404.6 373.0,403.5 374.1,402.4 375.2,401.4 376.3,400.4 377.4,399.5 378.5,398.6 379.6,397.8 380.7,397.0 381.7,396.3 382.8,395.6 383.9,394.9 385.0,394.3 386.1,393.7 387.2,393.1 388.3,392.6 389.4,392.1 390.4,391.6 391.5,391.2 392.6,390.7 393.7,390.3 394.8,389.9 395.9,389.6 397.0,389.2 398.1,389.2 399.1,389.2 400.2,389.3 401.3,389.3 402.4,389.3 403.5,389.3 404.6,389.3 405.7,389.3 406.8,389.3 407.8,389.3 408.9,389.3 410.0,389.4 411.1,389.4 412.2,389.4 413.3,389.4 414.4,389.4 415.5,389.4 416.5,389.4 417.6,389.4 418.7,389.5 419.8,389.5 420.9,389.5 422.0,389.5 423.1,389.5 424.2,389.5 425.2,389.5 426.3,389.5 427.4,389.6 428.5,389.6 429.6,389.6 430.7,389.6 431.8,389.6 432.9,389.6 433.9,389.6 435.0,389.6" stroke="#3a3a3a" stroke-width="0.75" stroke-opacity="0.9"/>
<path d="M358.9,424.3 360.0,423.5 361.1,422.7 362.2,422.0 363.3,421.2 364.3,420.5 365.4,419.8 366.5,419.1 367.6,418.5 368.7,417.8 369.8,417.2 370.9,416.6 372.0,416.0 373.0,415.4 374.1,414.9 375.2,414.3 376.3,413.8 377.4,413.3 378.5,412.8 379.6,412.3 380.7,411.8 381.7,411.4 382.8,410.9 383.9,410.5 385.0,410.1 386.1,409.7 387.2,409.3 388.3,408.9 389.4,408.5 390.4,408.1 391.5,407.8 392.6,407.4 393.7,407.1 394.8,406.8 395.9,406.5 397.0,406.2 398.1,406.2 399.1,406.2 400.2,406.2 401.3,406.2 402.4,406.2 403.5,406.2 404.6,406.2 405.7,406.3 406.8,406.3 407.8,406.3 408.9,406.3 410.0,406.3 411.1,406.3 412.2,406.3 413.3,406.3 414.4,406.4 415.5,406.4 416.5,406.4 417.6,406.4 418.7,406.4 419.8,406.4 420.9,406.4 422.0,406.4 423.1,406.4 424.2,406.5 425.2,406.5 426.3,406.5 427.4,406.5 428.5,406.5 429.6,406.5 430.7,406.5 431.8,406.5 432.9,406.6 433.9,406.6 435.0,406.6" stroke="#3a3a3a" stroke-width="0.75" stroke-opacity="0.9"/>
<path d="M358.9,424.3 360.0,424.0 361.1,423.7 362.2,423.3 363.3,423.0 364.3,422.7 365.4,422.4 366.5,422.1 367.6,421.8 368.7,421.5 369.8,421.2 370.9,420.9 372.0,420.7 373.0,420.4 374.1,420.1 375.2,419.8 376.3,419.6 377.4,419.3 378.5,419.0 379.6,418.8 380.7,418.5 381.7,418.3 382.8,418.0 383.9,417.8 385.0,417.5 386.1,417.3 387.2,417.1 388.3,416.8 389.4,416.6 390.4,416.4 391.5,416.2 392.6,415.9 393.7,415.7 394.8,415.5 395.9,415.3 397.0,415.1 398.1,415.1 399.1,415.1 400.2,415.1 401.3,415.1 402.4,415.1 403.5,415.2 404.6,415.2 405.7,415.2 406.8,415.2 407.8,415.2 408.9,415.2 410.0,415.2 411.1,415.2 412.2,415.3 413.3,415.3 414.4,415.3 415.5,415.3 416.5,415.3 417.6,415.3 418.7,415.3 419.8,415.3 420.9,415.3 422.0,415.4 423.1,415.4 424.2,415.4 425.2,415.4 426.3,415.4 427.4,415.4 428.5,415.4 429.6,415.4 430.7,415.5 431.8,415.5 432.9,415.5 433.9,415.5 435.0,415.5" stroke="#3a3a3a" stroke-width="0.75" stroke-opacity="0.9"/>
</g>
<path d="M358.9 361.3 V425.3 H438.2" stroke="#1e1e1e" stroke-width="1.1" fill="none"/>
<path d="M356.9 424.3 H358.9 M356.9 413.8 H358.9 M356.9 403.3 H358.9 M356.9 392.8 H358.9 M356.9 382.3 H358.9 M356.9 371.8 H358.9 M356.9 361.3 H358.9 M358.9 425.3 V427.3 M374.76 425.3 V427.3 M390.62 425.3 V427.3 M406.48 425.3 V427.3 M422.34 425.3 V427.3 M438.2 425.3 V427.3" stroke="#1e1e1e" stroke-width="0.9" fill="none"/>
<text x="355.7" y="426.75" font-size="6.8" text-anchor="end" fill="#1a1a1a" >0.0</text>
<text x="355.7" y="416.25" font-size="6.8" text-anchor="end" fill="#1a1a1a" >0.5</text>
<text x="355.7" y="405.75" font-size="6.8" text-anchor="end" fill="#1a1a1a" >1.0</text>
<text x="355.7" y="395.25" font-size="6.8" text-anchor="end" fill="#1a1a1a" >1.5</text>
<text x="355.7" y="384.75" font-size="6.8" text-anchor="end" fill="#1a1a1a" >2.0</text>
<text x="355.7" y="374.25" font-size="6.8" text-anchor="end" fill="#1a1a1a" >2.5</text>
<text x="355.7" y="363.75" font-size="6.8" text-anchor="end" fill="#1a1a1a" >3.0</text>
<text x="358.9" y="433.55" font-size="6.8" text-anchor="middle" fill="#1a1a1a" >0</text>
<text x="374.76" y="433.55" font-size="6.8" text-anchor="middle" fill="#1a1a1a" >100</text>
<text x="390.62" y="433.55" font-size="6.8" text-anchor="middle" fill="#1a1a1a" >200</text>
<text x="406.48" y="433.55" font-size="6.8" text-anchor="middle" fill="#1a1a1a" >300</text>
<text x="422.34" y="433.55" font-size="6.8" text-anchor="middle" fill="#1a1a1a" >400</text>
<text x="438.2" y="433.55" font-size="6.8" text-anchor="middle" fill="#1a1a1a" >500</text>
<text x="398.55" y="443.88" font-size="6.9" text-anchor="middle" fill="#1a1a1a" >Time (s)</text>
<text transform="translate(340.91 392.8) rotate(-90)" font-size="6.7" text-anchor="middle" fill="#1a1a1a">Binding (nm)</text>
<text x="397.7" y="355.9" font-size="6.8" text-anchor="middle" fill="#1a1a1a" >JM-2-18-Fc</text>
<text x="443" y="361.02" font-size="5.9" fill="#1a1a1a">K<tspan font-size="3.9" dy="1.4">D</tspan><tspan dy="-1.4">=&lt;1×10</tspan><tspan font-size="3.9" dy="-2.5">−12</tspan><tspan dy="2.5">M</tspan></text>
<text x="443" y="371.62" font-size="5.9" fill="#1a1a1a">ka=4.54×10<tspan font-size="3.9" dy="-2.5"> 4</tspan><tspan dy="2.5"> M</tspan><tspan font-size="3.9" dy="-2.5"> −1</tspan><tspan dy="2.5">s</tspan><tspan font-size="3.9" dy="-2.5">−1</tspan></text>
<text x="443" y="382.32" font-size="5.9" fill="#1a1a1a">kd=&lt;1×10<tspan font-size="3.9" dy="-2.5">−7</tspan><tspan dy="2.5"> s</tspan><tspan font-size="3.9" dy="-2.5"> −1</tspan></text>
<path d="M444.3 394.5 H457" stroke="#e2df38" stroke-width="1.7"/>
<text x="460.5" y="396.52" font-size="5.6" text-anchor="start" fill="#1a1a1a" >160&#160; nM</text>
<path d="M444.3 402 H457" stroke="#ef6f7a" stroke-width="1.7"/>
<text x="460.5" y="404.02" font-size="5.6" text-anchor="start" fill="#1a1a1a" >80 nM</text>
<path d="M444.3 409.4 H457" stroke="#5672ee" stroke-width="1.7"/>
<text x="460.5" y="411.42" font-size="5.6" text-anchor="start" fill="#1a1a1a" >40 nM</text>
<path d="M444.3 417 H457" stroke="#f5924a" stroke-width="1.7"/>
<text x="460.5" y="419.02" font-size="5.6" text-anchor="start" fill="#1a1a1a" >20 nM</text>
<g fill="none" stroke-linejoin="round" stroke-linecap="round">
<path d="M34.8,523.4 35.3,520.9 35.9,518.5 36.4,516.2 37.0,514.1 37.5,512.0 38.1,510.0 38.6,508.2 39.1,506.4 39.7,504.7 40.2,503.1 40.8,501.6 41.3,500.1 41.9,498.7 42.4,497.4 42.9,496.2 43.5,495.0 44.0,493.9 44.6,492.8 45.1,491.7 45.7,490.8 46.2,489.8 46.7,489.0 47.3,488.1 47.8,487.3 48.4,486.6 48.9,485.8 49.5,485.1 50.0,484.5 50.5,483.9 51.1,483.3 51.6,482.7 52.2,482.2 52.7,481.6 53.3,481.2 53.8,480.7 54.4,480.3 54.9,479.8 55.4,479.4 56.0,479.1 56.5,478.7 57.1,478.4 57.6,478.0 58.2,477.7 58.7,477.4 59.2,477.1 59.8,476.9 60.3,476.6 60.9,476.4 61.4,476.1 62.0,475.9 62.5,475.7 63.0,475.5 63.6,475.3 64.1,475.1 64.7,475.0 65.2,474.8 65.8,474.7 66.3,474.5 66.8,474.4 67.4,474.2 67.9,474.1 68.5,474.0 69.0,473.8 69.6,473.3 70.1,472.9 70.6,472.4 71.2,472.0 71.7,471.6 72.3,471.1 72.8,470.7 73.4,475.1 73.9,474.8 74.4,474.5 75.0,474.3 75.5,474.1 76.1,474.0 76.6,473.8 77.2,473.7 77.7,473.6 78.2,473.5 78.8,473.4 79.3,473.4 79.9,473.3 80.4,473.3 81.0,473.2 81.5,473.2 82.0,473.1 82.6,473.1 83.1,473.1 83.7,473.1 84.2,473.0 84.8,473.0 85.3,473.0 85.9,473.0 86.4,473.0 86.9,473.0 87.5,473.0 88.0,472.9 88.6,472.9 89.1,472.9 89.7,472.9 90.2,472.9 90.7,472.9 91.3,472.9 91.8,472.9 92.4,472.9 92.9,472.9 93.5,472.9 94.0,472.9 94.5,472.9 95.1,472.9 95.6,472.9 96.2,472.9 96.7,472.9 97.3,472.9 97.8,472.9 98.3,472.9 98.9,472.9 99.4,472.9 100.0,472.9 100.5,472.9 101.1,472.9 101.6,472.9 102.1,472.9 102.7,472.9 103.2,472.9 103.8,472.9 104.3,472.9 104.9,472.9 105.4,472.9 105.9,472.9 106.5,472.9 107.0,472.9 107.6,472.9 108.1,472.9 108.7,472.9 109.2,472.9 109.7,472.9 110.3,472.9 110.8,472.9" stroke="#e3dc1c" stroke-width="1.5"/>
<path d="M34.8,523.4 35.3,521.7 35.9,520.1 36.4,518.6 37.0,517.1 37.5,515.7 38.1,514.4 38.6,513.1 39.1,511.9 39.7,510.7 40.2,509.6 40.8,508.5 41.3,507.5 41.9,506.5 42.4,505.6 42.9,504.7 43.5,503.8 44.0,503.0 44.6,502.2 45.1,501.5 45.7,500.8 46.2,500.1 46.7,499.4 47.3,498.8 47.8,498.2 48.4,497.6 48.9,497.1 49.5,496.5 50.0,496.0 50.5,495.6 51.1,495.1 51.6,494.7 52.2,494.2 52.7,493.8 53.3,493.5 53.8,493.1 54.4,492.7 54.9,492.4 55.4,492.1 56.0,491.8 56.5,491.5 57.1,491.2 57.6,490.9 58.2,490.7 58.7,490.4 59.2,490.2 59.8,490.0 60.3,489.7 60.9,489.5 61.4,489.3 62.0,489.2 62.5,489.0 63.0,488.8 63.6,488.6 64.1,488.5 64.7,488.3 65.2,488.2 65.8,488.0 66.3,487.9 66.8,487.8 67.4,487.7 67.9,487.6 68.5,487.4 69.0,487.3 69.6,487.0 70.1,486.7 70.6,486.3 71.2,486.0 71.7,485.7 72.3,485.4 72.8,485.2 73.4,489.6 73.9,489.4 74.4,489.1 75.0,488.9 75.5,488.8 76.1,488.6 76.6,488.4 77.2,488.3 77.7,488.1 78.2,488.0 78.8,487.9 79.3,487.7 79.9,487.6 80.4,487.5 81.0,487.4 81.5,487.3 82.0,487.3 82.6,487.2 83.1,487.1 83.7,487.0 84.2,487.0 84.8,486.9 85.3,486.9 85.9,486.8 86.4,486.8 86.9,486.7 87.5,486.7 88.0,486.6 88.6,486.6 89.1,486.6 89.7,486.5 90.2,486.5 90.7,486.5 91.3,486.5 91.8,486.4 92.4,486.4 92.9,486.4 93.5,486.4 94.0,486.4 94.5,486.3 95.1,486.3 95.6,486.3 96.2,486.3 96.7,486.3 97.3,486.3 97.8,486.3 98.3,486.2 98.9,486.2 99.4,486.2 100.0,486.2 100.5,486.2 101.1,486.2 101.6,486.2 102.1,486.2 102.7,486.2 103.2,486.2 103.8,486.2 104.3,486.2 104.9,486.2 105.4,486.2 105.9,486.2 106.5,486.1 107.0,486.1 107.6,486.1 108.1,486.1 108.7,486.1 109.2,486.1 109.7,486.1 110.3,486.1 110.8,486.1" stroke="#ec5a64" stroke-width="1.5"/>
<path d="M34.8,523.4 35.3,522.4 35.9,521.5 36.4,520.5 37.0,519.7 37.5,518.8 38.1,518.0 38.6,517.2 39.1,516.5 39.7,515.8 40.2,515.1 40.8,514.4 41.3,513.8 41.9,513.1 42.4,512.5 42.9,512.0 43.5,511.4 44.0,510.9 44.6,510.4 45.1,509.9 45.7,509.4 46.2,509.0 46.7,508.6 47.3,508.1 47.8,507.7 48.4,507.4 48.9,507.0 49.5,506.6 50.0,506.3 50.5,506.0 51.1,505.7 51.6,505.4 52.2,505.1 52.7,504.8 53.3,504.5 53.8,504.3 54.4,504.0 54.9,503.8 55.4,503.5 56.0,503.3 56.5,503.1 57.1,502.9 57.6,502.7 58.2,502.5 58.7,502.3 59.2,502.2 59.8,502.0 60.3,501.8 60.9,501.7 61.4,501.5 62.0,501.4 62.5,501.2 63.0,501.1 63.6,501.0 64.1,500.9 64.7,500.7 65.2,500.6 65.8,500.5 66.3,500.4 66.8,500.3 67.4,500.2 67.9,500.1 68.5,500.0 69.0,499.9 69.6,499.6 70.1,499.4 70.6,499.1 71.2,498.9 71.7,498.7 72.3,498.4 72.8,498.2 73.4,502.5 73.9,502.1 74.4,501.8 75.0,501.6 75.5,501.3 76.1,501.1 76.6,500.9 77.2,500.7 77.7,500.5 78.2,500.3 78.8,500.2 79.3,500.1 79.9,499.9 80.4,499.8 81.0,499.7 81.5,499.7 82.0,499.6 82.6,499.5 83.1,499.4 83.7,499.4 84.2,499.3 84.8,499.3 85.3,499.2 85.9,499.2 86.4,499.2 86.9,499.1 87.5,499.1 88.0,499.1 88.6,499.0 89.1,499.0 89.7,499.0 90.2,499.0 90.7,499.0 91.3,499.0 91.8,498.9 92.4,498.9 92.9,498.9 93.5,498.9 94.0,498.9 94.5,498.9 95.1,498.9 95.6,498.9 96.2,498.9 96.7,498.9 97.3,498.9 97.8,498.9 98.3,498.9 98.9,498.8 99.4,498.8 100.0,498.8 100.5,498.8 101.1,498.8 101.6,498.8 102.1,498.8 102.7,498.8 103.2,498.8 103.8,498.8 104.3,498.8 104.9,498.8 105.4,498.8 105.9,498.8 106.5,498.8 107.0,498.8 107.6,498.8 108.1,498.8 108.7,498.8 109.2,498.8 109.7,498.8 110.3,498.8 110.8,498.8" stroke="#3a5ae6" stroke-width="1.5"/>
<path d="M34.8,527.1 35.3,526.3 35.9,525.6 36.4,524.9 37.0,524.2 37.5,523.5 38.1,522.9 38.6,522.3 39.1,521.7 39.7,521.2 40.2,520.7 40.8,520.2 41.3,519.7 41.9,519.2 42.4,518.8 42.9,518.4 43.5,518.0 44.0,517.7 44.6,517.3 45.1,517.0 45.7,516.7 46.2,516.3 46.7,516.1 47.3,515.8 47.8,515.5 48.4,515.3 48.9,515.0 49.5,514.8 50.0,514.6 50.5,514.3 51.1,514.1 51.6,514.0 52.2,513.8 52.7,513.6 53.3,513.4 53.8,513.3 54.4,513.1 54.9,513.0 55.4,512.8 56.0,512.7 56.5,512.6 57.1,512.4 57.6,512.3 58.2,512.2 58.7,512.1 59.2,512.0 59.8,511.9 60.3,511.8 60.9,511.7 61.4,511.6 62.0,511.5 62.5,511.5 63.0,511.4 63.6,511.3 64.1,511.3 64.7,511.2 65.2,511.1 65.8,511.1 66.3,511.0 66.8,510.9 67.4,510.9 67.9,510.8 68.5,510.8 69.0,510.6 69.6,510.2 70.1,509.7 70.6,509.2 71.2,508.7 71.7,508.3 72.3,507.8 72.8,507.4 73.4,513.8 73.9,513.7 74.4,513.5 75.0,513.3 75.5,513.1 76.1,513.0 76.6,512.9 77.2,512.7 77.7,512.6 78.2,512.5 78.8,512.3 79.3,512.2 79.9,512.1 80.4,512.0 81.0,511.9 81.5,511.8 82.0,511.7 82.6,511.7 83.1,511.6 83.7,511.5 84.2,511.4 84.8,511.4 85.3,511.3 85.9,511.2 86.4,511.2 86.9,511.1 87.5,511.1 88.0,511.0 88.6,511.0 89.1,510.9 89.7,510.9 90.2,510.8 90.7,510.8 91.3,510.7 91.8,510.7 92.4,510.7 92.9,510.6 93.5,510.6 94.0,510.6 94.5,510.5 95.1,510.5 95.6,510.5 96.2,510.5 96.7,510.4 97.3,510.4 97.8,510.4 98.3,510.4 98.9,510.4 99.4,510.3 100.0,510.3 100.5,510.3 101.1,510.3 101.6,510.3 102.1,510.3 102.7,510.2 103.2,510.2 103.8,510.2 104.3,510.2 104.9,510.2 105.4,510.2 105.9,510.2 106.5,510.2 107.0,510.2 107.6,510.2 108.1,510.1 108.7,510.1 109.2,510.1 109.7,510.1 110.3,510.1 110.8,510.1" stroke="#f2822a" stroke-width="1.5"/>
<path d="M34.8,523.4 35.9,518.5 37.0,514.1 38.1,510.0 39.1,506.4 40.2,503.1 41.3,500.1 42.4,497.4 43.5,495.0 44.6,492.8 45.7,490.8 46.7,489.0 47.8,487.3 48.9,485.8 50.0,484.5 51.1,483.3 52.2,482.2 53.3,481.2 54.4,480.3 55.4,479.4 56.5,478.7 57.6,478.0 58.7,477.4 59.8,476.9 60.9,476.4 62.0,475.9 63.0,475.5 64.1,475.1 65.2,474.8 66.3,474.5 67.4,474.2 68.5,474.0 69.6,473.8 70.6,473.6 71.7,473.4 72.8,473.2 73.9,473.2 75.0,473.2 76.1,473.2 77.2,473.2 78.2,473.2 79.3,473.2 80.4,473.2 81.5,473.2 82.6,473.2 83.7,473.2 84.8,473.2 85.9,473.2 86.9,473.2 88.0,473.2 89.1,473.2 90.2,473.2 91.3,473.2 92.4,473.2 93.5,473.2 94.5,473.2 95.6,473.2 96.7,473.2 97.8,473.2 98.9,473.2 100.0,473.2 101.1,473.2 102.1,473.2 103.2,473.2 104.3,473.2 105.4,473.2 106.5,473.2 107.6,473.2 108.7,473.2 109.7,473.2 110.8,473.2" stroke="#3a3a3a" stroke-width="0.75" stroke-opacity="0.9"/>
<path d="M34.8,523.4 35.9,520.1 37.0,517.1 38.1,514.4 39.1,511.9 40.2,509.6 41.3,507.5 42.4,505.6 43.5,503.8 44.6,502.2 45.7,500.8 46.7,499.4 47.8,498.2 48.9,497.1 50.0,496.0 51.1,495.1 52.2,494.2 53.3,493.5 54.4,492.7 55.4,492.1 56.5,491.5 57.6,490.9 58.7,490.4 59.8,490.0 60.9,489.5 62.0,489.2 63.0,488.8 64.1,488.5 65.2,488.2 66.3,487.9 67.4,487.7 68.5,487.4 69.6,487.2 70.6,487.0 71.7,486.9 72.8,486.7 73.9,486.7 75.0,486.7 76.1,486.7 77.2,486.7 78.2,486.7 79.3,486.7 80.4,486.7 81.5,486.7 82.6,486.7 83.7,486.7 84.8,486.7 85.9,486.7 86.9,486.7 88.0,486.7 89.1,486.7 90.2,486.7 91.3,486.7 92.4,486.7 93.5,486.7 94.5,486.7 95.6,486.7 96.7,486.7 97.8,486.7 98.9,486.7 100.0,486.7 101.1,486.7 102.1,486.7 103.2,486.7 104.3,486.7 105.4,486.7 106.5,486.7 107.6,486.7 108.7,486.7 109.7,486.7 110.8,486.7" stroke="#3a3a3a" stroke-width="0.75" stroke-opacity="0.9"/>
<path d="M34.8,523.4 35.9,521.5 37.0,519.7 38.1,518.0 39.1,516.5 40.2,515.1 41.3,513.8 42.4,512.5 43.5,511.4 44.6,510.4 45.7,509.4 46.7,508.6 47.8,507.7 48.9,507.0 50.0,506.3 51.1,505.7 52.2,505.1 53.3,504.5 54.4,504.0 55.4,503.5 56.5,503.1 57.6,502.7 58.7,502.3 59.8,502.0 60.9,501.7 62.0,501.4 63.0,501.1 64.1,500.9 65.2,500.6 66.3,500.4 67.4,500.2 68.5,500.0 69.6,499.9 70.6,499.7 71.7,499.6 72.8,499.4 73.9,499.4 75.0,499.4 76.1,499.4 77.2,499.4 78.2,499.4 79.3,499.4 80.4,499.4 81.5,499.4 82.6,499.4 83.7,499.4 84.8,499.4 85.9,499.4 86.9,499.4 88.0,499.4 89.1,499.4 90.2,499.4 91.3,499.4 92.4,499.4 93.5,499.4 94.5,499.4 95.6,499.4 96.7,499.4 97.8,499.4 98.9,499.4 100.0,499.4 101.1,499.4 102.1,499.4 103.2,499.4 104.3,499.4 105.4,499.4 106.5,499.4 107.6,499.4 108.7,499.4 109.7,499.4 110.8,499.4" stroke="#3a3a3a" stroke-width="0.75" stroke-opacity="0.9"/>
<path d="M34.8,523.4 35.9,522.3 37.0,521.3 38.1,520.4 39.1,519.5 40.2,518.8 41.3,518.1 42.4,517.4 43.5,516.8 44.6,516.2 45.7,515.7 46.7,515.2 47.8,514.8 48.9,514.4 50.0,514.0 51.1,513.7 52.2,513.4 53.3,513.1 54.4,512.8 55.4,512.5 56.5,512.3 57.6,512.1 58.7,511.9 59.8,511.7 60.9,511.6 62.0,511.4 63.0,511.3 64.1,511.2 65.2,511.0 66.3,510.9 67.4,510.8 68.5,510.7 69.6,510.7 70.6,510.6 71.7,510.5 72.8,510.4 73.9,510.4 75.0,510.4 76.1,510.4 77.2,510.4 78.2,510.4 79.3,510.4 80.4,510.4 81.5,510.4 82.6,510.4 83.7,510.4 84.8,510.4 85.9,510.4 86.9,510.4 88.0,510.4 89.1,510.4 90.2,510.4 91.3,510.4 92.4,510.4 93.5,510.4 94.5,510.4 95.6,510.4 96.7,510.4 97.8,510.4 98.9,510.4 100.0,510.4 101.1,510.4 102.1,510.4 103.2,510.4 104.3,510.4 105.4,510.4 106.5,510.4 107.6,510.4 108.7,510.4 109.7,510.4 110.8,510.4" stroke="#3a3a3a" stroke-width="0.75" stroke-opacity="0.9"/>
</g>
<path d="M34.8 461 V524.9 H114" stroke="#1e1e1e" stroke-width="1.1" fill="none"/>
<path d="M32.8 523.4 H34.8 M32.8 507.8 H34.8 M32.8 492.2 H34.8 M32.8 476.6 H34.8 M32.8 461 H34.8 M34.8 524.9 V526.9 M50.64 524.9 V526.9 M66.48 524.9 V526.9 M82.32 524.9 V526.9 M98.16 524.9 V526.9 M114 524.9 V526.9" stroke="#1e1e1e" stroke-width="0.9" fill="none"/>
<text x="31.6" y="525.85" font-size="6.8" text-anchor="end" fill="#1a1a1a" >0.0</text>
<text x="31.6" y="510.25" font-size="6.8" text-anchor="end" fill="#1a1a1a" >0.5</text>
<text x="31.6" y="494.65" font-size="6.8" text-anchor="end" fill="#1a1a1a" >1.0</text>
<text x="31.6" y="479.05" font-size="6.8" text-anchor="end" fill="#1a1a1a" >1.5</text>
<text x="31.6" y="463.45" font-size="6.8" text-anchor="end" fill="#1a1a1a" >2.0</text>
<text x="34.8" y="533.15" font-size="6.8" text-anchor="middle" fill="#1a1a1a" >0</text>
<text x="50.64" y="533.15" font-size="6.8" text-anchor="middle" fill="#1a1a1a" >100</text>
<text x="66.48" y="533.15" font-size="6.8" text-anchor="middle" fill="#1a1a1a" >200</text>
<text x="82.32" y="533.15" font-size="6.8" text-anchor="middle" fill="#1a1a1a" >300</text>
<text x="98.16" y="533.15" font-size="6.8" text-anchor="middle" fill="#1a1a1a" >400</text>
<text x="114" y="533.15" font-size="6.8" text-anchor="middle" fill="#1a1a1a" >500</text>
<text x="74.4" y="543.48" font-size="6.9" text-anchor="middle" fill="#1a1a1a" >Time (s)</text>
<text transform="translate(16.81 492.2) rotate(-90)" font-size="6.7" text-anchor="middle" fill="#1a1a1a">Binding (nm)</text>
<text x="74.4" y="459.1" font-size="6.8" text-anchor="middle" fill="#1a1a1a" >JM-5-18-Fc</text>
<text x="118.4" y="459.72" font-size="5.9" fill="#1a1a1a">K<tspan font-size="3.9" dy="1.4">D</tspan><tspan dy="-1.4">=&lt;1×10</tspan><tspan font-size="3.9" dy="-2.5">−12</tspan><tspan dy="2.5">M</tspan></text>
<text x="118.4" y="470.12" font-size="5.9" fill="#1a1a1a">ka=4.67×10<tspan font-size="3.9" dy="-2.5"> 4</tspan><tspan dy="2.5"> M</tspan><tspan font-size="3.9" dy="-2.5"> −1</tspan><tspan dy="2.5">s</tspan><tspan font-size="3.9" dy="-2.5">−1</tspan></text>
<text x="118.4" y="480.22" font-size="5.9" fill="#1a1a1a">kd=&lt;1×10<tspan font-size="3.9" dy="-2.5">−7</tspan><tspan dy="2.5"> s</tspan><tspan font-size="3.9" dy="-2.5"> −1</tspan></text>
<path d="M121 493.8 H134.4" stroke="#e2df38" stroke-width="1.7"/>
<text x="137.5" y="495.82" font-size="5.6" text-anchor="start" fill="#1a1a1a" >320&#160;&#160; nM</text>
<path d="M121 501.1 H134.4" stroke="#ef6f7a" stroke-width="1.7"/>
<text x="137.5" y="503.12" font-size="5.6" text-anchor="start" fill="#1a1a1a" >160 nM</text>
<path d="M121 508.5 H134.4" stroke="#5672ee" stroke-width="1.7"/>
<text x="137.5" y="510.52" font-size="5.6" text-anchor="start" fill="#1a1a1a" >80 nM</text>
<path d="M121 516 H134.4" stroke="#f5924a" stroke-width="1.7"/>
<text x="137.5" y="518.02" font-size="5.6" text-anchor="start" fill="#1a1a1a" >40 nM</text>
<g fill="none" stroke-linejoin="round" stroke-linecap="round">
<path d="M199.3,523.8 199.8,521.5 200.4,519.4 200.9,517.3 201.5,515.3 202.0,513.4 202.6,511.6 203.1,509.8 203.6,508.1 204.2,506.5 204.7,504.9 205.3,503.4 205.8,502.0 206.4,500.6 206.9,499.3 207.4,498.0 208.0,496.8 208.5,495.6 209.1,494.5 209.6,493.4 210.2,492.4 210.7,491.4 211.2,490.4 211.8,489.5 212.3,488.6 212.9,487.8 213.4,487.0 214.0,486.2 214.5,485.5 215.0,484.7 215.6,484.0 216.1,483.4 216.7,482.8 217.2,482.1 217.8,481.6 218.3,481.0 218.9,480.5 219.4,479.9 219.9,479.4 220.5,479.0 221.0,478.5 221.6,478.1 222.1,477.6 222.7,477.2 223.2,476.8 223.7,476.5 224.3,476.1 224.8,475.8 225.4,475.4 225.9,475.1 226.5,474.8 227.0,474.5 227.5,474.2 228.1,474.0 228.6,473.7 229.2,473.5 229.7,473.2 230.3,473.0 230.8,472.8 231.3,472.6 231.9,472.4 232.4,472.2 233.0,472.0 233.5,471.8 234.1,471.6 234.6,471.3 235.1,471.1 235.7,470.9 236.2,470.7 236.8,470.5 237.3,470.3 237.9,470.8 238.4,470.8 238.9,470.8 239.5,470.8 240.0,470.9 240.6,470.9 241.1,470.9 241.7,470.9 242.2,471.0 242.7,471.0 243.3,471.0 243.8,471.0 244.4,471.1 244.9,471.1 245.5,471.1 246.0,471.1 246.5,471.2 247.1,471.2 247.6,471.2 248.2,471.2 248.7,471.3 249.3,471.3 249.8,471.3 250.4,471.3 250.9,471.4 251.4,471.4 252.0,471.4 252.5,471.4 253.1,471.5 253.6,471.5 254.2,471.5 254.7,471.5 255.2,471.6 255.8,471.6 256.3,471.6 256.9,471.6 257.4,471.7 258.0,471.7 258.5,471.7 259.0,471.7 259.6,471.8 260.1,471.8 260.7,471.8 261.2,471.8 261.8,471.9 262.3,471.9 262.8,471.9 263.4,471.9 263.9,472.0 264.5,472.0 265.0,472.0 265.6,472.0 266.1,472.1 266.6,472.1 267.2,472.1 267.7,472.1 268.3,472.2 268.8,472.2 269.4,472.2 269.9,472.2 270.4,472.3 271.0,472.3 271.5,472.3 272.1,472.3 272.6,472.4 273.2,472.4 273.7,472.4 274.2,472.4 274.8,472.5 275.3,472.5" stroke="#e3dc1c" stroke-width="1.5"/>
<path d="M199.3,523.8 199.8,522.7 200.4,521.7 200.9,520.7 201.5,519.7 202.0,518.7 202.6,517.8 203.1,516.8 203.6,515.9 204.2,515.1 204.7,514.2 205.3,513.4 205.8,512.6 206.4,511.8 206.9,511.0 207.4,510.2 208.0,509.5 208.5,508.8 209.1,508.1 209.6,507.4 210.2,506.7 210.7,506.1 211.2,505.4 211.8,504.8 212.3,504.2 212.9,503.6 213.4,503.0 214.0,502.5 214.5,501.9 215.0,501.4 215.6,500.9 216.1,500.4 216.7,499.9 217.2,499.4 217.8,498.9 218.3,498.4 218.9,498.0 219.4,497.6 219.9,497.1 220.5,496.7 221.0,496.3 221.6,495.9 222.1,495.5 222.7,495.1 223.2,494.8 223.7,494.4 224.3,494.1 224.8,493.7 225.4,493.4 225.9,493.1 226.5,492.7 227.0,492.4 227.5,492.1 228.1,491.8 228.6,491.5 229.2,491.3 229.7,491.0 230.3,490.7 230.8,490.5 231.3,490.2 231.9,490.0 232.4,489.7 233.0,489.5 233.5,489.2 234.1,489.0 234.6,488.8 235.1,488.6 235.7,488.4 236.2,488.2 236.8,488.0 237.3,487.8 237.9,487.8 238.4,487.8 238.9,487.8 239.5,487.8 240.0,487.8 240.6,487.8 241.1,487.8 241.7,487.8 242.2,487.8 242.7,487.8 243.3,487.9 243.8,487.9 244.4,487.9 244.9,487.9 245.5,487.9 246.0,487.9 246.5,487.9 247.1,487.9 247.6,487.9 248.2,487.9 248.7,487.9 249.3,487.9 249.8,487.9 250.4,487.9 250.9,487.9 251.4,487.9 252.0,488.0 252.5,488.0 253.1,488.0 253.6,488.0 254.2,488.0 254.7,488.0 255.2,488.0 255.8,488.0 256.3,488.0 256.9,488.0 257.4,488.0 258.0,488.0 258.5,488.0 259.0,488.0 259.6,488.0 260.1,488.0 260.7,488.0 261.2,488.1 261.8,488.1 262.3,488.1 262.8,488.1 263.4,488.1 263.9,488.1 264.5,488.1 265.0,488.1 265.6,488.1 266.1,488.1 266.6,488.1 267.2,488.1 267.7,488.1 268.3,488.1 268.8,488.1 269.4,488.1 269.9,488.2 270.4,488.2 271.0,488.2 271.5,488.2 272.1,488.2 272.6,488.2 273.2,488.2 273.7,488.2 274.2,488.2 274.8,488.2 275.3,488.2" stroke="#ec5a64" stroke-width="1.5"/>
<path d="M199.3,523.8 199.8,523.3 200.4,522.8 200.9,522.2 201.5,521.7 202.0,521.2 202.6,520.8 203.1,520.3 203.6,519.8 204.2,519.3 204.7,518.9 205.3,518.4 205.8,518.0 206.4,517.5 206.9,517.1 207.4,516.7 208.0,516.3 208.5,515.8 209.1,515.4 209.6,515.0 210.2,514.6 210.7,514.2 211.2,513.9 211.8,513.5 212.3,513.1 212.9,512.7 213.4,512.4 214.0,512.0 214.5,511.7 215.0,511.3 215.6,511.0 216.1,510.6 216.7,510.3 217.2,510.0 217.8,509.7 218.3,509.4 218.9,509.0 219.4,508.7 219.9,508.4 220.5,508.1 221.0,507.8 221.6,507.5 222.1,507.3 222.7,507.0 223.2,506.7 223.7,506.4 224.3,506.2 224.8,505.9 225.4,505.6 225.9,505.4 226.5,505.1 227.0,504.9 227.5,504.6 228.1,504.4 228.6,504.1 229.2,503.9 229.7,503.7 230.3,503.5 230.8,503.2 231.3,503.0 231.9,502.8 232.4,502.6 233.0,502.4 233.5,502.2 234.1,501.9 234.6,501.7 235.1,501.5 235.7,501.3 236.2,501.2 236.8,501.0 237.3,500.8 237.9,500.8 238.4,500.8 238.9,500.8 239.5,500.8 240.0,500.8 240.6,500.8 241.1,500.8 241.7,500.8 242.2,500.8 242.7,500.8 243.3,500.8 243.8,500.8 244.4,500.8 244.9,500.8 245.5,500.8 246.0,500.8 246.5,500.8 247.1,500.8 247.6,500.8 248.2,500.8 248.7,500.8 249.3,500.8 249.8,500.8 250.4,500.8 250.9,500.8 251.4,500.8 252.0,500.8 252.5,500.8 253.1,500.8 253.6,500.8 254.2,500.8 254.7,500.8 255.2,500.8 255.8,500.8 256.3,500.8 256.9,500.8 257.4,500.8 258.0,500.8 258.5,500.8 259.0,500.8 259.6,500.8 260.1,500.8 260.7,500.8 261.2,500.8 261.8,500.8 262.3,500.8 262.8,500.8 263.4,500.8 263.9,500.8 264.5,500.9 265.0,500.9 265.6,500.9 266.1,500.9 266.6,500.9 267.2,500.9 267.7,500.9 268.3,500.9 268.8,500.9 269.4,500.9 269.9,500.9 270.4,500.9 271.0,500.9 271.5,500.9 272.1,500.9 272.6,500.9 273.2,500.9 273.7,500.9 274.2,500.9 274.8,500.9 275.3,500.9" stroke="#3a5ae6" stroke-width="1.5"/>
<path d="M199.3,523.8 199.8,523.6 200.4,523.5 200.9,523.3 201.5,523.2 202.0,523.0 202.6,522.9 203.1,522.7 203.6,522.6 204.2,522.4 204.7,522.3 205.3,522.1 205.8,522.0 206.4,521.8 206.9,521.7 207.4,521.5 208.0,521.4 208.5,521.2 209.1,521.1 209.6,520.9 210.2,520.8 210.7,520.6 211.2,520.5 211.8,520.3 212.3,520.2 212.9,520.0 213.4,519.9 214.0,519.7 214.5,519.6 215.0,519.4 215.6,519.3 216.1,519.1 216.7,519.0 217.2,518.9 217.8,518.7 218.3,518.6 218.9,518.4 219.4,518.3 219.9,518.1 220.5,518.0 221.0,517.9 221.6,517.7 222.1,517.6 222.7,517.4 223.2,517.3 223.7,517.2 224.3,517.0 224.8,516.9 225.4,516.7 225.9,516.6 226.5,516.5 227.0,516.3 227.5,516.2 228.1,516.0 228.6,515.9 229.2,515.8 229.7,515.6 230.3,515.5 230.8,515.4 231.3,515.2 231.9,515.1 232.4,515.0 233.0,514.8 233.5,514.7 234.1,514.5 234.6,514.3 235.1,514.1 235.7,513.9 236.2,513.7 236.8,513.5 237.3,513.3 237.9,513.8 238.4,513.8 238.9,513.8 239.5,513.8 240.0,513.8 240.6,513.8 241.1,513.9 241.7,513.9 242.2,513.9 242.7,513.9 243.3,513.9 243.8,513.9 244.4,513.9 244.9,514.0 245.5,514.0 246.0,514.0 246.5,514.0 247.1,514.0 247.6,514.0 248.2,514.0 248.7,514.0 249.3,514.1 249.8,514.1 250.4,514.1 250.9,514.1 251.4,514.1 252.0,514.1 252.5,514.1 253.1,514.2 253.6,514.2 254.2,514.2 254.7,514.2 255.2,514.2 255.8,514.2 256.3,514.2 256.9,514.2 257.4,514.3 258.0,514.3 258.5,514.3 259.0,514.3 259.6,514.3 260.1,514.3 260.7,514.3 261.2,514.4 261.8,514.4 262.3,514.4 262.8,514.4 263.4,514.4 263.9,514.4 264.5,514.4 265.0,514.4 265.6,514.5 266.1,514.5 266.6,514.5 267.2,514.5 267.7,514.5 268.3,514.5 268.8,514.5 269.4,514.5 269.9,514.6 270.4,514.6 271.0,514.6 271.5,514.6 272.1,514.6 272.6,514.6 273.2,514.6 273.7,514.6 274.2,514.7 274.8,514.7 275.3,514.7" stroke="#f2822a" stroke-width="1.5"/>
<path d="M199.3,523.8 200.4,519.4 201.5,515.3 202.6,511.6 203.6,508.1 204.7,504.9 205.8,502.0 206.9,499.3 208.0,496.8 209.1,494.5 210.2,492.4 211.2,490.4 212.3,488.6 213.4,487.0 214.5,485.5 215.6,484.0 216.7,482.8 217.8,481.6 218.9,480.5 219.9,479.4 221.0,478.5 222.1,477.6 223.2,476.8 224.3,476.1 225.4,475.4 226.5,474.8 227.5,474.2 228.6,473.7 229.7,473.2 230.8,472.8 231.9,472.4 233.0,472.0 234.1,471.6 235.1,471.3 236.2,471.0 237.3,470.7 238.4,470.8 239.5,470.8 240.6,470.9 241.7,470.9 242.7,471.0 243.8,471.0 244.9,471.1 246.0,471.1 247.1,471.2 248.2,471.2 249.3,471.3 250.4,471.3 251.4,471.4 252.5,471.4 253.6,471.5 254.7,471.5 255.8,471.6 256.9,471.6 258.0,471.7 259.0,471.7 260.1,471.8 261.2,471.8 262.3,471.9 263.4,471.9 264.5,472.0 265.6,472.0 266.6,472.1 267.7,472.1 268.8,472.2 269.9,472.2 271.0,472.3 272.1,472.3 273.2,472.4 274.2,472.4 275.3,472.5" stroke="#3a3a3a" stroke-width="0.75" stroke-opacity="0.9"/>
<path d="M199.3,523.8 200.4,521.7 201.5,519.7 202.6,517.8 203.6,515.9 204.7,514.2 205.8,512.6 206.9,511.0 208.0,509.5 209.1,508.1 210.2,506.7 211.2,505.4 212.3,504.2 213.4,503.0 214.5,501.9 215.6,500.9 216.7,499.9 217.8,498.9 218.9,498.0 219.9,497.1 221.0,496.3 222.1,495.5 223.2,494.8 224.3,494.1 225.4,493.4 226.5,492.7 227.5,492.1 228.6,491.5 229.7,491.0 230.8,490.5 231.9,490.0 233.0,489.5 234.1,489.0 235.1,488.6 236.2,488.2 237.3,487.8 238.4,487.8 239.5,487.8 240.6,487.8 241.7,487.8 242.7,487.8 243.8,487.9 244.9,487.9 246.0,487.9 247.1,487.9 248.2,487.9 249.3,487.9 250.4,487.9 251.4,487.9 252.5,488.0 253.6,488.0 254.7,488.0 255.8,488.0 256.9,488.0 258.0,488.0 259.0,488.0 260.1,488.0 261.2,488.1 262.3,488.1 263.4,488.1 264.5,488.1 265.6,488.1 266.6,488.1 267.7,488.1 268.8,488.1 269.9,488.2 271.0,488.2 272.1,488.2 273.2,488.2 274.2,488.2 275.3,488.2" stroke="#3a3a3a" stroke-width="0.75" stroke-opacity="0.9"/>
<path d="M199.3,523.8 200.4,522.8 201.5,521.7 202.6,520.8 203.6,519.8 204.7,518.9 205.8,518.0 206.9,517.1 208.0,516.3 209.1,515.4 210.2,514.6 211.2,513.9 212.3,513.1 213.4,512.4 214.5,511.7 215.6,511.0 216.7,510.3 217.8,509.7 218.9,509.0 219.9,508.4 221.0,507.8 222.1,507.3 223.2,506.7 224.3,506.2 225.4,505.6 226.5,505.1 227.5,504.6 228.6,504.1 229.7,503.7 230.8,503.2 231.9,502.8 233.0,502.4 234.1,501.9 235.1,501.5 236.2,501.2 237.3,500.8 238.4,500.8 239.5,500.8 240.6,500.8 241.7,500.8 242.7,500.8 243.8,500.8 244.9,500.8 246.0,500.8 247.1,500.8 248.2,500.8 249.3,500.8 250.4,500.8 251.4,500.8 252.5,500.8 253.6,500.8 254.7,500.8 255.8,500.8 256.9,500.8 258.0,500.8 259.0,500.8 260.1,500.8 261.2,500.8 262.3,500.8 263.4,500.8 264.5,500.9 265.6,500.9 266.6,500.9 267.7,500.9 268.8,500.9 269.9,500.9 271.0,500.9 272.1,500.9 273.2,500.9 274.2,500.9 275.3,500.9" stroke="#3a3a3a" stroke-width="0.75" stroke-opacity="0.9"/>
<path d="M199.3,523.8 200.4,523.5 201.5,523.2 202.6,522.9 203.6,522.6 204.7,522.3 205.8,522.0 206.9,521.7 208.0,521.4 209.1,521.1 210.2,520.8 211.2,520.5 212.3,520.2 213.4,519.9 214.5,519.6 215.6,519.3 216.7,519.0 217.8,518.7 218.9,518.4 219.9,518.1 221.0,517.9 222.1,517.6 223.2,517.3 224.3,517.0 225.4,516.7 226.5,516.5 227.5,516.2 228.6,515.9 229.7,515.6 230.8,515.4 231.9,515.1 233.0,514.8 234.1,514.6 235.1,514.3 236.2,514.0 237.3,513.8 238.4,513.8 239.5,513.8 240.6,513.8 241.7,513.9 242.7,513.9 243.8,513.9 244.9,514.0 246.0,514.0 247.1,514.0 248.2,514.0 249.3,514.1 250.4,514.1 251.4,514.1 252.5,514.1 253.6,514.2 254.7,514.2 255.8,514.2 256.9,514.2 258.0,514.3 259.0,514.3 260.1,514.3 261.2,514.4 262.3,514.4 263.4,514.4 264.5,514.4 265.6,514.5 266.6,514.5 267.7,514.5 268.8,514.5 269.9,514.6 271.0,514.6 272.1,514.6 273.2,514.6 274.2,514.7 275.3,514.7" stroke="#3a3a3a" stroke-width="0.75" stroke-opacity="0.9"/>
</g>
<path d="M199.3 461 V524.9 H278.5" stroke="#1e1e1e" stroke-width="1.1" fill="none"/>
<path d="M197.3 523.8 H199.3 M197.3 513.33 H199.3 M197.3 502.87 H199.3 M197.3 492.4 H199.3 M197.3 481.93 H199.3 M197.3 471.47 H199.3 M197.3 461 H199.3 M199.3 524.9 V526.9 M215.14 524.9 V526.9 M230.98 524.9 V526.9 M246.82 524.9 V526.9 M262.66 524.9 V526.9 M278.5 524.9 V526.9" stroke="#1e1e1e" stroke-width="0.9" fill="none"/>
<text x="196.1" y="526.25" font-size="6.8" text-anchor="end" fill="#1a1a1a" >0.0</text>
<text x="196.1" y="515.78" font-size="6.8" text-anchor="end" fill="#1a1a1a" >0.5</text>
<text x="196.1" y="505.31" font-size="6.8" text-anchor="end" fill="#1a1a1a" >1.0</text>
<text x="196.1" y="494.85" font-size="6.8" text-anchor="end" fill="#1a1a1a" >1.5</text>
<text x="196.1" y="484.38" font-size="6.8" text-anchor="end" fill="#1a1a1a" >2.0</text>
<text x="196.1" y="473.91" font-size="6.8" text-anchor="end" fill="#1a1a1a" >2.5</text>
<text x="196.1" y="463.45" font-size="6.8" text-anchor="end" fill="#1a1a1a" >3.0</text>
<text x="199.3" y="533.15" font-size="6.8" text-anchor="middle" fill="#1a1a1a" >0</text>
<text x="215.14" y="533.15" font-size="6.8" text-anchor="middle" fill="#1a1a1a" >100</text>
<text x="230.98" y="533.15" font-size="6.8" text-anchor="middle" fill="#1a1a1a" >200</text>
<text x="246.82" y="533.15" font-size="6.8" text-anchor="middle" fill="#1a1a1a" >300</text>
<text x="262.66" y="533.15" font-size="6.8" text-anchor="middle" fill="#1a1a1a" >400</text>
<text x="278.5" y="533.15" font-size="6.8" text-anchor="middle" fill="#1a1a1a" >500</text>
<text x="239.9" y="543.48" font-size="6.9" text-anchor="middle" fill="#1a1a1a" >Time (s)</text>
<text transform="translate(181.31 492.4) rotate(-90)" font-size="6.7" text-anchor="middle" fill="#1a1a1a">Binding (nm)</text>
<text x="237.3" y="457.8" font-size="6.8" text-anchor="middle" fill="#1a1a1a" >JM-17-18-Fc</text>
<text x="282.5" y="459.72" font-size="5.9" fill="#1a1a1a">K<tspan font-size="3.9" dy="1.4">D</tspan><tspan dy="-1.4">=3.26×10</tspan><tspan font-size="3.9" dy="-2.5">−10</tspan><tspan dy="2.5">M</tspan></text>
<text x="282.5" y="470.12" font-size="5.9" fill="#1a1a1a">ka=9.11×10<tspan font-size="3.9" dy="-2.5"> 4</tspan><tspan dy="2.5"> M</tspan><tspan font-size="3.9" dy="-2.5"> −1</tspan><tspan dy="2.5">s</tspan><tspan font-size="3.9" dy="-2.5">−1</tspan></text>
<text x="282.5" y="480.22" font-size="5.9" fill="#1a1a1a">kd=2.97×10<tspan font-size="3.9" dy="-2.5">−5</tspan><tspan dy="2.5"> s</tspan><tspan font-size="3.9" dy="-2.5"> −1</tspan></text>
<path d="M285.3 493.3 H298" stroke="#e2df38" stroke-width="1.7"/>
<text x="301.6" y="495.32" font-size="5.6" text-anchor="start" fill="#1a1a1a" >160&#160;&#160; nM</text>
<path d="M285.3 501.1 H298" stroke="#ef6f7a" stroke-width="1.7"/>
<text x="301.6" y="503.12" font-size="5.6" text-anchor="start" fill="#1a1a1a" >80 nM</text>
<path d="M285.3 508.7 H298" stroke="#5672ee" stroke-width="1.7"/>
<text x="301.6" y="510.72" font-size="5.6" text-anchor="start" fill="#1a1a1a" >40 nM</text>
<path d="M285.3 516.5 H298" stroke="#f5924a" stroke-width="1.7"/>
<text x="301.6" y="518.52" font-size="5.6" text-anchor="start" fill="#1a1a1a" >20 nM</text>
</svg>
</body></html>
